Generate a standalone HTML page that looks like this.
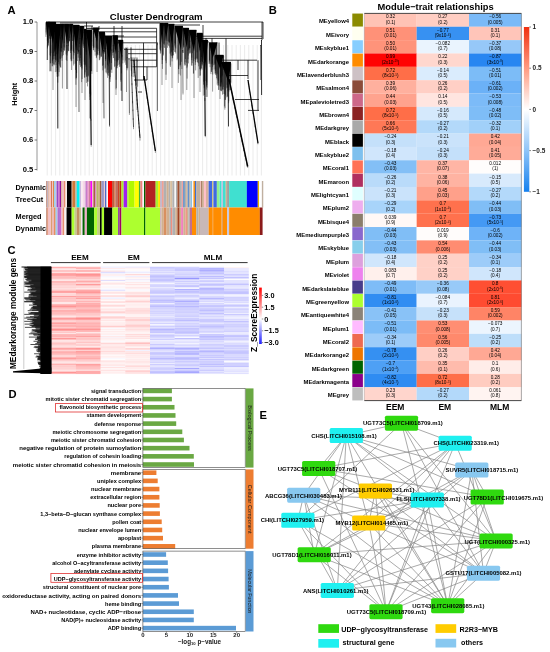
<!DOCTYPE html>
<html><head><meta charset="utf-8"><style>
html,body{margin:0;padding:0;background:#fff;width:550px;height:652px;overflow:hidden}
svg{display:block}
text{font-family:"Liberation Sans",Arial,sans-serif}
</style></head><body>
<svg width="550" height="652" viewBox="0 0 550 652">
<text x="7.60" y="14.20" font-size="11.2" font-weight="bold" text-anchor="start" fill="#000" >A</text>
<text x="268.80" y="13.60" font-size="11.2" font-weight="bold" text-anchor="start" fill="#000" >B</text>
<text x="7.60" y="254.40" font-size="11.2" font-weight="bold" text-anchor="start" fill="#000" >C</text>
<text x="8.60" y="397.60" font-size="11.2" font-weight="bold" text-anchor="start" fill="#000" >D</text>
<text x="259.50" y="418.60" font-size="11.2" font-weight="bold" text-anchor="start" fill="#000" >E</text>
<path d="M47.2 45V175.5M51.4 45V175.5M55.6 45V175.5M59.8 45V175.5M64.0 45V175.5M68.2 45V175.5M72.4 45V175.5M76.6 45V175.5M80.8 45V175.5M85.0 45V175.5M89.2 45V175.5M93.4 45V175.5M97.6 45V175.5M101.8 45V175.5M106.0 45V175.5M110.2 45V175.5M114.4 45V175.5M118.6 45V175.5M122.8 45V175.5M127.0 45V175.5M131.2 45V175.5M135.4 45V175.5M139.6 45V175.5M143.8 45V175.5M148.0 45V175.5M152.2 45V175.5M156.4 45V175.5M160.6 45V175.5M164.8 45V175.5M169.0 45V175.5M173.2 45V175.5M177.4 45V175.5M181.6 45V175.5M185.8 45V175.5M190.0 45V175.5M194.2 45V175.5M198.4 45V175.5M202.6 45V175.5M206.8 45V175.5M211.0 45V175.5M215.2 45V175.5M219.4 45V175.5M223.6 45V175.5M227.8 45V175.5M232.0 45V175.5M236.2 45V175.5M240.4 45V175.5M244.6 45V175.5M248.8 45V175.5M253.0 45V175.5M257.2 45V175.5M261.4 45V175.5" stroke="#e9e9e9" stroke-width="0.9" fill="none"/>
<path d="M45.8 22.0H50.0L48.6 28.1L47.3 34.2L46.5 28.1ZM48.0 22.0H56.0L54.5 32.9L53.0 43.8L50.5 32.9ZM54.0 24.0H61.0L59.4 40.8L57.8 57.6L55.9 40.8ZM61.0 24.0H64.0L63.2 34.3L62.4 44.6L61.7 34.3ZM64.0 24.0H69.0L68.0 34.4L67.0 44.8L65.5 34.4ZM69.0 24.0H73.0L72.3 31.4L71.6 38.7L70.3 31.4ZM73.0 25.0H79.5L77.8 38.1L76.0 51.2L74.5 38.1ZM79.5 26.0H84.0L83.0 36.7L82.0 47.4L80.8 36.7ZM84.0 29.0H86.5L85.8 40.4L85.0 51.7L84.5 40.4ZM86.0 30.0H92.0L91.5 48.4L91.0 66.8L88.5 48.4ZM93.0 27.8H99.0L98.0 34.9L97.0 41.9L95.0 34.9ZM99.0 32.0H105.0L104.0 43.4L103.0 54.7L101.0 43.4ZM105.0 36.0H112.0L110.8 50.2L109.5 64.5L107.2 50.2ZM112.7 35.5H118.0L117.0 45.0L116.0 54.5L114.3 45.0ZM118.0 40.0H123.0L122.5 49.8L122.0 59.5L120.0 49.8ZM159.8 23.0H164.0L163.0 32.9L162.0 42.8L160.9 32.9ZM164.0 23.0H168.4L167.2 32.1L166.0 41.2L165.0 32.1ZM168.4 24.0H174.5L173.2 34.2L172.0 44.5L170.2 34.2ZM174.5 26.0H183.0L182.0 37.8L181.0 49.7L177.8 37.8ZM183.0 28.0H189.0L187.9 37.9L186.8 47.8L184.9 37.9ZM189.0 30.0H196.6L195.3 40.9L194.0 51.8L191.5 40.9ZM196.6 33.0H202.8L201.4 42.4L200.0 51.9L198.3 42.4ZM202.0 40.0H208.0L206.5 55.3L205.0 70.7L203.5 55.3ZM209.0 42.5H217.5L215.1 50.4L212.6 58.2L210.8 50.4ZM215.0 55.0H223.6L221.8 62.0L220.0 69.1L217.5 62.0ZM221.0 62.0H231.0L229.8 72.2L228.5 82.5L224.8 72.2Z" fill="#000"/>
<path d="M45.91 22.9V36.9M46.13 22.1V32.5M46.35 23.3V34.6M45.80 28.9H46.46M47.32 23.0V40.7M47.50 23.0V48.5M47.69 22.8V47.1M47.87 23.0V39.8M48.05 23.1V45.5M47.23 23.7H48.15M49.29 23.3V37.8M49.48 23.4V35.7M49.67 23.2V36.0M49.87 23.4V38.9M49.19 23.7H50.54M47.30 22.0V60.0M46.00 22.0H49.80M48.11 22.9V42.4M48.32 22.8V43.3M48.53 22.5V45.5M49.89 23.3V71.4M50.07 23.0V55.3M50.24 23.3V70.9M50.42 23.4V63.3M50.59 23.1V56.3M50.76 23.2V63.3M50.94 22.4V53.2M51.11 23.3V71.4M49.81 38.4H51.20M52.18 23.2V66.2M52.35 22.1V61.3M52.52 22.1V63.2M52.69 22.5V66.3M52.86 23.5V59.6M53.44 22.0V56.2M53.62 22.6V64.6M53.81 22.2V53.1M53.99 23.3V58.9M54.49 22.8V51.8M54.67 22.9V50.7M54.84 22.9V55.9M55.01 22.8V48.9M55.19 23.1V46.4M55.36 22.5V56.4M55.53 22.8V50.5M55.71 22.0V48.6M53.00 22.0V90.0M48.20 22.0H55.80M54.11 24.1V64.2M54.32 24.7V65.3M54.00 38.1H54.42M55.34 25.0V72.1M55.52 24.4V62.3M55.69 24.9V59.8M55.86 24.5V59.6M56.04 24.6V65.0M56.21 24.5V60.8M56.38 25.2V54.3M56.83 25.2V71.7M57.00 24.3V76.7M57.17 25.0V68.0M57.34 24.5V74.0M57.52 25.3V77.0M57.69 25.3V69.8M57.86 24.5V82.6M58.58 24.8V62.1M58.76 25.2V76.4M58.94 24.3V63.9M59.12 25.2V72.1M59.30 25.2V65.6M58.49 32.5H59.39M59.94 24.6V58.7M60.13 24.6V67.5M60.31 24.2V51.2M60.49 25.4V66.9M60.67 25.5V59.1M60.85 25.4V67.7M59.85 38.0H61.13M57.80 24.0V129.0M54.20 24.0H60.80M61.09 24.4V52.3M61.28 24.3V48.2M61.47 24.9V51.6M61.66 25.2V48.2M61.85 25.4V57.8M62.04 25.4V60.8M62.23 25.3V56.1M61.00 35.9H62.32M63.30 24.8V52.3M63.49 25.4V55.2M63.69 24.5V49.9M62.40 24.0V88.5M61.20 24.0H63.80M64.09 24.3V46.7M64.28 25.2V43.0M64.46 25.2V51.0M64.65 25.2V49.9M64.83 24.0V47.7M66.03 24.8V54.5M66.26 24.7V60.0M65.92 26.7H66.37M66.97 25.5V61.0M67.15 24.1V55.5M67.33 24.5V52.6M66.88 34.8H67.42M67.88 24.5V43.4M68.05 24.8V50.3M68.22 24.6V42.9M68.40 24.3V46.2M68.57 24.9V51.1M68.75 24.6V51.2M67.00 24.0V89.0M64.20 24.0H68.80M69.09 25.1V40.7M69.26 25.0V41.1M69.44 24.4V41.5M69.61 25.0V37.9M69.79 24.6V40.7M70.57 25.2V53.0M70.75 24.7V50.7M70.93 25.2V59.3M71.10 25.3V61.4M71.28 25.0V60.4M71.46 24.8V50.4M71.64 24.9V48.8M71.82 24.2V61.0M70.48 27.3H71.91M72.64 24.0V40.9M72.90 24.2V40.9M71.60 24.0V70.0M69.20 24.0H72.80M73.09 26.2V51.0M73.28 26.2V58.7M73.47 26.1V52.1M73.66 26.1V65.5M73.85 25.1V55.4M74.04 25.8V63.8M74.23 25.4V53.1M73.00 36.0H74.32M75.56 25.6V69.9M75.74 25.6V63.5M75.91 25.8V84.8M76.09 25.6V79.4M76.26 25.2V78.0M76.44 26.1V77.7M76.62 25.8V73.1M77.41 26.1V61.0M77.59 25.8V54.1M77.76 26.1V50.5M77.93 25.4V50.4M78.11 25.9V52.3M78.28 25.3V57.7M78.45 26.4V52.1M78.63 26.1V53.7M79.19 25.0V47.3M79.37 25.6V44.0M79.11 29.6H80.15M76.00 25.0V107.0M73.20 25.0H79.30M79.59 26.7V61.2M79.77 26.7V65.0M79.95 27.2V60.6M80.13 26.7V63.2M80.30 27.3V58.0M80.48 27.1V67.1M80.66 26.7V55.1M79.50 38.6H80.75M81.23 26.4V66.3M81.42 26.4V66.2M81.61 27.1V82.1M81.80 27.3V68.1M82.00 27.3V69.5M82.19 26.6V79.0M81.14 30.9H82.28M83.54 26.9V47.8M83.72 26.0V44.3M83.91 26.7V45.9M83.44 32.3H84.76M82.00 26.0V93.0M79.70 26.0H83.80M84.09 29.2V64.6M84.27 30.0V61.7M84.45 30.3V77.3M84.63 29.1V77.9M84.82 29.6V74.6M85.00 30.1V65.3M85.18 30.0V72.3M85.36 30.2V64.7M86.16 29.2V52.1M86.35 29.5V54.7M85.00 29.0V100.0M84.20 29.0H86.30M86.09 30.9V66.8M86.26 31.3V77.1M86.43 30.2V82.9M86.60 30.2V69.9M86.77 31.1V75.8M86.94 30.8V76.8M86.00 38.7H87.02M87.54 31.1V86.4M87.74 31.1V81.4M87.94 30.4V81.9M88.47 31.2V75.5M88.69 30.5V76.5M89.62 30.2V100.0M89.80 30.1V93.8M89.98 31.2V118.2M90.16 30.3V96.9M90.33 30.6V118.8M90.51 31.2V119.0M90.69 30.9V95.4M89.53 41.6H90.78M91.46 30.4V70.9M91.66 30.0V71.3M91.86 31.3V73.9M91.37 40.9H92.35M91.00 30.0V145.0M86.20 30.0H91.80M93.09 28.8V45.9M93.26 29.1V47.7M93.43 28.7V49.9M93.61 27.8V50.3M93.78 28.8V47.7M93.95 28.6V47.4M93.00 33.6H94.04M95.00 28.5V51.9M95.22 29.2V55.6M94.89 37.3H95.33M96.15 28.2V47.7M96.33 28.6V58.2M96.51 28.3V57.5M96.69 28.8V48.6M96.87 29.1V54.3M97.05 29.2V55.7M97.54 29.1V54.5M97.73 28.9V55.1M97.93 28.0V48.9M98.12 27.9V51.0M97.44 35.4H98.22M97.00 27.8V72.0M93.20 27.8H98.80M99.10 33.0V54.9M99.29 32.7V60.3M99.49 32.6V53.2M99.68 33.3V59.9M99.88 32.6V55.6M100.07 32.8V58.4M99.00 33.6H100.17M101.03 32.7V56.9M101.24 32.3V56.5M101.45 32.6V56.5M100.93 35.2H101.56M102.65 32.0V65.9M102.85 32.6V70.4M103.04 32.1V65.1M102.55 34.6H103.14M103.95 32.7V50.4M104.13 32.9V52.4M104.31 32.2V49.0M104.49 33.1V51.7M104.68 33.2V53.7M104.86 33.4V52.1M103.85 35.9H105.32M103.00 32.0V103.0M99.20 32.0H104.80M105.09 36.1V68.8M105.28 37.5V67.7M105.46 36.0V59.0M105.65 36.1V61.1M105.83 36.1V59.4M106.02 37.0V72.1M106.20 36.3V73.2M105.00 48.4H106.30M107.23 36.5V73.7M107.41 37.4V64.8M107.58 36.4V77.9M107.76 36.2V69.8M107.94 36.5V75.0M108.11 37.4V66.3M108.29 37.1V76.0M108.46 37.3V72.9M109.80 37.2V79.2M110.00 36.4V72.4M110.20 37.1V81.9M110.40 37.1V77.2M109.70 41.6H110.50M111.24 37.1V69.9M111.43 36.1V63.0M111.63 37.3V69.4M111.83 37.3V72.9M111.14 50.1H112.32M109.50 36.0V125.0M105.20 36.0H111.80M112.79 35.6V55.5M112.96 36.9V52.9M113.13 36.4V52.8M113.30 35.6V58.1M113.48 35.9V51.9M113.65 35.7V58.1M113.82 36.4V51.8M112.70 45.7H113.91M114.58 36.7V67.1M114.79 36.7V66.1M115.01 35.8V60.6M114.47 48.2H115.12M115.99 35.8V89.4M116.16 35.6V79.8M116.34 35.8V88.0M116.79 36.0V68.2M116.97 36.2V60.8M117.16 36.8V68.2M117.34 36.7V62.4M117.53 36.3V66.2M117.71 36.6V60.4M116.70 44.0H117.80M116.00 35.5V95.0M112.90 35.5H117.80M118.12 40.6V64.9M118.36 40.9V60.1M118.00 51.5H118.48M119.35 40.3V58.3M119.54 41.4V64.4M119.73 41.3V67.1M119.93 40.9V66.5M120.77 41.4V81.7M120.94 41.2V80.0M121.11 41.5V90.5M121.28 40.4V90.8M121.46 40.3V73.4M122.78 40.1V63.4M122.96 40.4V60.3M122.69 48.1H123.42M122.00 40.0V101.0M118.20 40.0H122.80M124.90 48.4V62.6M125.31 48.1V60.5M125.72 49.1V64.8M126.63 48.2V67.9M127.00 48.7V70.3M127.37 48.8V68.5M127.74 49.3V67.9M126.44 57.8H127.92M126.50 48.0V92.0M124.90 48.0H128.30M131.32 59.2V70.6M131.97 58.2V74.3M133.11 59.2V77.1M134.02 58.3V73.1M134.65 58.6V76.4M133.70 64.0H134.96M136.40 59.2V84.8M136.14 60.3H136.65M137.63 59.4V86.7M137.19 61.0H138.07M137.00 58.0V110.0M131.20 58.0H137.80M159.89 24.2V49.4M160.06 23.4V44.4M160.24 23.0V50.3M160.42 24.3V53.7M160.59 23.7V50.7M160.77 24.4V52.6M160.95 23.9V47.6M162.13 24.5V64.0M162.33 23.6V60.0M162.52 23.7V68.9M162.03 42.2H162.62M163.14 23.6V54.5M163.33 24.2V55.6M163.52 23.9V43.8M162.00 23.0V85.0M160.00 23.0H163.80M164.10 24.1V47.5M164.30 23.2V45.0M164.50 23.6V43.6M164.70 24.3V48.0M164.90 24.0V40.5M165.82 23.5V60.6M166.02 24.4V74.7M166.22 23.5V63.2M165.72 28.1H166.32M167.04 23.3V41.1M167.27 23.1V44.5M167.49 24.1V47.8M166.00 23.0V80.0M164.20 23.0H168.20M168.49 25.4V41.4M168.68 24.4V45.4M168.86 24.4V46.1M169.05 24.1V42.7M169.24 25.4V42.2M169.42 25.4V42.5M169.61 25.5V47.6M170.05 24.3V53.6M170.23 25.2V65.5M170.42 24.1V67.0M170.92 25.5V55.2M171.12 24.2V52.5M171.33 24.2V56.0M171.53 25.4V51.7M170.81 40.3H171.63M172.08 24.5V61.4M172.27 24.7V57.7M172.45 24.5V47.4M172.64 24.5V58.3M172.83 25.2V55.8M173.01 24.7V55.2M173.20 24.7V55.2M173.39 25.2V50.3M172.00 24.0V88.0M168.60 24.0H174.30M174.59 27.4V51.9M174.77 26.3V45.6M174.95 26.3V43.2M175.12 27.5V47.4M175.30 27.3V44.3M175.48 26.0V52.1M175.66 27.2V53.5M175.84 27.0V48.5M177.11 26.2V60.3M177.36 26.5V58.8M176.98 32.6H177.48M178.35 27.4V82.9M178.54 27.3V69.3M178.74 27.5V69.0M178.94 26.2V74.2M179.96 27.5V65.2M180.15 26.7V66.5M180.35 27.3V75.5M180.54 26.8V64.8M181.62 27.2V61.8M181.86 27.3V69.0M182.73 27.3V49.7M182.93 27.3V53.0M182.63 30.7H183.43M181.00 26.0V100.0M174.70 26.0H182.80M183.10 29.0V52.9M183.29 28.9V45.5M183.48 28.3V47.6M183.67 28.9V45.5M183.86 28.1V47.1M183.00 29.6H183.96M184.68 29.1V64.4M184.88 29.3V65.7M185.08 28.7V62.2M185.28 28.2V65.2M185.48 28.6V59.0M186.79 28.9V62.7M186.97 28.0V68.2M187.15 28.0V78.6M187.33 28.3V66.6M186.70 40.4H187.42M187.94 28.7V50.9M188.11 29.5V59.3M188.29 28.1V55.6M188.46 29.1V63.4M188.64 28.1V49.5M187.85 35.0H188.72M186.80 28.0V90.0M183.20 28.0H188.80M189.09 30.6V53.7M189.26 31.3V49.7M189.43 30.6V48.2M189.61 31.0V47.7M189.78 31.4V53.2M189.95 30.9V48.3M190.12 30.3V52.4M190.30 31.3V53.4M189.00 41.2H190.38M191.51 30.4V65.5M191.70 30.2V60.1M191.89 30.9V57.7M192.08 31.2V65.7M192.26 31.3V63.2M192.45 30.3V53.2M191.42 35.9H192.55M193.40 31.2V73.7M193.61 30.2V73.3M193.81 30.6V60.9M193.30 32.8H193.91M195.08 31.2V59.1M195.27 30.6V64.9M195.46 30.3V62.3M195.65 30.4V70.4M195.84 30.5V59.8M194.99 39.4H195.94M196.55 38.5H197.57M194.00 30.0V98.0M189.20 30.0H196.40M196.69 33.6V58.2M196.87 33.9V59.3M197.05 33.7V52.4M197.22 34.2V62.1M197.40 33.7V58.7M197.58 33.4V62.5M198.19 33.5V77.9M198.41 33.7V63.4M198.62 34.1V66.3M199.84 34.3V69.2M200.02 33.8V76.0M200.19 33.7V69.4M200.37 33.9V75.3M200.54 33.3V62.1M200.71 34.1V70.5M199.76 49.5H200.80M201.24 34.3V68.6M201.41 33.4V57.0M201.58 34.0V68.4M201.75 33.5V64.3M201.92 33.9V60.9M202.10 34.0V65.7M202.27 33.6V58.6M202.44 33.8V61.9M200.00 33.0V92.0M196.80 33.0H202.60M202.10 40.6V69.7M202.29 40.2V62.3M202.49 40.7V64.5M203.31 41.4V95.6M203.51 40.8V84.7M203.70 40.1V81.7M203.21 62.3H203.80M204.23 40.7V88.3M204.41 41.4V86.5M204.58 40.9V95.1M204.14 48.7H204.67M205.92 41.4V80.9M206.10 41.1V97.0M206.29 40.3V89.6M206.47 41.5V86.6M206.66 41.1V82.5M206.84 41.0V85.1M207.03 40.8V87.6M207.21 41.3V96.9M205.00 40.0V135.8M202.20 40.0H207.80M209.10 42.9V64.0M209.29 43.4V62.5M209.48 42.6V60.1M209.67 43.5V60.8M209.87 43.6V63.8M210.06 43.9V67.2M210.91 43.6V74.1M211.12 42.8V64.3M211.32 44.0V71.9M211.52 43.2V71.8M210.81 50.3H211.62M212.01 42.7V69.8M212.20 43.8V64.0M212.39 42.5V62.8M212.58 43.7V67.1M212.76 43.2V74.5M212.95 43.4V65.4M213.97 42.8V65.1M214.17 43.3V69.5M214.88 43.7V64.4M215.05 43.5V63.1M215.22 42.8V64.3M216.41 42.6V58.4M216.61 43.4V60.5M216.80 43.4V58.4M217.00 42.5V55.9M216.32 45.1H217.10M212.60 42.5V91.6M209.20 42.5H217.30M215.09 55.9V74.1M215.26 56.1V73.0M215.43 55.6V71.1M215.60 55.1V75.1M215.77 55.8V69.3M215.94 56.4V73.5M216.62 55.3V78.0M216.79 56.5V75.4M216.97 55.7V79.4M217.15 55.4V84.7M217.32 55.6V73.8M216.53 56.6H217.41M217.88 55.1V85.8M218.08 55.5V83.1M218.27 55.5V80.7M218.47 55.2V85.2M218.66 55.1V89.9M218.86 55.1V89.9M217.78 57.8H218.96M220.12 55.8V86.1M220.30 55.1V86.6M220.47 55.8V90.8M220.64 55.0V77.8M220.82 56.0V90.3M220.99 55.6V87.2M221.17 55.8V82.7M220.04 64.5H221.25M222.12 55.4V76.6M222.33 55.4V75.3M223.07 55.3V67.9M223.24 55.1V67.2M223.42 55.9V69.9M223.59 55.4V66.9M222.98 57.0H224.20M220.00 55.0V99.0M215.20 55.0H223.40M221.10 62.8V86.1M221.29 62.6V82.2M221.48 63.1V91.3M221.67 62.5V90.9M221.86 62.4V84.4M221.00 65.9H221.95M222.53 62.2V94.7M222.71 62.7V89.3M222.89 62.8V90.0M223.07 62.3V89.4M223.24 63.0V94.0M223.42 63.4V86.9M224.46 62.2V106.4M224.64 63.3V94.1M224.83 62.9V109.7M225.01 62.4V107.9M225.19 63.4V100.0M225.38 62.2V95.5M225.56 63.2V99.7M224.37 72.0H225.65M226.67 63.4V88.4M226.84 62.6V97.4M227.02 62.4V84.8M227.20 63.3V87.3M227.38 62.3V96.8M227.56 62.3V96.3M227.73 62.5V87.9M227.91 62.3V91.2M228.60 63.3V103.2M228.80 63.1V101.3M229.01 62.1V91.6M229.22 62.3V90.1M230.15 62.2V84.3M230.32 62.1V89.8M230.50 62.4V82.8M230.67 63.4V82.1M230.85 63.4V83.3M228.50 62.0V126.0M221.20 62.0H230.80M144.00 76.0V77.1M144.30 78.0V80.8M144.60 79.9V81.7M144.90 81.9V83.5M145.20 83.9V86.2M145.50 85.9V88.0M145.80 87.8V89.3M146.10 89.8V91.0M146.40 91.8V93.9M146.70 93.8V94.7M147.00 95.7V98.5M147.30 97.7V99.3M147.60 99.7V100.9M147.90 101.7V103.2M148.20 103.6V104.8M148.50 105.6V107.2M148.80 107.6V109.6M149.10 109.6V111.3M149.40 111.5V113.1M149.70 113.5V115.0M150.00 115.5V117.4M150.30 117.4V120.0M150.60 119.4V121.2M150.90 121.4V123.9M151.20 123.4V125.3M151.50 125.3V126.5M151.80 127.3V128.6M152.10 129.3V132.0M152.40 131.3V133.2M152.70 133.2V134.9M153.00 135.2V137.2M153.30 137.2V139.9M153.60 139.2V140.8M153.90 141.1V142.8M154.20 143.1V144.8M154.50 145.1V146.0M154.80 147.1V149.1M155.10 149.0V150.9M155.40 151.0V152.9M229.00 79.0V80.8M229.30 80.4V82.3M229.60 81.8V84.2M229.90 83.2V84.5M230.21 84.6V87.6M230.51 86.1V87.2M230.81 87.5V90.2M231.11 88.9V90.1M231.41 90.3V92.9M231.71 91.7V93.1M232.02 93.1V94.2M232.32 94.5V96.6M232.62 95.9V98.6M232.92 97.3V100.0M233.22 98.8V101.5M233.52 100.2V103.1M233.83 101.6V102.6M234.13 103.0V104.7M234.43 104.4V105.5M234.73 105.8V108.3M235.03 107.2V109.1M235.33 108.6V111.1M235.64 110.0V112.6M235.94 111.5V114.5M236.24 112.9V115.2M236.54 114.3V117.0M236.84 115.7V117.7M237.14 117.1V118.2M237.45 118.5V121.3M237.75 119.9V121.0M238.05 121.3V122.4M238.35 122.8V125.4M238.65 124.2V125.7M238.95 125.6V127.9M239.25 127.0V127.9M239.56 128.4V129.7M239.86 129.8V132.2M240.16 131.2V132.2M240.46 132.6V134.6M240.76 134.0V136.9M241.06 135.5V136.8M241.37 136.9V139.2M241.67 138.3V140.7M241.97 139.7V141.9M242.27 141.1V143.6M242.57 142.5V144.9M242.87 143.9V144.8M243.18 145.3V146.6M243.48 146.7V148.8M243.78 148.2V151.1M244.08 149.6V150.9M244.38 151.0V153.1M244.68 152.4V153.6M244.99 153.8V156.5M245.29 155.2V157.0M245.59 156.6V158.6M245.89 158.0V160.3M246.19 159.4V160.6M246.49 160.9V163.3M246.80 162.3V164.8M247.10 163.7V166.4M247.40 165.1V166.6M247.70 166.5V167.9M248.00 80.0V81.2M248.30 81.9V84.7M248.61 83.8V85.6M248.91 85.7V87.4M249.21 87.6V89.6M249.52 89.5V91.9M249.82 91.5V93.0M250.12 93.4V95.0M250.42 95.3V97.8M250.73 97.2V99.7M251.03 99.1V100.6M251.33 101.0V102.1M251.64 102.9V105.8M251.94 104.8V107.3M252.24 106.7V108.9M252.55 108.6V110.4M252.85 110.5V113.5M253.15 112.5V114.3M253.45 114.4V115.7M253.76 116.3V117.4M254.06 118.2V119.8M254.36 120.1V122.3M254.67 122.0V123.7M254.97 123.9V126.8M255.27 125.8V128.1M255.58 127.7V129.6M255.88 129.6V131.9M256.18 131.5V133.7M256.48 133.5V135.7M256.79 135.4V137.3M257.09 137.3V139.3M257.39 139.2V141.1M257.70 141.1V143.7M258.00 143.0V144.3M134.00 60.0V62.5M134.30 63.9V65.4M134.60 67.8V70.5M134.90 71.7V72.8M135.20 75.6V77.5M135.50 79.5V81.3M135.80 83.4V85.8M136.10 87.3V88.6M136.40 91.2V92.7M136.70 95.1V96.3M137.00 99.0V101.1M137.30 102.9V105.0M137.60 106.8V107.7M137.90 110.7V112.0M138.20 114.6V115.9M138.50 118.5V121.4M138.80 122.4V124.3M139.10 126.3V128.4M139.40 130.2V131.7M139.70 134.1V136.4M140.00 138.0V140.6M131.00 57.0V59.3M131.31 65.8V66.7M131.62 74.5V76.3M131.94 83.2V85.2M132.25 92.0V93.0M132.56 100.8V103.3M132.88 109.5V111.1M133.19 118.2V119.8M133.50 127.0V129.2M129.00 58.0V60.1M129.40 113.0V114.9M157.40 42.5V45.2M90.00 40.0V42.0M90.30 66.2V67.9M90.60 92.5V93.5M90.90 118.8V120.8M91.20 145.0V146.7M57.50 50.0V51.4M103.50 50.0V51.1M104.00 118.0V118.6M109.00 50.0V50.7M109.50 126.0V126.8M78.80 50.0V50.7M121.80 55.0V56.8M228.00 75.0V76.4M228.50 126.0V126.9M182.70 50.0V51.6M183.00 93.0V94.5M66.80 45.0V45.7M47.50 30.0V31.7M204.50 60.0V61.4M204.90 98.0V101.0M205.30 136.0V137.2M261.50 40.0V41.0M260.50 45.0V45.9" stroke="#000" stroke-width="0.4" fill="none"/><line x1="144" y1="76" x2="155.4" y2="151" stroke="#000" stroke-width="1.3"/><line x1="229" y1="79" x2="247.7" y2="166.5" stroke="#000" stroke-width="1.4"/><line x1="248" y1="80" x2="258" y2="143" stroke="#000" stroke-width="1.2"/><line x1="134" y1="60" x2="140" y2="138" stroke="#000" stroke-width="0.9"/><line x1="131" y1="57" x2="133.5" y2="127" stroke="#000" stroke-width="0.7"/><line x1="129" y1="58" x2="129.4" y2="113" stroke="#000" stroke-width="0.6"/><line x1="157.4" y1="42.5" x2="157.4" y2="111" stroke="#000" stroke-width="0.6"/><line x1="90" y1="40" x2="91.2" y2="145" stroke="#000" stroke-width="0.9"/><line x1="57.5" y1="50" x2="57.8" y2="128" stroke="#000" stroke-width="0.6"/><line x1="103.5" y1="50" x2="104" y2="118" stroke="#000" stroke-width="0.6"/><line x1="109" y1="50" x2="109.5" y2="126" stroke="#000" stroke-width="0.6"/><line x1="78.8" y1="50" x2="79" y2="112" stroke="#000" stroke-width="0.6"/><line x1="121.8" y1="55" x2="122" y2="101" stroke="#000" stroke-width="0.5"/><line x1="228" y1="75" x2="228.5" y2="126" stroke="#000" stroke-width="0.6"/><line x1="182.7" y1="50" x2="183" y2="93" stroke="#000" stroke-width="0.5"/><line x1="66.8" y1="45" x2="67" y2="89" stroke="#000" stroke-width="0.5"/><line x1="47.5" y1="30" x2="47.3" y2="60" stroke="#000" stroke-width="0.5"/><line x1="204.5" y1="60" x2="205.3" y2="136" stroke="#000" stroke-width="0.9"/><line x1="261.5" y1="40" x2="261.6" y2="95" stroke="#000" stroke-width="0.8"/><line x1="260.5" y1="45" x2="260.7" y2="80" stroke="#000" stroke-width="0.5"/><line x1="46" y1="22" x2="263" y2="22" stroke="#000" stroke-width="0.75"/><line x1="263" y1="22" x2="263" y2="39" stroke="#000" stroke-width="0.75"/><line x1="196" y1="36.2" x2="262" y2="36.2" stroke="#000" stroke-width="0.75"/><line x1="198" y1="38.4" x2="262" y2="38.4" stroke="#000" stroke-width="0.75"/><line x1="84" y1="26" x2="93" y2="26" stroke="#000" stroke-width="0.75"/><line x1="100" y1="36" x2="124" y2="36" stroke="#000" stroke-width="0.75"/><line x1="86.8" y1="28.3" x2="156.6" y2="28.3" stroke="#000" stroke-width="0.75"/><line x1="93.3" y1="31.8" x2="156.6" y2="31.8" stroke="#000" stroke-width="0.75"/><line x1="115" y1="37" x2="156.6" y2="37" stroke="#000" stroke-width="0.75"/><line x1="117" y1="42.8" x2="156.6" y2="42.8" stroke="#000" stroke-width="0.75"/><line x1="124" y1="49.3" x2="156.6" y2="49.3" stroke="#000" stroke-width="0.75"/><line x1="128" y1="53.7" x2="156.6" y2="53.7" stroke="#000" stroke-width="0.75"/><line x1="130.5" y1="60.2" x2="156.6" y2="60.2" stroke="#000" stroke-width="0.75"/><line x1="132.6" y1="66.8" x2="156.6" y2="66.8" stroke="#000" stroke-width="0.75"/><line x1="134" y1="80" x2="147" y2="80" stroke="#000" stroke-width="0.75"/><line x1="138" y1="92" x2="142" y2="92" stroke="#000" stroke-width="0.75"/><line x1="222" y1="60.2" x2="257" y2="60.2" stroke="#000" stroke-width="0.75"/><line x1="229" y1="75.5" x2="248" y2="75.5" stroke="#000" stroke-width="0.75"/><line x1="235" y1="99.5" x2="259" y2="99.5" stroke="#000" stroke-width="0.75"/><line x1="248" y1="110.4" x2="259" y2="110.4" stroke="#000" stroke-width="0.75"/><line x1="200" y1="41" x2="204" y2="41" stroke="#000" stroke-width="0.75"/><line x1="204" y1="42" x2="209" y2="42" stroke="#000" stroke-width="0.75"/><line x1="60" y1="23" x2="160" y2="23" stroke="#000" stroke-width="0.75"/><line x1="160" y1="25" x2="200" y2="25" stroke="#000" stroke-width="0.75"/><line x1="86" y1="29" x2="100" y2="29" stroke="#000" stroke-width="0.75"/><line x1="92" y1="26" x2="92" y2="30" stroke="#000" stroke-width="0.75"/><line x1="108.5" y1="36" x2="108.5" y2="40" stroke="#000" stroke-width="0.75"/><line x1="156.6" y1="28.3" x2="156.6" y2="66.8" stroke="#000" stroke-width="0.75"/><line x1="143.5" y1="42.8" x2="143.5" y2="80" stroke="#000" stroke-width="0.75"/><line x1="131" y1="47.4" x2="131" y2="57" stroke="#000" stroke-width="0.75"/><line x1="203" y1="25" x2="203" y2="40" stroke="#000" stroke-width="0.75"/><line x1="206" y1="38" x2="206" y2="42" stroke="#000" stroke-width="0.75"/><line x1="262" y1="22" x2="262" y2="40" stroke="#000" stroke-width="0.75"/><line x1="258" y1="60.2" x2="258" y2="110.4" stroke="#000" stroke-width="0.75"/><line x1="248" y1="60.2" x2="248" y2="79" stroke="#000" stroke-width="0.75"/><line x1="238" y1="60.2" x2="238" y2="70" stroke="#000" stroke-width="0.75"/><line x1="147" y1="66.8" x2="147" y2="80" stroke="#000" stroke-width="0.75"/><line x1="114" y1="26" x2="114" y2="36" stroke="#000" stroke-width="0.75"/><line x1="122" y1="26" x2="122" y2="40" stroke="#000" stroke-width="0.75"/><line x1="86.5" y1="22" x2="86.5" y2="29" stroke="#000" stroke-width="0.75"/><line x1="226" y1="38.4" x2="226" y2="62" stroke="#000" stroke-width="0.75"/><line x1="212" y1="38.4" x2="212" y2="42.5" stroke="#000" stroke-width="0.75"/><line x1="219" y1="42.5" x2="219" y2="55" stroke="#000" stroke-width="0.75"/><line x1="99" y1="26" x2="99" y2="28" stroke="#000" stroke-width="0.75"/>
<text x="156.20" y="19.90" font-size="9.6" font-weight="bold" text-anchor="middle" fill="#000" >Cluster Dendrogram</text>
<line x1="37" y1="22" x2="37" y2="170.5" stroke="#8a8a8a" stroke-width="0.9"/>
<line x1="34.6" y1="22.0" x2="37" y2="22.0" stroke="#555" stroke-width="0.8"/>
<text x="33.30" y="24.30" font-size="7.6" font-weight="bold" text-anchor="end" fill="#000" >1.0</text>
<line x1="34.6" y1="51.5" x2="37" y2="51.5" stroke="#555" stroke-width="0.8"/>
<text x="33.30" y="53.80" font-size="7.6" font-weight="bold" text-anchor="end" fill="#000" >0.9</text>
<line x1="34.6" y1="81.0" x2="37" y2="81.0" stroke="#555" stroke-width="0.8"/>
<text x="33.30" y="83.30" font-size="7.6" font-weight="bold" text-anchor="end" fill="#000" >0.8</text>
<line x1="34.6" y1="110.5" x2="37" y2="110.5" stroke="#555" stroke-width="0.8"/>
<text x="33.30" y="112.80" font-size="7.6" font-weight="bold" text-anchor="end" fill="#000" >0.7</text>
<line x1="34.6" y1="140.0" x2="37" y2="140.0" stroke="#555" stroke-width="0.8"/>
<text x="33.30" y="142.30" font-size="7.6" font-weight="bold" text-anchor="end" fill="#000" >0.6</text>
<line x1="34.6" y1="169.5" x2="37" y2="169.5" stroke="#555" stroke-width="0.8"/>
<text x="33.30" y="171.80" font-size="7.6" font-weight="bold" text-anchor="end" fill="#000" >0.5</text>
<text x="0.00" y="0.00" font-size="7.4" font-weight="bold" text-anchor="middle" fill="#000" transform="translate(17.4,94.3) rotate(-90)">Height</text>
<text x="15.60" y="190.20" font-size="7.3" font-weight="bold" text-anchor="start" fill="#000" >Dynamic</text>
<text x="15.60" y="202.00" font-size="7.45" font-weight="bold" text-anchor="start" fill="#000" >TreeCut</text>
<text x="15.60" y="219.20" font-size="7.3" font-weight="bold" text-anchor="start" fill="#000" >Merged</text>
<text x="15.60" y="231.00" font-size="7.3" font-weight="bold" text-anchor="start" fill="#000" >Dynamic</text>
<rect x="46.18" y="181" width="1.07" height="26.5" fill="#c08878"/>
<rect x="47.20" y="181" width="1.21" height="26.5" fill="#b8a8b8"/>
<rect x="48.36" y="181" width="1.21" height="26.5" fill="#e0a888"/>
<rect x="49.53" y="181" width="1.50" height="26.5" fill="#f4c4c4"/>
<rect x="50.98" y="181" width="1.07" height="26.5" fill="#d87858"/>
<rect x="52.00" y="181" width="1.07" height="26.5" fill="#f4c4c4"/>
<rect x="53.02" y="181" width="1.21" height="26.5" fill="#e08848"/>
<rect x="54.18" y="181" width="1.50" height="26.5" fill="#88d0f0"/>
<rect x="55.64" y="181" width="1.21" height="26.5" fill="#c8a8d8"/>
<rect x="56.80" y="181" width="1.50" height="26.5" fill="#9848c8"/>
<rect x="58.25" y="181" width="1.80" height="26.5" fill="#c868c8"/>
<rect x="60.00" y="181" width="1.21" height="26.5" fill="#9010a0"/>
<rect x="61.16" y="181" width="1.50" height="26.5" fill="#d8b098"/>
<rect x="62.62" y="181" width="1.50" height="26.5" fill="#f0b8c0"/>
<rect x="64.07" y="181" width="1.50" height="26.5" fill="#e88868"/>
<rect x="65.53" y="181" width="1.50" height="26.5" fill="#f8f0f0"/>
<rect x="66.98" y="181" width="4.70" height="26.5" fill="#000000"/>
<rect x="71.64" y="181" width="0.78" height="26.5" fill="#c8a078"/>
<rect x="72.36" y="181" width="2.96" height="26.5" fill="#d07838"/>
<rect x="75.27" y="181" width="1.50" height="26.5" fill="#b8b098"/>
<rect x="76.73" y="181" width="2.96" height="26.5" fill="#00f0f0"/>
<rect x="79.64" y="181" width="1.50" height="26.5" fill="#c8b8e0"/>
<rect x="81.09" y="181" width="1.94" height="26.5" fill="#f8e8f0"/>
<rect x="82.98" y="181" width="1.80" height="26.5" fill="#f8d8e8"/>
<rect x="84.73" y="181" width="1.50" height="26.5" fill="#d8b0d8"/>
<rect x="86.18" y="181" width="1.50" height="26.5" fill="#c060c0"/>
<rect x="87.64" y="181" width="1.80" height="26.5" fill="#f0a0c8"/>
<rect x="89.38" y="181" width="1.21" height="26.5" fill="#b05070"/>
<rect x="90.55" y="181" width="1.50" height="26.5" fill="#ff00ff"/>
<rect x="92.00" y="181" width="1.50" height="26.5" fill="#f0c0d0"/>
<rect x="93.45" y="181" width="1.50" height="26.5" fill="#a05030"/>
<rect x="94.91" y="181" width="1.50" height="26.5" fill="#d890c8"/>
<rect x="96.36" y="181" width="1.80" height="26.5" fill="#b8b868"/>
<rect x="98.11" y="181" width="1.94" height="26.5" fill="#c8b080"/>
<rect x="100.00" y="181" width="1.50" height="26.5" fill="#a06040"/>
<rect x="101.45" y="181" width="2.52" height="26.5" fill="#9898c8"/>
<rect x="103.93" y="181" width="1.21" height="26.5" fill="#f0c8d0"/>
<rect x="105.09" y="181" width="1.50" height="26.5" fill="#4060c0"/>
<rect x="106.55" y="181" width="1.50" height="26.5" fill="#f8f8f8"/>
<rect x="108.00" y="181" width="4.41" height="26.5" fill="#ff0000"/>
<rect x="112.36" y="181" width="1.50" height="26.5" fill="#a04020"/>
<rect x="113.82" y="181" width="1.50" height="26.5" fill="#e08860"/>
<rect x="115.27" y="181" width="2.96" height="26.5" fill="#c07060"/>
<rect x="118.18" y="181" width="1.50" height="26.5" fill="#c02000"/>
<rect x="119.64" y="181" width="0.41" height="26.5" fill="#a0a040"/>
<rect x="120.00" y="181" width="1.50" height="26.5" fill="#c03000"/>
<rect x="121.45" y="181" width="2.23" height="26.5" fill="#a8f030"/>
<rect x="123.64" y="181" width="3.69" height="26.5" fill="#a020f0"/>
<rect x="127.27" y="181" width="1.50" height="26.5" fill="#a8f030"/>
<rect x="128.73" y="181" width="5.87" height="26.5" fill="#b0f800"/>
<rect x="134.55" y="181" width="4.41" height="26.5" fill="#ffff00"/>
<rect x="138.91" y="181" width="1.50" height="26.5" fill="#40b040"/>
<rect x="140.36" y="181" width="2.23" height="26.5" fill="#f08080"/>
<rect x="142.55" y="181" width="1.50" height="26.5" fill="#f8f8f8"/>
<rect x="144.00" y="181" width="1.50" height="26.5" fill="#006400"/>
<rect x="145.45" y="181" width="10.23" height="26.5" fill="#b22222"/>
<rect x="155.64" y="181" width="2.52" height="26.5" fill="#a8f030"/>
<rect x="158.11" y="181" width="1.94" height="26.5" fill="#ffe000"/>
<rect x="160.00" y="181" width="2.23" height="26.5" fill="#c8b8c8"/>
<rect x="162.18" y="181" width="1.50" height="26.5" fill="#f09080"/>
<rect x="163.64" y="181" width="2.96" height="26.5" fill="#b0b0b0"/>
<rect x="166.55" y="181" width="2.23" height="26.5" fill="#d0b090"/>
<rect x="168.73" y="181" width="1.50" height="26.5" fill="#b0b0b0"/>
<rect x="170.18" y="181" width="2.23" height="26.5" fill="#d8c0a0"/>
<rect x="172.36" y="181" width="2.23" height="26.5" fill="#b0b0b0"/>
<rect x="174.55" y="181" width="1.50" height="26.5" fill="#f8f8f8"/>
<rect x="176.00" y="181" width="1.50" height="26.5" fill="#b0b0b0"/>
<rect x="177.45" y="181" width="2.23" height="26.5" fill="#a05030"/>
<rect x="179.64" y="181" width="2.23" height="26.5" fill="#b0b0b0"/>
<rect x="181.82" y="181" width="1.50" height="26.5" fill="#f0a0a0"/>
<rect x="183.27" y="181" width="1.50" height="26.5" fill="#4080c0"/>
<rect x="184.73" y="181" width="1.50" height="26.5" fill="#b0b0b0"/>
<rect x="186.18" y="181" width="1.50" height="26.5" fill="#d0b090"/>
<rect x="187.64" y="181" width="1.50" height="26.5" fill="#6090d0"/>
<rect x="189.09" y="181" width="1.50" height="26.5" fill="#b0b0b0"/>
<rect x="190.55" y="181" width="1.50" height="26.5" fill="#90c0e0"/>
<rect x="192.00" y="181" width="1.50" height="26.5" fill="#f8f8f8"/>
<rect x="193.45" y="181" width="1.50" height="26.5" fill="#ff9000"/>
<rect x="194.91" y="181" width="1.50" height="26.5" fill="#4070d0"/>
<rect x="196.36" y="181" width="3.69" height="26.5" fill="#c0b0a0"/>
<rect x="199.99" y="181" width="1.20" height="26.5" fill="#f0c0c0"/>
<rect x="201.14" y="181" width="1.41" height="26.5" fill="#a07050"/>
<rect x="202.50" y="181" width="1.41" height="26.5" fill="#d0b090"/>
<rect x="203.87" y="181" width="2.10" height="26.5" fill="#ffc0cb"/>
<rect x="205.91" y="181" width="2.78" height="26.5" fill="#d8b0a0"/>
<rect x="208.64" y="181" width="3.46" height="26.5" fill="#4169e1"/>
<rect x="212.05" y="181" width="1.41" height="26.5" fill="#d0c080"/>
<rect x="213.42" y="181" width="3.46" height="26.5" fill="#4169e1"/>
<rect x="216.83" y="181" width="2.78" height="26.5" fill="#90ee90"/>
<rect x="219.56" y="181" width="2.10" height="26.5" fill="#40e0d0"/>
<rect x="221.60" y="181" width="1.41" height="26.5" fill="#c8c0e0"/>
<rect x="222.97" y="181" width="2.78" height="26.5" fill="#40e0d0"/>
<rect x="225.70" y="181" width="1.41" height="26.5" fill="#d0b090"/>
<rect x="227.06" y="181" width="2.10" height="26.5" fill="#a0a0a0"/>
<rect x="229.11" y="181" width="17.79" height="26.5" fill="#40e0d0"/>
<rect x="246.84" y="181" width="10.96" height="26.5" fill="#0000ff"/>
<rect x="257.76" y="181" width="1.41" height="26.5" fill="#e0b000"/>
<rect x="259.12" y="181" width="2.78" height="26.5" fill="#ffffff"/>
<rect x="261.85" y="181" width="1.41" height="26.5" fill="#c0b0a0"/>
<rect x="46.18" y="207.5" width="1.07" height="27.5" fill="#c08878"/>
<rect x="47.20" y="207.5" width="1.21" height="27.5" fill="#e09070"/>
<rect x="48.36" y="207.5" width="1.50" height="27.5" fill="#f0b8c0"/>
<rect x="49.82" y="207.5" width="1.50" height="27.5" fill="#f4c4c4"/>
<rect x="51.27" y="207.5" width="1.21" height="27.5" fill="#d08048"/>
<rect x="52.44" y="207.5" width="1.50" height="27.5" fill="#f0b8c0"/>
<rect x="53.89" y="207.5" width="1.80" height="27.5" fill="#e89060"/>
<rect x="55.64" y="207.5" width="1.21" height="27.5" fill="#88d0f0"/>
<rect x="56.80" y="207.5" width="1.50" height="27.5" fill="#c8a8d8"/>
<rect x="58.25" y="207.5" width="1.50" height="27.5" fill="#9848c8"/>
<rect x="59.71" y="207.5" width="1.80" height="27.5" fill="#c868c8"/>
<rect x="61.45" y="207.5" width="1.21" height="27.5" fill="#f0b8c0"/>
<rect x="62.62" y="207.5" width="1.80" height="27.5" fill="#e89070"/>
<rect x="64.36" y="207.5" width="2.23" height="27.5" fill="#f8f0f0"/>
<rect x="66.55" y="207.5" width="5.14" height="27.5" fill="#000000"/>
<rect x="71.64" y="207.5" width="2.96" height="27.5" fill="#adff2f"/>
<rect x="74.55" y="207.5" width="2.23" height="27.5" fill="#c8c890"/>
<rect x="76.73" y="207.5" width="2.96" height="27.5" fill="#c09060"/>
<rect x="79.64" y="207.5" width="1.50" height="27.5" fill="#c8c890"/>
<rect x="81.09" y="207.5" width="1.50" height="27.5" fill="#f8e0f0"/>
<rect x="82.55" y="207.5" width="2.23" height="27.5" fill="#006400"/>
<rect x="84.73" y="207.5" width="2.23" height="27.5" fill="#f0b0c8"/>
<rect x="86.91" y="207.5" width="7.32" height="27.5" fill="#006400"/>
<rect x="94.18" y="207.5" width="2.96" height="27.5" fill="#adff2f"/>
<rect x="97.09" y="207.5" width="2.96" height="27.5" fill="#c0d080"/>
<rect x="100.00" y="207.5" width="1.80" height="27.5" fill="#000000"/>
<rect x="101.75" y="207.5" width="2.38" height="27.5" fill="#adff2f"/>
<rect x="104.07" y="207.5" width="8.34" height="27.5" fill="#000000"/>
<rect x="112.36" y="207.5" width="5.87" height="27.5" fill="#adff2f"/>
<rect x="118.18" y="207.5" width="1.50" height="27.5" fill="#8020a0"/>
<rect x="119.64" y="207.5" width="0.41" height="27.5" fill="#a05030"/>
<rect x="120.00" y="207.5" width="1.50" height="27.5" fill="#a00060"/>
<rect x="121.45" y="207.5" width="22.60" height="27.5" fill="#adff2f"/>
<rect x="144.00" y="207.5" width="1.50" height="27.5" fill="#006400"/>
<rect x="145.45" y="207.5" width="14.60" height="27.5" fill="#adff2f"/>
<rect x="160.00" y="207.5" width="1.50" height="27.5" fill="#d0b8c0"/>
<rect x="161.45" y="207.5" width="2.23" height="27.5" fill="#d0b090"/>
<rect x="163.64" y="207.5" width="2.96" height="27.5" fill="#d89060"/>
<rect x="166.55" y="207.5" width="2.96" height="27.5" fill="#d0b090"/>
<rect x="169.45" y="207.5" width="1.50" height="27.5" fill="#b0b0b0"/>
<rect x="170.91" y="207.5" width="1.50" height="27.5" fill="#f09080"/>
<rect x="172.36" y="207.5" width="2.96" height="27.5" fill="#b0b0b0"/>
<rect x="175.27" y="207.5" width="2.23" height="27.5" fill="#d0b090"/>
<rect x="177.45" y="207.5" width="2.23" height="27.5" fill="#a04020"/>
<rect x="179.64" y="207.5" width="1.50" height="27.5" fill="#d0b090"/>
<rect x="181.09" y="207.5" width="2.23" height="27.5" fill="#f080c0"/>
<rect x="183.27" y="207.5" width="2.23" height="27.5" fill="#d0b090"/>
<rect x="185.45" y="207.5" width="1.50" height="27.5" fill="#f09080"/>
<rect x="186.91" y="207.5" width="1.50" height="27.5" fill="#d0b090"/>
<rect x="188.36" y="207.5" width="1.50" height="27.5" fill="#b0b0b0"/>
<rect x="189.82" y="207.5" width="2.23" height="27.5" fill="#c07090"/>
<rect x="192.00" y="207.5" width="4.41" height="27.5" fill="#ff8c00"/>
<rect x="196.36" y="207.5" width="2.23" height="27.5" fill="#b0b0b0"/>
<rect x="198.55" y="207.5" width="1.50" height="27.5" fill="#d0b090"/>
<rect x="199.99" y="207.5" width="8.70" height="27.5" fill="#c8b8b8"/>
<rect x="208.64" y="207.5" width="4.14" height="27.5" fill="#ff8c00"/>
<rect x="212.74" y="207.5" width="0.46" height="27.5" fill="#e0a060"/>
<rect x="213.14" y="207.5" width="8.51" height="27.5" fill="#ff8c00"/>
<rect x="221.60" y="207.5" width="1.41" height="27.5" fill="#e0a060"/>
<rect x="222.97" y="207.5" width="4.14" height="27.5" fill="#ff8c00"/>
<rect x="227.06" y="207.5" width="2.10" height="27.5" fill="#c8c8e0"/>
<rect x="229.11" y="207.5" width="30.75" height="27.5" fill="#ff8c00"/>
<rect x="259.80" y="207.5" width="2.78" height="27.5" fill="#8b1a1a"/>
<text x="435.60" y="10.30" font-size="9.3" font-weight="bold" text-anchor="middle" fill="#000" >Module−trait relationships</text>
<text x="349.00" y="23.48" font-size="5.9" font-weight="bold" text-anchor="end" fill="#000" >MEyellow4</text>
<rect x="352.3" y="13.55" width="10.6" height="13.05" fill="#8B8B00"/>
<rect x="364.30" y="13.40" width="52.42" height="13.40" fill="#ffc3b5"/>
<text x="390.48" y="18.30" font-size="4.7" font-weight="normal" text-anchor="middle" fill="#000" >0.32</text>
<text x="390.48" y="23.60" font-size="4.7" font-weight="normal" text-anchor="middle" fill="#000" >(0.1)</text>
<rect x="416.67" y="13.40" width="52.42" height="13.40" fill="#ffcec3"/>
<text x="442.85" y="18.30" font-size="4.7" font-weight="normal" text-anchor="middle" fill="#000" >0.27</text>
<text x="442.85" y="23.60" font-size="4.7" font-weight="normal" text-anchor="middle" fill="#000" >(0.2)</text>
<rect x="469.03" y="13.40" width="52.42" height="13.40" fill="#7abaf8"/>
<text x="495.22" y="18.30" font-size="4.7" font-weight="normal" text-anchor="middle" fill="#000" >−0.56</text>
<text x="495.22" y="23.60" font-size="4.7" font-weight="normal" text-anchor="middle" fill="#000" >(0.005)</text>
<text x="349.00" y="36.83" font-size="5.9" font-weight="bold" text-anchor="end" fill="#000" >MEivory</text>
<rect x="352.3" y="26.90" width="10.6" height="13.05" fill="#FFFFF0"/>
<rect x="364.30" y="26.75" width="52.42" height="13.40" fill="#ff9178"/>
<text x="390.48" y="31.65" font-size="4.7" font-weight="normal" text-anchor="middle" fill="#000" >0.51</text>
<text x="390.48" y="36.95" font-size="4.7" font-weight="normal" text-anchor="middle" fill="#000" >(0.01)</text>
<rect x="416.67" y="26.75" width="52.42" height="13.40" fill="#3791f2"/>
<text x="442.85" y="31.65" font-size="4.7" font-weight="normal" text-anchor="middle" fill="#000" >−0.77</text>
<text x="442.85" y="36.95" font-size="4.7" font-weight="normal" text-anchor="middle" fill="#000" >(9x10<tspan dy="-1.3" font-size="2.6">−6</tspan><tspan dy="1.3">)</tspan></text>
<rect x="469.03" y="26.75" width="52.42" height="13.40" fill="#ffc5b9"/>
<text x="495.22" y="31.65" font-size="4.7" font-weight="normal" text-anchor="middle" fill="#000" >0.31</text>
<text x="495.22" y="36.95" font-size="4.7" font-weight="normal" text-anchor="middle" fill="#000" >(0.1)</text>
<text x="349.00" y="50.18" font-size="5.9" font-weight="bold" text-anchor="end" fill="#000" >MEskyblue1</text>
<rect x="352.3" y="40.25" width="10.6" height="13.05" fill="#87CEFF"/>
<rect x="364.30" y="40.10" width="52.42" height="13.40" fill="#ff937a"/>
<text x="390.48" y="45.00" font-size="4.7" font-weight="normal" text-anchor="middle" fill="#000" >0.50</text>
<text x="390.48" y="50.30" font-size="4.7" font-weight="normal" text-anchor="middle" fill="#000" >(0.01)</text>
<rect x="416.67" y="40.10" width="52.42" height="13.40" fill="#eaf4fe"/>
<text x="442.85" y="45.00" font-size="4.7" font-weight="normal" text-anchor="middle" fill="#000" >−0.082</text>
<text x="442.85" y="50.30" font-size="4.7" font-weight="normal" text-anchor="middle" fill="#000" >(0.7)</text>
<rect x="469.03" y="40.10" width="52.42" height="13.40" fill="#96c8f8"/>
<text x="495.22" y="45.00" font-size="4.7" font-weight="normal" text-anchor="middle" fill="#000" >−0.37</text>
<text x="495.22" y="50.30" font-size="4.7" font-weight="normal" text-anchor="middle" fill="#000" >(0.08)</text>
<text x="349.00" y="63.53" font-size="5.9" font-weight="bold" text-anchor="end" fill="#000" >MEdarkorange</text>
<rect x="352.3" y="53.61" width="10.6" height="13.05" fill="#FF8C00"/>
<rect x="364.30" y="53.46" width="52.42" height="13.40" fill="#ff0403"/>
<text x="390.48" y="58.36" font-size="4.7" font-weight="normal" text-anchor="middle" fill="#000" >0.99</text>
<text x="390.48" y="63.66" font-size="4.7" font-weight="normal" text-anchor="middle" fill="#000" >(2x10<tspan dy="-1.3" font-size="2.6">−19</tspan><tspan dy="1.3">)</tspan></text>
<rect x="416.67" y="53.46" width="52.42" height="13.40" fill="#ffd7ce"/>
<text x="442.85" y="58.36" font-size="4.7" font-weight="normal" text-anchor="middle" fill="#000" >0.22</text>
<text x="442.85" y="63.66" font-size="4.7" font-weight="normal" text-anchor="middle" fill="#000" >(0.3)</text>
<rect x="469.03" y="53.46" width="52.42" height="13.40" fill="#2886f1"/>
<text x="495.22" y="58.36" font-size="4.7" font-weight="normal" text-anchor="middle" fill="#000" >−0.87</text>
<text x="495.22" y="63.66" font-size="4.7" font-weight="normal" text-anchor="middle" fill="#000" >(3x10<tspan dy="-1.3" font-size="2.6">−8</tspan><tspan dy="1.3">)</tspan></text>
<text x="349.00" y="76.88" font-size="5.9" font-weight="bold" text-anchor="end" fill="#000" >MElavenderblush3</text>
<rect x="352.3" y="66.96" width="10.6" height="13.05" fill="#CDC1C5"/>
<rect x="364.30" y="66.81" width="52.42" height="13.40" fill="#ff6e48"/>
<text x="390.48" y="71.71" font-size="4.7" font-weight="normal" text-anchor="middle" fill="#000" >0.72</text>
<text x="390.48" y="77.01" font-size="4.7" font-weight="normal" text-anchor="middle" fill="#000" >(8x10<tspan dy="-1.3" font-size="2.6">−5</tspan><tspan dy="1.3">)</tspan></text>
<rect x="416.67" y="66.81" width="52.42" height="13.40" fill="#daecfd"/>
<text x="442.85" y="71.71" font-size="4.7" font-weight="normal" text-anchor="middle" fill="#000" >−0.14</text>
<text x="442.85" y="77.01" font-size="4.7" font-weight="normal" text-anchor="middle" fill="#000" >(0.5)</text>
<rect x="469.03" y="66.81" width="52.42" height="13.40" fill="#7cbcf7"/>
<text x="495.22" y="71.71" font-size="4.7" font-weight="normal" text-anchor="middle" fill="#000" >−0.51</text>
<text x="495.22" y="77.01" font-size="4.7" font-weight="normal" text-anchor="middle" fill="#000" >(0.01)</text>
<text x="349.00" y="90.23" font-size="5.9" font-weight="bold" text-anchor="end" fill="#000" >MEsalmon4</text>
<rect x="352.3" y="80.31" width="10.6" height="13.05" fill="#8B4C39"/>
<rect x="364.30" y="80.16" width="52.42" height="13.40" fill="#ffb09e"/>
<text x="390.48" y="85.06" font-size="4.7" font-weight="normal" text-anchor="middle" fill="#000" >0.39</text>
<text x="390.48" y="90.36" font-size="4.7" font-weight="normal" text-anchor="middle" fill="#000" >(0.06)</text>
<rect x="416.67" y="80.16" width="52.42" height="13.40" fill="#ffcfc5"/>
<text x="442.85" y="85.06" font-size="4.7" font-weight="normal" text-anchor="middle" fill="#000" >0.26</text>
<text x="442.85" y="90.36" font-size="4.7" font-weight="normal" text-anchor="middle" fill="#000" >(0.2)</text>
<rect x="469.03" y="80.16" width="52.42" height="13.40" fill="#6bb1f7"/>
<text x="495.22" y="85.06" font-size="4.7" font-weight="normal" text-anchor="middle" fill="#000" >−0.61</text>
<text x="495.22" y="90.36" font-size="4.7" font-weight="normal" text-anchor="middle" fill="#000" >(0.002)</text>
<text x="349.00" y="103.59" font-size="5.9" font-weight="bold" text-anchor="end" fill="#000" >MEpalevioletred3</text>
<rect x="352.3" y="93.66" width="10.6" height="13.05" fill="#CD6889"/>
<rect x="364.30" y="93.51" width="52.42" height="13.40" fill="#ffa38e"/>
<text x="390.48" y="98.41" font-size="4.7" font-weight="normal" text-anchor="middle" fill="#000" >0.44</text>
<text x="390.48" y="103.71" font-size="4.7" font-weight="normal" text-anchor="middle" fill="#000" >(0.03)</text>
<rect x="416.67" y="93.51" width="52.42" height="13.40" fill="#ffe5e0"/>
<text x="442.85" y="98.41" font-size="4.7" font-weight="normal" text-anchor="middle" fill="#000" >0.14</text>
<text x="442.85" y="103.71" font-size="4.7" font-weight="normal" text-anchor="middle" fill="#000" >(0.5)</text>
<rect x="469.03" y="93.51" width="52.42" height="13.40" fill="#7cbbf8"/>
<text x="495.22" y="98.41" font-size="4.7" font-weight="normal" text-anchor="middle" fill="#000" >−0.53</text>
<text x="495.22" y="103.71" font-size="4.7" font-weight="normal" text-anchor="middle" fill="#000" >(0.008)</text>
<text x="349.00" y="116.94" font-size="5.9" font-weight="bold" text-anchor="end" fill="#000" >MEbrown4</text>
<rect x="352.3" y="107.01" width="10.6" height="13.05" fill="#8B2323"/>
<rect x="364.30" y="106.86" width="52.42" height="13.40" fill="#ff6e48"/>
<text x="390.48" y="111.76" font-size="4.7" font-weight="normal" text-anchor="middle" fill="#000" >0.72</text>
<text x="390.48" y="117.06" font-size="4.7" font-weight="normal" text-anchor="middle" fill="#000" >(8x10<tspan dy="-1.3" font-size="2.6">−5</tspan><tspan dy="1.3">)</tspan></text>
<rect x="416.67" y="106.86" width="52.42" height="13.40" fill="#d5e9fc"/>
<text x="442.85" y="111.76" font-size="4.7" font-weight="normal" text-anchor="middle" fill="#000" >−0.16</text>
<text x="442.85" y="117.06" font-size="4.7" font-weight="normal" text-anchor="middle" fill="#000" >(0.5)</text>
<rect x="469.03" y="106.86" width="52.42" height="13.40" fill="#7ebdf7"/>
<text x="495.22" y="111.76" font-size="4.7" font-weight="normal" text-anchor="middle" fill="#000" >−0.48</text>
<text x="495.22" y="117.06" font-size="4.7" font-weight="normal" text-anchor="middle" fill="#000" >(0.02)</text>
<text x="349.00" y="130.29" font-size="5.9" font-weight="bold" text-anchor="end" fill="#000" >MEdarkgrey</text>
<rect x="352.3" y="120.36" width="10.6" height="13.05" fill="#A9A9A9"/>
<rect x="364.30" y="120.21" width="52.42" height="13.40" fill="#ff7856"/>
<text x="390.48" y="125.11" font-size="4.7" font-weight="normal" text-anchor="middle" fill="#000" >0.66</text>
<text x="390.48" y="130.41" font-size="4.7" font-weight="normal" text-anchor="middle" fill="#000" >(5x10<tspan dy="-1.3" font-size="2.6">−4</tspan><tspan dy="1.3">)</tspan></text>
<rect x="416.67" y="120.21" width="52.42" height="13.40" fill="#b3d9fa"/>
<text x="442.85" y="125.11" font-size="4.7" font-weight="normal" text-anchor="middle" fill="#000" >−0.27</text>
<text x="442.85" y="130.41" font-size="4.7" font-weight="normal" text-anchor="middle" fill="#000" >(0.2)</text>
<rect x="469.03" y="120.21" width="52.42" height="13.40" fill="#a1d0f9"/>
<text x="495.22" y="125.11" font-size="4.7" font-weight="normal" text-anchor="middle" fill="#000" >−0.32</text>
<text x="495.22" y="130.41" font-size="4.7" font-weight="normal" text-anchor="middle" fill="#000" >(0.1)</text>
<text x="349.00" y="143.64" font-size="5.9" font-weight="bold" text-anchor="end" fill="#000" >MEblack</text>
<rect x="352.3" y="133.72" width="10.6" height="13.05" fill="#000000"/>
<rect x="364.30" y="133.57" width="52.42" height="13.40" fill="#c4e0fa"/>
<text x="390.48" y="138.47" font-size="4.7" font-weight="normal" text-anchor="middle" fill="#000" >−0.24</text>
<text x="390.48" y="143.77" font-size="4.7" font-weight="normal" text-anchor="middle" fill="#000" >(0.3)</text>
<rect x="416.67" y="133.57" width="52.42" height="13.40" fill="#cae3fb"/>
<text x="442.85" y="138.47" font-size="4.7" font-weight="normal" text-anchor="middle" fill="#000" >−0.21</text>
<text x="442.85" y="143.77" font-size="4.7" font-weight="normal" text-anchor="middle" fill="#000" >(0.3)</text>
<rect x="469.03" y="133.57" width="52.42" height="13.40" fill="#ffa894"/>
<text x="495.22" y="138.47" font-size="4.7" font-weight="normal" text-anchor="middle" fill="#000" >0.42</text>
<text x="495.22" y="143.77" font-size="4.7" font-weight="normal" text-anchor="middle" fill="#000" >(0.04)</text>
<text x="349.00" y="156.99" font-size="5.9" font-weight="bold" text-anchor="end" fill="#000" >MEskyblue2</text>
<rect x="352.3" y="147.07" width="10.6" height="13.05" fill="#7EC0EE"/>
<rect x="364.30" y="146.92" width="52.42" height="13.40" fill="#d0e6fc"/>
<text x="390.48" y="151.82" font-size="4.7" font-weight="normal" text-anchor="middle" fill="#000" >−0.18</text>
<text x="390.48" y="157.12" font-size="4.7" font-weight="normal" text-anchor="middle" fill="#000" >(0.4)</text>
<rect x="416.67" y="146.92" width="52.42" height="13.40" fill="#c4e0fa"/>
<text x="442.85" y="151.82" font-size="4.7" font-weight="normal" text-anchor="middle" fill="#000" >−0.24</text>
<text x="442.85" y="157.12" font-size="4.7" font-weight="normal" text-anchor="middle" fill="#000" >(0.3)</text>
<rect x="469.03" y="146.92" width="52.42" height="13.40" fill="#ffab98"/>
<text x="495.22" y="151.82" font-size="4.7" font-weight="normal" text-anchor="middle" fill="#000" >0.41</text>
<text x="495.22" y="157.12" font-size="4.7" font-weight="normal" text-anchor="middle" fill="#000" >(0.05)</text>
<text x="349.00" y="170.34" font-size="5.9" font-weight="bold" text-anchor="end" fill="#000" >MEcoral1</text>
<rect x="352.3" y="160.42" width="10.6" height="13.05" fill="#FF7256"/>
<rect x="364.30" y="160.27" width="52.42" height="13.40" fill="#83bff6"/>
<text x="390.48" y="165.17" font-size="4.7" font-weight="normal" text-anchor="middle" fill="#000" >−0.43</text>
<text x="390.48" y="170.47" font-size="4.7" font-weight="normal" text-anchor="middle" fill="#000" >(0.03)</text>
<rect x="416.67" y="160.27" width="52.42" height="13.40" fill="#ffb5a5"/>
<text x="442.85" y="165.17" font-size="4.7" font-weight="normal" text-anchor="middle" fill="#000" >0.37</text>
<text x="442.85" y="170.47" font-size="4.7" font-weight="normal" text-anchor="middle" fill="#000" >(0.07)</text>
<rect x="469.03" y="160.27" width="52.42" height="13.40" fill="#fffdfc"/>
<text x="495.22" y="165.17" font-size="4.7" font-weight="normal" text-anchor="middle" fill="#000" >0.012</text>
<text x="495.22" y="170.47" font-size="4.7" font-weight="normal" text-anchor="middle" fill="#000" >(1)</text>
<text x="349.00" y="183.70" font-size="5.9" font-weight="bold" text-anchor="end" fill="#000" >MEmaroon</text>
<rect x="352.3" y="173.77" width="10.6" height="13.05" fill="#B03060"/>
<rect x="364.30" y="173.62" width="52.42" height="13.40" fill="#b9dbfa"/>
<text x="390.48" y="178.52" font-size="4.7" font-weight="normal" text-anchor="middle" fill="#000" >−0.26</text>
<text x="390.48" y="183.82" font-size="4.7" font-weight="normal" text-anchor="middle" fill="#000" >(0.2)</text>
<rect x="416.67" y="173.62" width="52.42" height="13.40" fill="#ffb3a2"/>
<text x="442.85" y="178.52" font-size="4.7" font-weight="normal" text-anchor="middle" fill="#000" >0.38</text>
<text x="442.85" y="183.82" font-size="4.7" font-weight="normal" text-anchor="middle" fill="#000" >(0.06)</text>
<rect x="469.03" y="173.62" width="52.42" height="13.40" fill="#d8eafc"/>
<text x="495.22" y="178.52" font-size="4.7" font-weight="normal" text-anchor="middle" fill="#000" >−0.15</text>
<text x="495.22" y="183.82" font-size="4.7" font-weight="normal" text-anchor="middle" fill="#000" >(0.5)</text>
<text x="349.00" y="197.05" font-size="5.9" font-weight="bold" text-anchor="end" fill="#000" >MElightcyan1</text>
<rect x="352.3" y="187.12" width="10.6" height="13.05" fill="#E0FFFF"/>
<rect x="364.30" y="186.97" width="52.42" height="13.40" fill="#cae3fb"/>
<text x="390.48" y="191.87" font-size="4.7" font-weight="normal" text-anchor="middle" fill="#000" >−0.21</text>
<text x="390.48" y="197.17" font-size="4.7" font-weight="normal" text-anchor="middle" fill="#000" >(0.3)</text>
<rect x="416.67" y="186.97" width="52.42" height="13.40" fill="#ffa08a"/>
<text x="442.85" y="191.87" font-size="4.7" font-weight="normal" text-anchor="middle" fill="#000" >0.45</text>
<text x="442.85" y="197.17" font-size="4.7" font-weight="normal" text-anchor="middle" fill="#000" >(0.03)</text>
<rect x="469.03" y="186.97" width="52.42" height="13.40" fill="#b3d9fa"/>
<text x="495.22" y="191.87" font-size="4.7" font-weight="normal" text-anchor="middle" fill="#000" >−0.27</text>
<text x="495.22" y="197.17" font-size="4.7" font-weight="normal" text-anchor="middle" fill="#000" >(0.2)</text>
<text x="349.00" y="210.40" font-size="5.9" font-weight="bold" text-anchor="end" fill="#000" >MEplum2</text>
<rect x="352.3" y="200.47" width="10.6" height="13.05" fill="#EEAEEE"/>
<rect x="364.30" y="200.32" width="52.42" height="13.40" fill="#a8d4fa"/>
<text x="390.48" y="205.22" font-size="4.7" font-weight="normal" text-anchor="middle" fill="#000" >−0.29</text>
<text x="390.48" y="210.52" font-size="4.7" font-weight="normal" text-anchor="middle" fill="#000" >(0.2)</text>
<rect x="416.67" y="200.32" width="52.42" height="13.40" fill="#ff714d"/>
<text x="442.85" y="205.22" font-size="4.7" font-weight="normal" text-anchor="middle" fill="#000" >0.7</text>
<text x="442.85" y="210.52" font-size="4.7" font-weight="normal" text-anchor="middle" fill="#000" >(1x10<tspan dy="-1.3" font-size="2.6">−4</tspan><tspan dy="1.3">)</tspan></text>
<rect x="469.03" y="200.32" width="52.42" height="13.40" fill="#80bef6"/>
<text x="495.22" y="205.22" font-size="4.7" font-weight="normal" text-anchor="middle" fill="#000" >−0.44</text>
<text x="495.22" y="210.52" font-size="4.7" font-weight="normal" text-anchor="middle" fill="#000" >(0.03)</text>
<text x="349.00" y="223.75" font-size="5.9" font-weight="bold" text-anchor="end" fill="#000" >MEbisque4</text>
<rect x="352.3" y="213.83" width="10.6" height="13.05" fill="#8B7D6B"/>
<rect x="364.30" y="213.68" width="52.42" height="13.40" fill="#fff8f6"/>
<text x="390.48" y="218.58" font-size="4.7" font-weight="normal" text-anchor="middle" fill="#000" >0.039</text>
<text x="390.48" y="223.88" font-size="4.7" font-weight="normal" text-anchor="middle" fill="#000" >(0.9)</text>
<rect x="416.67" y="213.68" width="52.42" height="13.40" fill="#ff714d"/>
<text x="442.85" y="218.58" font-size="4.7" font-weight="normal" text-anchor="middle" fill="#000" >0.7</text>
<text x="442.85" y="223.88" font-size="4.7" font-weight="normal" text-anchor="middle" fill="#000" >(2x10<tspan dy="-1.3" font-size="2.6">−4</tspan><tspan dy="1.3">)</tspan></text>
<rect x="469.03" y="213.68" width="52.42" height="13.40" fill="#4499f4"/>
<text x="495.22" y="218.58" font-size="4.7" font-weight="normal" text-anchor="middle" fill="#000" >−0.73</text>
<text x="495.22" y="223.88" font-size="4.7" font-weight="normal" text-anchor="middle" fill="#000" >(5x10<tspan dy="-1.3" font-size="2.6">−5</tspan><tspan dy="1.3">)</tspan></text>
<text x="349.00" y="237.10" font-size="5.9" font-weight="bold" text-anchor="end" fill="#000" >MEmediumpurple3</text>
<rect x="352.3" y="227.18" width="10.6" height="13.05" fill="#8968CD"/>
<rect x="364.30" y="227.03" width="52.42" height="13.40" fill="#80bef6"/>
<text x="390.48" y="231.93" font-size="4.7" font-weight="normal" text-anchor="middle" fill="#000" >−0.44</text>
<text x="390.48" y="237.23" font-size="4.7" font-weight="normal" text-anchor="middle" fill="#000" >(0.03)</text>
<rect x="416.67" y="227.03" width="52.42" height="13.40" fill="#fffcfb"/>
<text x="442.85" y="231.93" font-size="4.7" font-weight="normal" text-anchor="middle" fill="#000" >0.019</text>
<text x="442.85" y="237.23" font-size="4.7" font-weight="normal" text-anchor="middle" fill="#000" >(0.9)</text>
<rect x="469.03" y="227.03" width="52.42" height="13.40" fill="#6eb3f8"/>
<text x="495.22" y="231.93" font-size="4.7" font-weight="normal" text-anchor="middle" fill="#000" >−0.6</text>
<text x="495.22" y="237.23" font-size="4.7" font-weight="normal" text-anchor="middle" fill="#000" >(0.002)</text>
<text x="349.00" y="250.46" font-size="5.9" font-weight="bold" text-anchor="end" fill="#000" >MEskyblue</text>
<rect x="352.3" y="240.53" width="10.6" height="13.05" fill="#87CEEB"/>
<rect x="364.30" y="240.38" width="52.42" height="13.40" fill="#83bff6"/>
<text x="390.48" y="245.28" font-size="4.7" font-weight="normal" text-anchor="middle" fill="#000" >−0.43</text>
<text x="390.48" y="250.58" font-size="4.7" font-weight="normal" text-anchor="middle" fill="#000" >(0.03)</text>
<rect x="416.67" y="240.38" width="52.42" height="13.40" fill="#ff8c71"/>
<text x="442.85" y="245.28" font-size="4.7" font-weight="normal" text-anchor="middle" fill="#000" >0.54</text>
<text x="442.85" y="250.58" font-size="4.7" font-weight="normal" text-anchor="middle" fill="#000" >(0.006)</text>
<rect x="469.03" y="240.38" width="52.42" height="13.40" fill="#80bef6"/>
<text x="495.22" y="245.28" font-size="4.7" font-weight="normal" text-anchor="middle" fill="#000" >−0.44</text>
<text x="495.22" y="250.58" font-size="4.7" font-weight="normal" text-anchor="middle" fill="#000" >(0.03)</text>
<text x="349.00" y="263.81" font-size="5.9" font-weight="bold" text-anchor="end" fill="#000" >MEplum</text>
<rect x="352.3" y="253.88" width="10.6" height="13.05" fill="#DDA0DD"/>
<rect x="364.30" y="253.73" width="52.42" height="13.40" fill="#d0e6fc"/>
<text x="390.48" y="258.63" font-size="4.7" font-weight="normal" text-anchor="middle" fill="#000" >−0.18</text>
<text x="390.48" y="263.93" font-size="4.7" font-weight="normal" text-anchor="middle" fill="#000" >(0.4)</text>
<rect x="416.67" y="253.73" width="52.42" height="13.40" fill="#ffd1c7"/>
<text x="442.85" y="258.63" font-size="4.7" font-weight="normal" text-anchor="middle" fill="#000" >0.25</text>
<text x="442.85" y="263.93" font-size="4.7" font-weight="normal" text-anchor="middle" fill="#000" >(0.2)</text>
<rect x="469.03" y="253.73" width="52.42" height="13.40" fill="#9dccf9"/>
<text x="495.22" y="258.63" font-size="4.7" font-weight="normal" text-anchor="middle" fill="#000" >−0.34</text>
<text x="495.22" y="263.93" font-size="4.7" font-weight="normal" text-anchor="middle" fill="#000" >(0.1)</text>
<text x="349.00" y="277.16" font-size="5.9" font-weight="bold" text-anchor="end" fill="#000" >MEviolet</text>
<rect x="352.3" y="267.23" width="10.6" height="13.05" fill="#EE82EE"/>
<rect x="364.30" y="267.08" width="52.42" height="13.40" fill="#fff0ec"/>
<text x="390.48" y="271.98" font-size="4.7" font-weight="normal" text-anchor="middle" fill="#000" >0.083</text>
<text x="390.48" y="277.28" font-size="4.7" font-weight="normal" text-anchor="middle" fill="#000" >(0.7)</text>
<rect x="416.67" y="267.08" width="52.42" height="13.40" fill="#ffd1c7"/>
<text x="442.85" y="271.98" font-size="4.7" font-weight="normal" text-anchor="middle" fill="#000" >0.25</text>
<text x="442.85" y="277.28" font-size="4.7" font-weight="normal" text-anchor="middle" fill="#000" >(0.2)</text>
<rect x="469.03" y="267.08" width="52.42" height="13.40" fill="#d0e6fc"/>
<text x="495.22" y="271.98" font-size="4.7" font-weight="normal" text-anchor="middle" fill="#000" >−0.18</text>
<text x="495.22" y="277.28" font-size="4.7" font-weight="normal" text-anchor="middle" fill="#000" >(0.4)</text>
<text x="349.00" y="290.51" font-size="5.9" font-weight="bold" text-anchor="end" fill="#000" >MEdarkslateblue</text>
<rect x="352.3" y="280.58" width="10.6" height="13.05" fill="#483D8B"/>
<rect x="364.30" y="280.43" width="52.42" height="13.40" fill="#7ebcf7"/>
<text x="390.48" y="285.33" font-size="4.7" font-weight="normal" text-anchor="middle" fill="#000" >−0.49</text>
<text x="390.48" y="290.63" font-size="4.7" font-weight="normal" text-anchor="middle" fill="#000" >(0.01)</text>
<rect x="416.67" y="280.43" width="52.42" height="13.40" fill="#98caf8"/>
<text x="442.85" y="285.33" font-size="4.7" font-weight="normal" text-anchor="middle" fill="#000" >−0.36</text>
<text x="442.85" y="290.63" font-size="4.7" font-weight="normal" text-anchor="middle" fill="#000" >(0.08)</text>
<rect x="469.03" y="280.43" width="52.42" height="13.40" fill="#ff4f33"/>
<text x="495.22" y="285.33" font-size="4.7" font-weight="normal" text-anchor="middle" fill="#000" >0.8</text>
<text x="495.22" y="290.63" font-size="4.7" font-weight="normal" text-anchor="middle" fill="#000" >(2x10<tspan dy="-1.3" font-size="2.6">−6</tspan><tspan dy="1.3">)</tspan></text>
<text x="349.00" y="303.86" font-size="5.9" font-weight="bold" text-anchor="end" fill="#000" >MEgreenyellow</text>
<rect x="352.3" y="293.94" width="10.6" height="13.05" fill="#ADFF2F"/>
<rect x="364.30" y="293.79" width="52.42" height="13.40" fill="#318df2"/>
<text x="390.48" y="298.69" font-size="4.7" font-weight="normal" text-anchor="middle" fill="#000" >−0.81</text>
<text x="390.48" y="303.99" font-size="4.7" font-weight="normal" text-anchor="middle" fill="#000" >(1x10<tspan dy="-1.3" font-size="2.6">−6</tspan><tspan dy="1.3">)</tspan></text>
<rect x="416.67" y="293.79" width="52.42" height="13.40" fill="#e9f3fe"/>
<text x="442.85" y="298.69" font-size="4.7" font-weight="normal" text-anchor="middle" fill="#000" >−0.084</text>
<text x="442.85" y="303.99" font-size="4.7" font-weight="normal" text-anchor="middle" fill="#000" >(0.7)</text>
<rect x="469.03" y="293.79" width="52.42" height="13.40" fill="#ff4b31"/>
<text x="495.22" y="298.69" font-size="4.7" font-weight="normal" text-anchor="middle" fill="#000" >0.81</text>
<text x="495.22" y="303.99" font-size="4.7" font-weight="normal" text-anchor="middle" fill="#000" >(2x10<tspan dy="-1.3" font-size="2.6">−6</tspan><tspan dy="1.3">)</tspan></text>
<text x="349.00" y="317.21" font-size="5.9" font-weight="bold" text-anchor="end" fill="#000" >MEantiquewhite4</text>
<rect x="352.3" y="307.29" width="10.6" height="13.05" fill="#8B8378"/>
<rect x="364.30" y="307.14" width="52.42" height="13.40" fill="#89c2f7"/>
<text x="390.48" y="312.04" font-size="4.7" font-weight="normal" text-anchor="middle" fill="#000" >−0.41</text>
<text x="390.48" y="317.34" font-size="4.7" font-weight="normal" text-anchor="middle" fill="#000" >(0.05)</text>
<rect x="416.67" y="307.14" width="52.42" height="13.40" fill="#c6e1fa"/>
<text x="442.85" y="312.04" font-size="4.7" font-weight="normal" text-anchor="middle" fill="#000" >−0.23</text>
<text x="442.85" y="317.34" font-size="4.7" font-weight="normal" text-anchor="middle" fill="#000" >(0.3)</text>
<rect x="469.03" y="307.14" width="52.42" height="13.40" fill="#ff8466"/>
<text x="495.22" y="312.04" font-size="4.7" font-weight="normal" text-anchor="middle" fill="#000" >0.59</text>
<text x="495.22" y="317.34" font-size="4.7" font-weight="normal" text-anchor="middle" fill="#000" >(0.002)</text>
<text x="349.00" y="330.57" font-size="5.9" font-weight="bold" text-anchor="end" fill="#000" >MEplum1</text>
<rect x="352.3" y="320.64" width="10.6" height="13.05" fill="#FFBBFF"/>
<rect x="364.30" y="320.49" width="52.42" height="13.40" fill="#7cbcf7"/>
<text x="390.48" y="325.39" font-size="4.7" font-weight="normal" text-anchor="middle" fill="#000" >−0.51</text>
<text x="390.48" y="330.69" font-size="4.7" font-weight="normal" text-anchor="middle" fill="#000" >(0.01)</text>
<rect x="416.67" y="320.49" width="52.42" height="13.40" fill="#ff8e73"/>
<text x="442.85" y="325.39" font-size="4.7" font-weight="normal" text-anchor="middle" fill="#000" >0.53</text>
<text x="442.85" y="330.69" font-size="4.7" font-weight="normal" text-anchor="middle" fill="#000" >(0.008)</text>
<rect x="469.03" y="320.49" width="52.42" height="13.40" fill="#ecf5fe"/>
<text x="495.22" y="325.39" font-size="4.7" font-weight="normal" text-anchor="middle" fill="#000" >−0.073</text>
<text x="495.22" y="330.69" font-size="4.7" font-weight="normal" text-anchor="middle" fill="#000" >(0.7)</text>
<text x="349.00" y="343.92" font-size="5.9" font-weight="bold" text-anchor="end" fill="#000" >MEcoral2</text>
<rect x="352.3" y="333.99" width="10.6" height="13.05" fill="#EE6A50"/>
<rect x="364.30" y="333.84" width="52.42" height="13.40" fill="#9dccf9"/>
<text x="390.48" y="338.74" font-size="4.7" font-weight="normal" text-anchor="middle" fill="#000" >−0.34</text>
<text x="390.48" y="344.04" font-size="4.7" font-weight="normal" text-anchor="middle" fill="#000" >(0.1)</text>
<rect x="416.67" y="333.84" width="52.42" height="13.40" fill="#ff896c"/>
<text x="442.85" y="338.74" font-size="4.7" font-weight="normal" text-anchor="middle" fill="#000" >0.56</text>
<text x="442.85" y="344.04" font-size="4.7" font-weight="normal" text-anchor="middle" fill="#000" >(0.005)</text>
<rect x="469.03" y="333.84" width="52.42" height="13.40" fill="#bedefa"/>
<text x="495.22" y="338.74" font-size="4.7" font-weight="normal" text-anchor="middle" fill="#000" >−0.25</text>
<text x="495.22" y="344.04" font-size="4.7" font-weight="normal" text-anchor="middle" fill="#000" >(0.2)</text>
<text x="349.00" y="357.27" font-size="5.9" font-weight="bold" text-anchor="end" fill="#000" >MEdarkorange2</text>
<rect x="352.3" y="347.34" width="10.6" height="13.05" fill="#EE7600"/>
<rect x="364.30" y="347.19" width="52.42" height="13.40" fill="#3590f2"/>
<text x="390.48" y="352.09" font-size="4.7" font-weight="normal" text-anchor="middle" fill="#000" >−0.78</text>
<text x="390.48" y="357.39" font-size="4.7" font-weight="normal" text-anchor="middle" fill="#000" >(2x10<tspan dy="-1.3" font-size="2.6">−6</tspan><tspan dy="1.3">)</tspan></text>
<rect x="416.67" y="347.19" width="52.42" height="13.40" fill="#ffcfc5"/>
<text x="442.85" y="352.09" font-size="4.7" font-weight="normal" text-anchor="middle" fill="#000" >0.26</text>
<text x="442.85" y="357.39" font-size="4.7" font-weight="normal" text-anchor="middle" fill="#000" >(0.2)</text>
<rect x="469.03" y="347.19" width="52.42" height="13.40" fill="#ffa894"/>
<text x="495.22" y="352.09" font-size="4.7" font-weight="normal" text-anchor="middle" fill="#000" >0.42</text>
<text x="495.22" y="357.39" font-size="4.7" font-weight="normal" text-anchor="middle" fill="#000" >(0.04)</text>
<text x="349.00" y="370.62" font-size="5.9" font-weight="bold" text-anchor="end" fill="#000" >MEdarkgreen</text>
<rect x="352.3" y="360.69" width="10.6" height="13.05" fill="#006400"/>
<rect x="364.30" y="360.54" width="52.42" height="13.40" fill="#4ea0f5"/>
<text x="390.48" y="365.44" font-size="4.7" font-weight="normal" text-anchor="middle" fill="#000" >−0.7</text>
<text x="390.48" y="370.74" font-size="4.7" font-weight="normal" text-anchor="middle" fill="#000" >(1x10<tspan dy="-1.3" font-size="2.6">−4</tspan><tspan dy="1.3">)</tspan></text>
<rect x="416.67" y="360.54" width="52.42" height="13.40" fill="#ffbbac"/>
<text x="442.85" y="365.44" font-size="4.7" font-weight="normal" text-anchor="middle" fill="#000" >0.35</text>
<text x="442.85" y="370.74" font-size="4.7" font-weight="normal" text-anchor="middle" fill="#000" >(0.1)</text>
<rect x="469.03" y="360.54" width="52.42" height="13.40" fill="#ffede9"/>
<text x="495.22" y="365.44" font-size="4.7" font-weight="normal" text-anchor="middle" fill="#000" >0.1</text>
<text x="495.22" y="370.74" font-size="4.7" font-weight="normal" text-anchor="middle" fill="#000" >(0.6)</text>
<text x="349.00" y="383.97" font-size="5.9" font-weight="bold" text-anchor="end" fill="#000" >MEdarkmagenta</text>
<rect x="352.3" y="374.05" width="10.6" height="13.05" fill="#8B008B"/>
<rect x="364.30" y="373.90" width="52.42" height="13.40" fill="#2f8cf2"/>
<text x="390.48" y="378.80" font-size="4.7" font-weight="normal" text-anchor="middle" fill="#000" >−0.82</text>
<text x="390.48" y="384.10" font-size="4.7" font-weight="normal" text-anchor="middle" fill="#000" >(4x10<tspan dy="-1.3" font-size="2.6">−7</tspan><tspan dy="1.3">)</tspan></text>
<rect x="416.67" y="373.90" width="52.42" height="13.40" fill="#ff6e48"/>
<text x="442.85" y="378.80" font-size="4.7" font-weight="normal" text-anchor="middle" fill="#000" >0.72</text>
<text x="442.85" y="384.10" font-size="4.7" font-weight="normal" text-anchor="middle" fill="#000" >(8x10<tspan dy="-1.3" font-size="2.6">−5</tspan><tspan dy="1.3">)</tspan></text>
<rect x="469.03" y="373.90" width="52.42" height="13.40" fill="#ffccc0"/>
<text x="495.22" y="378.80" font-size="4.7" font-weight="normal" text-anchor="middle" fill="#000" >0.28</text>
<text x="495.22" y="384.10" font-size="4.7" font-weight="normal" text-anchor="middle" fill="#000" >(0.2)</text>
<text x="349.00" y="397.32" font-size="5.9" font-weight="bold" text-anchor="end" fill="#000" >MEgrey</text>
<rect x="352.3" y="387.40" width="10.6" height="13.05" fill="#BEBEBE"/>
<rect x="364.30" y="387.25" width="52.42" height="13.40" fill="#ffd5cc"/>
<text x="390.48" y="392.15" font-size="4.7" font-weight="normal" text-anchor="middle" fill="#000" >0.23</text>
<text x="390.48" y="397.45" font-size="4.7" font-weight="normal" text-anchor="middle" fill="#000" >(0.3)</text>
<rect x="416.67" y="387.25" width="52.42" height="13.40" fill="#b3d9fa"/>
<text x="442.85" y="392.15" font-size="4.7" font-weight="normal" text-anchor="middle" fill="#000" >−0.27</text>
<text x="442.85" y="397.45" font-size="4.7" font-weight="normal" text-anchor="middle" fill="#000" >(0.2)</text>
<rect x="469.03" y="387.25" width="52.42" height="13.40" fill="#fff4f1"/>
<text x="495.22" y="392.15" font-size="4.7" font-weight="normal" text-anchor="middle" fill="#000" >0.061</text>
<text x="495.22" y="397.45" font-size="4.7" font-weight="normal" text-anchor="middle" fill="#000" >(0.8)</text>
<line x1="364.3" y1="13.4" x2="521.4" y2="13.4" stroke="#333" stroke-width="0.9"/>
<line x1="364.3" y1="400.6" x2="521.4" y2="400.6" stroke="#333" stroke-width="0.9"/>
<line x1="364.3" y1="13.4" x2="364.3" y2="400.6" stroke="#888" stroke-width="0.4"/>
<line x1="521.4" y1="13.4" x2="521.4" y2="400.6" stroke="#555" stroke-width="0.5"/>
<text x="395.20" y="409.60" font-size="8.5" font-weight="bold" text-anchor="middle" fill="#000" >EEM</text>
<text x="444.80" y="409.60" font-size="8.5" font-weight="bold" text-anchor="middle" fill="#000" >EM</text>
<text x="499.60" y="409.60" font-size="8.5" font-weight="bold" text-anchor="middle" fill="#000" >MLM</text>
<defs><linearGradient id="cb" x1="0" y1="0" x2="0" y2="1"><stop offset="0" stop-color="#f03010"/><stop offset="0.25" stop-color="#ff9a80"/><stop offset="0.5" stop-color="#ffffff"/><stop offset="0.75" stop-color="#8ec4f8"/><stop offset="1" stop-color="#1580ee"/></linearGradient><linearGradient id="zc" x1="0" y1="0" x2="0" y2="1"><stop offset="0" stop-color="#ff0000"/><stop offset="0.557" stop-color="#ffffff"/><stop offset="1" stop-color="#2020ff"/></linearGradient></defs>
<rect x="523.9" y="27" width="5.4" height="164.8" fill="url(#cb)"/>
<line x1="529.3" y1="27.0" x2="531" y2="27.0" stroke="#333" stroke-width="0.6"/>
<text x="532.60" y="29.20" font-size="6.4" font-weight="bold" text-anchor="start" fill="#222" >1</text>
<line x1="529.3" y1="68.2" x2="531" y2="68.2" stroke="#333" stroke-width="0.6"/>
<text x="532.60" y="70.40" font-size="6.4" font-weight="bold" text-anchor="start" fill="#222" >0.5</text>
<line x1="529.3" y1="109.4" x2="531" y2="109.4" stroke="#333" stroke-width="0.6"/>
<text x="532.60" y="111.60" font-size="6.4" font-weight="bold" text-anchor="start" fill="#222" >0</text>
<line x1="529.3" y1="150.6" x2="531" y2="150.6" stroke="#333" stroke-width="0.6"/>
<text x="532.60" y="152.80" font-size="6.4" font-weight="bold" text-anchor="start" fill="#222" >−0.5</text>
<line x1="529.3" y1="191.8" x2="531" y2="191.8" stroke="#333" stroke-width="0.6"/>
<text x="532.60" y="194.00" font-size="6.4" font-weight="bold" text-anchor="start" fill="#222" >−1</text>
<text x="0.00" y="0.00" font-size="8.3" font-weight="bold" text-anchor="middle" fill="#000" transform="translate(15.6,313.5) rotate(-90)">MEdarkorange module gens</text>
<line x1="50.9" y1="262.6" x2="100.7" y2="262.6" stroke="#333" stroke-width="1.0"/>
<text x="80.00" y="260.40" font-size="8.1" font-weight="bold" text-anchor="middle" fill="#000" >EEM</text>
<line x1="103.1" y1="262.6" x2="149.4" y2="262.6" stroke="#333" stroke-width="1.0"/>
<text x="133.80" y="260.40" font-size="8.1" font-weight="bold" text-anchor="middle" fill="#000" >EM</text>
<line x1="152" y1="262.6" x2="247.6" y2="262.6" stroke="#333" stroke-width="1.0"/>
<text x="213.00" y="260.40" font-size="8.1" font-weight="bold" text-anchor="middle" fill="#000" >MLM</text>
<g><rect x="51.30" y="266.80" width="24.72" height="0.76" fill="#ff9797"/><rect x="75.97" y="266.80" width="24.72" height="0.76" fill="#ffa9a9"/><rect x="100.65" y="266.80" width="24.72" height="0.76" fill="#d8d8ff"/><rect x="125.32" y="266.80" width="24.72" height="0.76" fill="#cdcdff"/><rect x="150.00" y="266.80" width="24.72" height="0.76" fill="#b7b7ff"/><rect x="174.67" y="266.80" width="24.72" height="0.76" fill="#c1c1ff"/><rect x="199.35" y="266.80" width="24.72" height="0.76" fill="#e3e3ff"/><rect x="224.02" y="266.80" width="24.72" height="0.76" fill="#ffffff"/><rect x="51.30" y="267.51" width="24.72" height="0.76" fill="#ff9898"/><rect x="75.97" y="267.51" width="24.72" height="0.76" fill="#ffa8a8"/><rect x="100.65" y="267.51" width="24.72" height="0.76" fill="#f9f9ff"/><rect x="125.32" y="267.51" width="24.72" height="0.76" fill="#fff3f3"/><rect x="150.00" y="267.51" width="24.72" height="0.76" fill="#c1c1ff"/><rect x="174.67" y="267.51" width="24.72" height="0.76" fill="#c9c9ff"/><rect x="199.35" y="267.51" width="24.72" height="0.76" fill="#d9d9ff"/><rect x="224.02" y="267.51" width="24.72" height="0.76" fill="#ffe6e6"/><rect x="51.30" y="268.23" width="24.72" height="0.76" fill="#ffd5d5"/><rect x="75.97" y="268.23" width="24.72" height="0.76" fill="#ffa2a2"/><rect x="100.65" y="268.23" width="24.72" height="0.76" fill="#ffe2e2"/><rect x="125.32" y="268.23" width="24.72" height="0.76" fill="#ffefef"/><rect x="150.00" y="268.23" width="24.72" height="0.76" fill="#c9c9ff"/><rect x="174.67" y="268.23" width="24.72" height="0.76" fill="#c2c2ff"/><rect x="199.35" y="268.23" width="24.72" height="0.76" fill="#a2a2ff"/><rect x="224.02" y="268.23" width="24.72" height="0.76" fill="#e4e4ff"/><rect x="51.30" y="268.94" width="24.72" height="0.76" fill="#fff6f6"/><rect x="75.97" y="268.94" width="24.72" height="0.76" fill="#ffdbdb"/><rect x="100.65" y="268.94" width="24.72" height="0.76" fill="#fffefe"/><rect x="125.32" y="268.94" width="24.72" height="0.76" fill="#fff9f9"/><rect x="150.00" y="268.94" width="24.72" height="0.76" fill="#d0d0ff"/><rect x="174.67" y="268.94" width="24.72" height="0.76" fill="#bebeff"/><rect x="199.35" y="268.94" width="24.72" height="0.76" fill="#a6a6ff"/><rect x="224.02" y="268.94" width="24.72" height="0.76" fill="#e6e6ff"/><rect x="51.30" y="269.66" width="24.72" height="0.76" fill="#ffcbcb"/><rect x="75.97" y="269.66" width="24.72" height="0.76" fill="#ffd6d6"/><rect x="100.65" y="269.66" width="24.72" height="0.76" fill="#f0f0ff"/><rect x="125.32" y="269.66" width="24.72" height="0.76" fill="#fff8f8"/><rect x="150.00" y="269.66" width="24.72" height="0.76" fill="#d4d4ff"/><rect x="174.67" y="269.66" width="24.72" height="0.76" fill="#b9b9ff"/><rect x="199.35" y="269.66" width="24.72" height="0.76" fill="#b4b4ff"/><rect x="224.02" y="269.66" width="24.72" height="0.76" fill="#e4e4ff"/><rect x="51.30" y="270.37" width="24.72" height="0.76" fill="#ffafaf"/><rect x="75.97" y="270.37" width="24.72" height="0.76" fill="#ff9696"/><rect x="100.65" y="270.37" width="24.72" height="0.76" fill="#ffecec"/><rect x="125.32" y="270.37" width="24.72" height="0.76" fill="#fff9f9"/><rect x="150.00" y="270.37" width="24.72" height="0.76" fill="#c9c9ff"/><rect x="174.67" y="270.37" width="24.72" height="0.76" fill="#babaff"/><rect x="199.35" y="270.37" width="24.72" height="0.76" fill="#9090ff"/><rect x="224.02" y="270.37" width="24.72" height="0.76" fill="#e1e1ff"/><rect x="51.30" y="271.09" width="24.72" height="0.76" fill="#ffb3b3"/><rect x="75.97" y="271.09" width="24.72" height="0.76" fill="#ffa3a3"/><rect x="100.65" y="271.09" width="24.72" height="0.76" fill="#ffe1e1"/><rect x="125.32" y="271.09" width="24.72" height="0.76" fill="#f5f5ff"/><rect x="150.00" y="271.09" width="24.72" height="0.76" fill="#e8e8ff"/><rect x="174.67" y="271.09" width="24.72" height="0.76" fill="#d7d7ff"/><rect x="199.35" y="271.09" width="24.72" height="0.76" fill="#bfbfff"/><rect x="224.02" y="271.09" width="24.72" height="0.76" fill="#d7d7ff"/><rect x="51.30" y="271.80" width="24.72" height="0.76" fill="#ffcaca"/><rect x="75.97" y="271.80" width="24.72" height="0.76" fill="#ffc2c2"/><rect x="100.65" y="271.80" width="24.72" height="0.76" fill="#d4d4ff"/><rect x="125.32" y="271.80" width="24.72" height="0.76" fill="#f5f5ff"/><rect x="150.00" y="271.80" width="24.72" height="0.76" fill="#c9c9ff"/><rect x="174.67" y="271.80" width="24.72" height="0.76" fill="#e3e3ff"/><rect x="199.35" y="271.80" width="24.72" height="0.76" fill="#9f9fff"/><rect x="224.02" y="271.80" width="24.72" height="0.76" fill="#d7d7ff"/><rect x="51.30" y="272.52" width="24.72" height="0.76" fill="#ffe3e3"/><rect x="75.97" y="272.52" width="24.72" height="0.76" fill="#fff7f7"/><rect x="100.65" y="272.52" width="24.72" height="0.76" fill="#d4d4ff"/><rect x="125.32" y="272.52" width="24.72" height="0.76" fill="#e1e1ff"/><rect x="150.00" y="272.52" width="24.72" height="0.76" fill="#d0d0ff"/><rect x="174.67" y="272.52" width="24.72" height="0.76" fill="#c5c5ff"/><rect x="199.35" y="272.52" width="24.72" height="0.76" fill="#d2d2ff"/><rect x="224.02" y="272.52" width="24.72" height="0.76" fill="#e0e0ff"/><rect x="51.30" y="273.23" width="24.72" height="0.76" fill="#ff9595"/><rect x="75.97" y="273.23" width="24.72" height="0.76" fill="#ffa6a6"/><rect x="100.65" y="273.23" width="24.72" height="0.76" fill="#f4f4ff"/><rect x="125.32" y="273.23" width="24.72" height="0.76" fill="#fdfdff"/><rect x="150.00" y="273.23" width="24.72" height="0.76" fill="#e6e6ff"/><rect x="174.67" y="273.23" width="24.72" height="0.76" fill="#d4d4ff"/><rect x="199.35" y="273.23" width="24.72" height="0.76" fill="#b5b5ff"/><rect x="224.02" y="273.23" width="24.72" height="0.76" fill="#e2e2ff"/><rect x="51.30" y="273.95" width="24.72" height="0.76" fill="#ff9191"/><rect x="75.97" y="273.95" width="24.72" height="0.76" fill="#ff7676"/><rect x="100.65" y="273.95" width="24.72" height="0.76" fill="#fafaff"/><rect x="125.32" y="273.95" width="24.72" height="0.76" fill="#ffc0c0"/><rect x="150.00" y="273.95" width="24.72" height="0.76" fill="#d0d0ff"/><rect x="174.67" y="273.95" width="24.72" height="0.76" fill="#cacaff"/><rect x="199.35" y="273.95" width="24.72" height="0.76" fill="#ccccff"/><rect x="224.02" y="273.95" width="24.72" height="0.76" fill="#bdbdff"/><rect x="51.30" y="274.66" width="24.72" height="0.76" fill="#ff7b7b"/><rect x="75.97" y="274.66" width="24.72" height="0.76" fill="#ff7f7f"/><rect x="100.65" y="274.66" width="24.72" height="0.76" fill="#ffd8d8"/><rect x="125.32" y="274.66" width="24.72" height="0.76" fill="#ffe6e6"/><rect x="150.00" y="274.66" width="24.72" height="0.76" fill="#d6d6ff"/><rect x="174.67" y="274.66" width="24.72" height="0.76" fill="#c4c4ff"/><rect x="199.35" y="274.66" width="24.72" height="0.76" fill="#cdcdff"/><rect x="224.02" y="274.66" width="24.72" height="0.76" fill="#c4c4ff"/><rect x="51.30" y="275.38" width="24.72" height="0.76" fill="#ff9191"/><rect x="75.97" y="275.38" width="24.72" height="0.76" fill="#ff7f7f"/><rect x="100.65" y="275.38" width="24.72" height="0.76" fill="#fff2f2"/><rect x="125.32" y="275.38" width="24.72" height="0.76" fill="#ffefef"/><rect x="150.00" y="275.38" width="24.72" height="0.76" fill="#b2b2ff"/><rect x="174.67" y="275.38" width="24.72" height="0.76" fill="#d5d5ff"/><rect x="199.35" y="275.38" width="24.72" height="0.76" fill="#d7d7ff"/><rect x="224.02" y="275.38" width="24.72" height="0.76" fill="#cfcfff"/><rect x="51.30" y="276.09" width="24.72" height="0.76" fill="#ffb6b6"/><rect x="75.97" y="276.09" width="24.72" height="0.76" fill="#ffa3a3"/><rect x="100.65" y="276.09" width="24.72" height="0.76" fill="#f2f2ff"/><rect x="125.32" y="276.09" width="24.72" height="0.76" fill="#e8e8ff"/><rect x="150.00" y="276.09" width="24.72" height="0.76" fill="#b6b6ff"/><rect x="174.67" y="276.09" width="24.72" height="0.76" fill="#c3c3ff"/><rect x="199.35" y="276.09" width="24.72" height="0.76" fill="#b0b0ff"/><rect x="224.02" y="276.09" width="24.72" height="0.76" fill="#e6e6ff"/><rect x="51.30" y="276.81" width="24.72" height="0.76" fill="#ffa9a9"/><rect x="75.97" y="276.81" width="24.72" height="0.76" fill="#ff9d9d"/><rect x="100.65" y="276.81" width="24.72" height="0.76" fill="#fffbfb"/><rect x="125.32" y="276.81" width="24.72" height="0.76" fill="#fff9f9"/><rect x="150.00" y="276.81" width="24.72" height="0.76" fill="#b8b8ff"/><rect x="174.67" y="276.81" width="24.72" height="0.76" fill="#c9c9ff"/><rect x="199.35" y="276.81" width="24.72" height="0.76" fill="#afafff"/><rect x="224.02" y="276.81" width="24.72" height="0.76" fill="#b5b5ff"/><rect x="51.30" y="277.52" width="24.72" height="0.76" fill="#ffabab"/><rect x="75.97" y="277.52" width="24.72" height="0.76" fill="#ffc4c4"/><rect x="100.65" y="277.52" width="24.72" height="0.76" fill="#f9f9ff"/><rect x="125.32" y="277.52" width="24.72" height="0.76" fill="#ffe5e5"/><rect x="150.00" y="277.52" width="24.72" height="0.76" fill="#bcbcff"/><rect x="174.67" y="277.52" width="24.72" height="0.76" fill="#aeaeff"/><rect x="199.35" y="277.52" width="24.72" height="0.76" fill="#dcdcff"/><rect x="224.02" y="277.52" width="24.72" height="0.76" fill="#aeaeff"/><rect x="51.30" y="278.23" width="24.72" height="0.76" fill="#ffbaba"/><rect x="75.97" y="278.23" width="24.72" height="0.76" fill="#ffb5b5"/><rect x="100.65" y="278.23" width="24.72" height="0.76" fill="#fffdfd"/><rect x="125.32" y="278.23" width="24.72" height="0.76" fill="#fff6f6"/><rect x="150.00" y="278.23" width="24.72" height="0.76" fill="#cbcbff"/><rect x="174.67" y="278.23" width="24.72" height="0.76" fill="#7a7aff"/><rect x="199.35" y="278.23" width="24.72" height="0.76" fill="#b5b5ff"/><rect x="224.02" y="278.23" width="24.72" height="0.76" fill="#dcdcff"/><rect x="51.30" y="278.95" width="24.72" height="0.76" fill="#ffd8d8"/><rect x="75.97" y="278.95" width="24.72" height="0.76" fill="#ffd3d3"/><rect x="100.65" y="278.95" width="24.72" height="0.76" fill="#fff8f8"/><rect x="125.32" y="278.95" width="24.72" height="0.76" fill="#fff4f4"/><rect x="150.00" y="278.95" width="24.72" height="0.76" fill="#b8b8ff"/><rect x="174.67" y="278.95" width="24.72" height="0.76" fill="#c2c2ff"/><rect x="199.35" y="278.95" width="24.72" height="0.76" fill="#e9e9ff"/><rect x="224.02" y="278.95" width="24.72" height="0.76" fill="#f8f8ff"/><rect x="51.30" y="279.66" width="24.72" height="0.76" fill="#ffdada"/><rect x="75.97" y="279.66" width="24.72" height="0.76" fill="#ffc9c9"/><rect x="100.65" y="279.66" width="24.72" height="0.76" fill="#ffe9e9"/><rect x="125.32" y="279.66" width="24.72" height="0.76" fill="#d6d6ff"/><rect x="150.00" y="279.66" width="24.72" height="0.76" fill="#b8b8ff"/><rect x="174.67" y="279.66" width="24.72" height="0.76" fill="#cbcbff"/><rect x="199.35" y="279.66" width="24.72" height="0.76" fill="#e2e2ff"/><rect x="224.02" y="279.66" width="24.72" height="0.76" fill="#fffcfc"/><rect x="51.30" y="280.38" width="24.72" height="0.76" fill="#ffe2e2"/><rect x="75.97" y="280.38" width="24.72" height="0.76" fill="#ffb7b7"/><rect x="100.65" y="280.38" width="24.72" height="0.76" fill="#ceceff"/><rect x="125.32" y="280.38" width="24.72" height="0.76" fill="#fffcfc"/><rect x="150.00" y="280.38" width="24.72" height="0.76" fill="#b3b3ff"/><rect x="174.67" y="280.38" width="24.72" height="0.76" fill="#dcdcff"/><rect x="199.35" y="280.38" width="24.72" height="0.76" fill="#c0c0ff"/><rect x="224.02" y="280.38" width="24.72" height="0.76" fill="#d3d3ff"/><rect x="51.30" y="281.09" width="24.72" height="0.76" fill="#ffb0b0"/><rect x="75.97" y="281.09" width="24.72" height="0.76" fill="#ff9393"/><rect x="100.65" y="281.09" width="24.72" height="0.76" fill="#fefeff"/><rect x="125.32" y="281.09" width="24.72" height="0.76" fill="#f7f7ff"/><rect x="150.00" y="281.09" width="24.72" height="0.76" fill="#c4c4ff"/><rect x="174.67" y="281.09" width="24.72" height="0.76" fill="#bebeff"/><rect x="199.35" y="281.09" width="24.72" height="0.76" fill="#bdbdff"/><rect x="224.02" y="281.09" width="24.72" height="0.76" fill="#e8e8ff"/><rect x="51.30" y="281.81" width="24.72" height="0.76" fill="#ff9292"/><rect x="75.97" y="281.81" width="24.72" height="0.76" fill="#ffaaaa"/><rect x="100.65" y="281.81" width="24.72" height="0.76" fill="#ffefef"/><rect x="125.32" y="281.81" width="24.72" height="0.76" fill="#fff1f1"/><rect x="150.00" y="281.81" width="24.72" height="0.76" fill="#e0e0ff"/><rect x="174.67" y="281.81" width="24.72" height="0.76" fill="#d5d5ff"/><rect x="199.35" y="281.81" width="24.72" height="0.76" fill="#dadaff"/><rect x="224.02" y="281.81" width="24.72" height="0.76" fill="#c1c1ff"/><rect x="51.30" y="282.52" width="24.72" height="0.76" fill="#ffb8b8"/><rect x="75.97" y="282.52" width="24.72" height="0.76" fill="#ffc2c2"/><rect x="100.65" y="282.52" width="24.72" height="0.76" fill="#ffeeee"/><rect x="125.32" y="282.52" width="24.72" height="0.76" fill="#ffdcdc"/><rect x="150.00" y="282.52" width="24.72" height="0.76" fill="#d7d7ff"/><rect x="174.67" y="282.52" width="24.72" height="0.76" fill="#ddddff"/><rect x="199.35" y="282.52" width="24.72" height="0.76" fill="#e7e7ff"/><rect x="224.02" y="282.52" width="24.72" height="0.76" fill="#ececff"/><rect x="51.30" y="283.24" width="24.72" height="0.76" fill="#ffc6c6"/><rect x="75.97" y="283.24" width="24.72" height="0.76" fill="#ffd3d3"/><rect x="100.65" y="283.24" width="24.72" height="0.76" fill="#ffe0e0"/><rect x="125.32" y="283.24" width="24.72" height="0.76" fill="#fff7f7"/><rect x="150.00" y="283.24" width="24.72" height="0.76" fill="#f7f7ff"/><rect x="174.67" y="283.24" width="24.72" height="0.76" fill="#c8c8ff"/><rect x="199.35" y="283.24" width="24.72" height="0.76" fill="#cdcdff"/><rect x="224.02" y="283.24" width="24.72" height="0.76" fill="#cfcfff"/><rect x="51.30" y="283.95" width="24.72" height="0.76" fill="#ffc8c8"/><rect x="75.97" y="283.95" width="24.72" height="0.76" fill="#ff8f8f"/><rect x="100.65" y="283.95" width="24.72" height="0.76" fill="#ffe4e4"/><rect x="125.32" y="283.95" width="24.72" height="0.76" fill="#ffd4d4"/><rect x="150.00" y="283.95" width="24.72" height="0.76" fill="#e1e1ff"/><rect x="174.67" y="283.95" width="24.72" height="0.76" fill="#e4e4ff"/><rect x="199.35" y="283.95" width="24.72" height="0.76" fill="#c2c2ff"/><rect x="224.02" y="283.95" width="24.72" height="0.76" fill="#b4b4ff"/><rect x="51.30" y="284.67" width="24.72" height="0.76" fill="#ffabab"/><rect x="75.97" y="284.67" width="24.72" height="0.76" fill="#ff7575"/><rect x="100.65" y="284.67" width="24.72" height="0.76" fill="#fff2f2"/><rect x="125.32" y="284.67" width="24.72" height="0.76" fill="#ffe8e8"/><rect x="150.00" y="284.67" width="24.72" height="0.76" fill="#c0c0ff"/><rect x="174.67" y="284.67" width="24.72" height="0.76" fill="#cdcdff"/><rect x="199.35" y="284.67" width="24.72" height="0.76" fill="#a4a4ff"/><rect x="224.02" y="284.67" width="24.72" height="0.76" fill="#babaff"/><rect x="51.30" y="285.38" width="24.72" height="0.76" fill="#ffd1d1"/><rect x="75.97" y="285.38" width="24.72" height="0.76" fill="#ffc5c5"/><rect x="100.65" y="285.38" width="24.72" height="0.76" fill="#fffcfc"/><rect x="125.32" y="285.38" width="24.72" height="0.76" fill="#fff4f4"/><rect x="150.00" y="285.38" width="24.72" height="0.76" fill="#ccccff"/><rect x="174.67" y="285.38" width="24.72" height="0.76" fill="#b8b8ff"/><rect x="199.35" y="285.38" width="24.72" height="0.76" fill="#c6c6ff"/><rect x="224.02" y="285.38" width="24.72" height="0.76" fill="#e2e2ff"/><rect x="51.30" y="286.10" width="24.72" height="0.76" fill="#ffd5d5"/><rect x="75.97" y="286.10" width="24.72" height="0.76" fill="#ffd5d5"/><rect x="100.65" y="286.10" width="24.72" height="0.76" fill="#fcfcff"/><rect x="125.32" y="286.10" width="24.72" height="0.76" fill="#fff0f0"/><rect x="150.00" y="286.10" width="24.72" height="0.76" fill="#c1c1ff"/><rect x="174.67" y="286.10" width="24.72" height="0.76" fill="#adadff"/><rect x="199.35" y="286.10" width="24.72" height="0.76" fill="#e4e4ff"/><rect x="224.02" y="286.10" width="24.72" height="0.76" fill="#e2e2ff"/><rect x="51.30" y="286.81" width="24.72" height="0.76" fill="#ffc6c6"/><rect x="75.97" y="286.81" width="24.72" height="0.76" fill="#ffd7d7"/><rect x="100.65" y="286.81" width="24.72" height="0.76" fill="#ffe4e4"/><rect x="125.32" y="286.81" width="24.72" height="0.76" fill="#fcfcff"/><rect x="150.00" y="286.81" width="24.72" height="0.76" fill="#efefff"/><rect x="174.67" y="286.81" width="24.72" height="0.76" fill="#d9d9ff"/><rect x="199.35" y="286.81" width="24.72" height="0.76" fill="#e7e7ff"/><rect x="224.02" y="286.81" width="24.72" height="0.76" fill="#dadaff"/><rect x="51.30" y="287.53" width="24.72" height="0.76" fill="#ffcccc"/><rect x="75.97" y="287.53" width="24.72" height="0.76" fill="#ffc9c9"/><rect x="100.65" y="287.53" width="24.72" height="0.76" fill="#fffefe"/><rect x="125.32" y="287.53" width="24.72" height="0.76" fill="#ffcfcf"/><rect x="150.00" y="287.53" width="24.72" height="0.76" fill="#dedeff"/><rect x="174.67" y="287.53" width="24.72" height="0.76" fill="#efefff"/><rect x="199.35" y="287.53" width="24.72" height="0.76" fill="#babaff"/><rect x="224.02" y="287.53" width="24.72" height="0.76" fill="#e8e8ff"/><rect x="51.30" y="288.24" width="24.72" height="0.76" fill="#ffdcdc"/><rect x="75.97" y="288.24" width="24.72" height="0.76" fill="#ffeded"/><rect x="100.65" y="288.24" width="24.72" height="0.76" fill="#f9f9ff"/><rect x="125.32" y="288.24" width="24.72" height="0.76" fill="#ffeded"/><rect x="150.00" y="288.24" width="24.72" height="0.76" fill="#d7d7ff"/><rect x="174.67" y="288.24" width="24.72" height="0.76" fill="#f8f8ff"/><rect x="199.35" y="288.24" width="24.72" height="0.76" fill="#a9a9ff"/><rect x="224.02" y="288.24" width="24.72" height="0.76" fill="#dfdfff"/><rect x="51.30" y="288.95" width="24.72" height="0.76" fill="#ffd2d2"/><rect x="75.97" y="288.95" width="24.72" height="0.76" fill="#ffc6c6"/><rect x="100.65" y="288.95" width="24.72" height="0.76" fill="#f6f6ff"/><rect x="125.32" y="288.95" width="24.72" height="0.76" fill="#f7f7ff"/><rect x="150.00" y="288.95" width="24.72" height="0.76" fill="#ccccff"/><rect x="174.67" y="288.95" width="24.72" height="0.76" fill="#9595ff"/><rect x="199.35" y="288.95" width="24.72" height="0.76" fill="#a4a4ff"/><rect x="224.02" y="288.95" width="24.72" height="0.76" fill="#c4c4ff"/><rect x="51.30" y="289.67" width="24.72" height="0.76" fill="#ffc8c8"/><rect x="75.97" y="289.67" width="24.72" height="0.76" fill="#ffbebe"/><rect x="100.65" y="289.67" width="24.72" height="0.76" fill="#eaeaff"/><rect x="125.32" y="289.67" width="24.72" height="0.76" fill="#fff3f3"/><rect x="150.00" y="289.67" width="24.72" height="0.76" fill="#d3d3ff"/><rect x="174.67" y="289.67" width="24.72" height="0.76" fill="#ababff"/><rect x="199.35" y="289.67" width="24.72" height="0.76" fill="#b5b5ff"/><rect x="224.02" y="289.67" width="24.72" height="0.76" fill="#c0c0ff"/><rect x="51.30" y="290.38" width="24.72" height="0.76" fill="#ffb1b1"/><rect x="75.97" y="290.38" width="24.72" height="0.76" fill="#ff8686"/><rect x="100.65" y="290.38" width="24.72" height="0.76" fill="#dadaff"/><rect x="125.32" y="290.38" width="24.72" height="0.76" fill="#f9f9ff"/><rect x="150.00" y="290.38" width="24.72" height="0.76" fill="#bfbfff"/><rect x="174.67" y="290.38" width="24.72" height="0.76" fill="#c6c6ff"/><rect x="199.35" y="290.38" width="24.72" height="0.76" fill="#b8b8ff"/><rect x="224.02" y="290.38" width="24.72" height="0.76" fill="#ceceff"/><rect x="51.30" y="291.10" width="24.72" height="0.76" fill="#ff9797"/><rect x="75.97" y="291.10" width="24.72" height="0.76" fill="#ff9292"/><rect x="100.65" y="291.10" width="24.72" height="0.76" fill="#fff5f5"/><rect x="125.32" y="291.10" width="24.72" height="0.76" fill="#fffefe"/><rect x="150.00" y="291.10" width="24.72" height="0.76" fill="#c1c1ff"/><rect x="174.67" y="291.10" width="24.72" height="0.76" fill="#b7b7ff"/><rect x="199.35" y="291.10" width="24.72" height="0.76" fill="#bfbfff"/><rect x="224.02" y="291.10" width="24.72" height="0.76" fill="#c0c0ff"/><rect x="51.30" y="291.81" width="24.72" height="0.76" fill="#ff7070"/><rect x="75.97" y="291.81" width="24.72" height="0.76" fill="#ff8989"/><rect x="100.65" y="291.81" width="24.72" height="0.76" fill="#ffe8e8"/><rect x="125.32" y="291.81" width="24.72" height="0.76" fill="#ffcfcf"/><rect x="150.00" y="291.81" width="24.72" height="0.76" fill="#c1c1ff"/><rect x="174.67" y="291.81" width="24.72" height="0.76" fill="#a9a9ff"/><rect x="199.35" y="291.81" width="24.72" height="0.76" fill="#babaff"/><rect x="224.02" y="291.81" width="24.72" height="0.76" fill="#bcbcff"/><rect x="51.30" y="292.53" width="24.72" height="0.76" fill="#ff9e9e"/><rect x="75.97" y="292.53" width="24.72" height="0.76" fill="#ff7272"/><rect x="100.65" y="292.53" width="24.72" height="0.76" fill="#ffd4d4"/><rect x="125.32" y="292.53" width="24.72" height="0.76" fill="#ffe1e1"/><rect x="150.00" y="292.53" width="24.72" height="0.76" fill="#b2b2ff"/><rect x="174.67" y="292.53" width="24.72" height="0.76" fill="#bcbcff"/><rect x="199.35" y="292.53" width="24.72" height="0.76" fill="#b1b1ff"/><rect x="224.02" y="292.53" width="24.72" height="0.76" fill="#adadff"/><rect x="51.30" y="293.24" width="24.72" height="0.76" fill="#ffdcdc"/><rect x="75.97" y="293.24" width="24.72" height="0.76" fill="#ffadad"/><rect x="100.65" y="293.24" width="24.72" height="0.76" fill="#ffe7e7"/><rect x="125.32" y="293.24" width="24.72" height="0.76" fill="#ffd9d9"/><rect x="150.00" y="293.24" width="24.72" height="0.76" fill="#c8c8ff"/><rect x="174.67" y="293.24" width="24.72" height="0.76" fill="#d0d0ff"/><rect x="199.35" y="293.24" width="24.72" height="0.76" fill="#bebeff"/><rect x="224.02" y="293.24" width="24.72" height="0.76" fill="#b8b8ff"/><rect x="51.30" y="293.96" width="24.72" height="0.76" fill="#ffcaca"/><rect x="75.97" y="293.96" width="24.72" height="0.76" fill="#ffbdbd"/><rect x="100.65" y="293.96" width="24.72" height="0.76" fill="#fffafa"/><rect x="125.32" y="293.96" width="24.72" height="0.76" fill="#ffebeb"/><rect x="150.00" y="293.96" width="24.72" height="0.76" fill="#f0f0ff"/><rect x="174.67" y="293.96" width="24.72" height="0.76" fill="#ddddff"/><rect x="199.35" y="293.96" width="24.72" height="0.76" fill="#ececff"/><rect x="224.02" y="293.96" width="24.72" height="0.76" fill="#ddddff"/><rect x="51.30" y="294.67" width="24.72" height="0.76" fill="#ffd6d6"/><rect x="75.97" y="294.67" width="24.72" height="0.76" fill="#ffb5b5"/><rect x="100.65" y="294.67" width="24.72" height="0.76" fill="#fffcfc"/><rect x="125.32" y="294.67" width="24.72" height="0.76" fill="#ffdcdc"/><rect x="150.00" y="294.67" width="24.72" height="0.76" fill="#e3e3ff"/><rect x="174.67" y="294.67" width="24.72" height="0.76" fill="#e2e2ff"/><rect x="199.35" y="294.67" width="24.72" height="0.76" fill="#d2d2ff"/><rect x="224.02" y="294.67" width="24.72" height="0.76" fill="#f3f3ff"/><rect x="51.30" y="295.39" width="24.72" height="0.76" fill="#ffc8c8"/><rect x="75.97" y="295.39" width="24.72" height="0.76" fill="#ffc0c0"/><rect x="100.65" y="295.39" width="24.72" height="0.76" fill="#ffd2d2"/><rect x="125.32" y="295.39" width="24.72" height="0.76" fill="#ffc6c6"/><rect x="150.00" y="295.39" width="24.72" height="0.76" fill="#c7c7ff"/><rect x="174.67" y="295.39" width="24.72" height="0.76" fill="#bbbbff"/><rect x="199.35" y="295.39" width="24.72" height="0.76" fill="#eaeaff"/><rect x="224.02" y="295.39" width="24.72" height="0.76" fill="#eeeeff"/><rect x="51.30" y="296.10" width="24.72" height="0.76" fill="#ff8787"/><rect x="75.97" y="296.10" width="24.72" height="0.76" fill="#ff9898"/><rect x="100.65" y="296.10" width="24.72" height="0.76" fill="#ffcece"/><rect x="125.32" y="296.10" width="24.72" height="0.76" fill="#ffbebe"/><rect x="150.00" y="296.10" width="24.72" height="0.76" fill="#c5c5ff"/><rect x="174.67" y="296.10" width="24.72" height="0.76" fill="#ceceff"/><rect x="199.35" y="296.10" width="24.72" height="0.76" fill="#dbdbff"/><rect x="224.02" y="296.10" width="24.72" height="0.76" fill="#eeeeff"/><rect x="51.30" y="296.82" width="24.72" height="0.76" fill="#ffa1a1"/><rect x="75.97" y="296.82" width="24.72" height="0.76" fill="#ff9f9f"/><rect x="100.65" y="296.82" width="24.72" height="0.76" fill="#fffafa"/><rect x="125.32" y="296.82" width="24.72" height="0.76" fill="#ffdfdf"/><rect x="150.00" y="296.82" width="24.72" height="0.76" fill="#acacff"/><rect x="174.67" y="296.82" width="24.72" height="0.76" fill="#b7b7ff"/><rect x="199.35" y="296.82" width="24.72" height="0.76" fill="#b0b0ff"/><rect x="224.02" y="296.82" width="24.72" height="0.76" fill="#bfbfff"/><rect x="51.30" y="297.53" width="24.72" height="0.76" fill="#ffc3c3"/><rect x="75.97" y="297.53" width="24.72" height="0.76" fill="#ffabab"/><rect x="100.65" y="297.53" width="24.72" height="0.76" fill="#ececff"/><rect x="125.32" y="297.53" width="24.72" height="0.76" fill="#ffe9e9"/><rect x="150.00" y="297.53" width="24.72" height="0.76" fill="#dfdfff"/><rect x="174.67" y="297.53" width="24.72" height="0.76" fill="#ebebff"/><rect x="199.35" y="297.53" width="24.72" height="0.76" fill="#d8d8ff"/><rect x="224.02" y="297.53" width="24.72" height="0.76" fill="#c7c7ff"/><rect x="51.30" y="298.25" width="24.72" height="0.76" fill="#ffb3b3"/><rect x="75.97" y="298.25" width="24.72" height="0.76" fill="#ff8888"/><rect x="100.65" y="298.25" width="24.72" height="0.76" fill="#eeeeff"/><rect x="125.32" y="298.25" width="24.72" height="0.76" fill="#fff4f4"/><rect x="150.00" y="298.25" width="24.72" height="0.76" fill="#cdcdff"/><rect x="174.67" y="298.25" width="24.72" height="0.76" fill="#e8e8ff"/><rect x="199.35" y="298.25" width="24.72" height="0.76" fill="#a7a7ff"/><rect x="224.02" y="298.25" width="24.72" height="0.76" fill="#cdcdff"/><rect x="51.30" y="298.96" width="24.72" height="0.76" fill="#ffc4c4"/><rect x="75.97" y="298.96" width="24.72" height="0.76" fill="#ffdddd"/><rect x="100.65" y="298.96" width="24.72" height="0.76" fill="#fff1f1"/><rect x="125.32" y="298.96" width="24.72" height="0.76" fill="#ffe8e8"/><rect x="150.00" y="298.96" width="24.72" height="0.76" fill="#d8d8ff"/><rect x="174.67" y="298.96" width="24.72" height="0.76" fill="#dbdbff"/><rect x="199.35" y="298.96" width="24.72" height="0.76" fill="#b0b0ff"/><rect x="224.02" y="298.96" width="24.72" height="0.76" fill="#c9c9ff"/><rect x="51.30" y="299.67" width="24.72" height="0.76" fill="#ffb6b6"/><rect x="75.97" y="299.67" width="24.72" height="0.76" fill="#ffa0a0"/><rect x="100.65" y="299.67" width="24.72" height="0.76" fill="#ffe4e4"/><rect x="125.32" y="299.67" width="24.72" height="0.76" fill="#fff0f0"/><rect x="150.00" y="299.67" width="24.72" height="0.76" fill="#a0a0ff"/><rect x="174.67" y="299.67" width="24.72" height="0.76" fill="#b9b9ff"/><rect x="199.35" y="299.67" width="24.72" height="0.76" fill="#e6e6ff"/><rect x="224.02" y="299.67" width="24.72" height="0.76" fill="#cbcbff"/><rect x="51.30" y="300.39" width="24.72" height="0.76" fill="#ffb5b5"/><rect x="75.97" y="300.39" width="24.72" height="0.76" fill="#ffcaca"/><rect x="100.65" y="300.39" width="24.72" height="0.76" fill="#fffefe"/><rect x="125.32" y="300.39" width="24.72" height="0.76" fill="#ffd8d8"/><rect x="150.00" y="300.39" width="24.72" height="0.76" fill="#b0b0ff"/><rect x="174.67" y="300.39" width="24.72" height="0.76" fill="#b6b6ff"/><rect x="199.35" y="300.39" width="24.72" height="0.76" fill="#d5d5ff"/><rect x="224.02" y="300.39" width="24.72" height="0.76" fill="#c3c3ff"/><rect x="51.30" y="301.10" width="24.72" height="0.76" fill="#ffb0b0"/><rect x="75.97" y="301.10" width="24.72" height="0.76" fill="#ff9f9f"/><rect x="100.65" y="301.10" width="24.72" height="0.76" fill="#ffdddd"/><rect x="125.32" y="301.10" width="24.72" height="0.76" fill="#ffbfbf"/><rect x="150.00" y="301.10" width="24.72" height="0.76" fill="#c1c1ff"/><rect x="174.67" y="301.10" width="24.72" height="0.76" fill="#9393ff"/><rect x="199.35" y="301.10" width="24.72" height="0.76" fill="#c9c9ff"/><rect x="224.02" y="301.10" width="24.72" height="0.76" fill="#dedeff"/><rect x="51.30" y="301.82" width="24.72" height="0.76" fill="#ffe6e6"/><rect x="75.97" y="301.82" width="24.72" height="0.76" fill="#ffbcbc"/><rect x="100.65" y="301.82" width="24.72" height="0.76" fill="#ffdada"/><rect x="125.32" y="301.82" width="24.72" height="0.76" fill="#ffe0e0"/><rect x="150.00" y="301.82" width="24.72" height="0.76" fill="#bcbcff"/><rect x="174.67" y="301.82" width="24.72" height="0.76" fill="#b6b6ff"/><rect x="199.35" y="301.82" width="24.72" height="0.76" fill="#eaeaff"/><rect x="224.02" y="301.82" width="24.72" height="0.76" fill="#dadaff"/><rect x="51.30" y="302.53" width="24.72" height="0.76" fill="#ffe0e0"/><rect x="75.97" y="302.53" width="24.72" height="0.76" fill="#ffc0c0"/><rect x="100.65" y="302.53" width="24.72" height="0.76" fill="#ffd6d6"/><rect x="125.32" y="302.53" width="24.72" height="0.76" fill="#ffdbdb"/><rect x="150.00" y="302.53" width="24.72" height="0.76" fill="#b9b9ff"/><rect x="174.67" y="302.53" width="24.72" height="0.76" fill="#cdcdff"/><rect x="199.35" y="302.53" width="24.72" height="0.76" fill="#e9e9ff"/><rect x="224.02" y="302.53" width="24.72" height="0.76" fill="#ceceff"/><rect x="51.30" y="303.25" width="24.72" height="0.76" fill="#ffe6e6"/><rect x="75.97" y="303.25" width="24.72" height="0.76" fill="#ff9999"/><rect x="100.65" y="303.25" width="24.72" height="0.76" fill="#fffbfb"/><rect x="125.32" y="303.25" width="24.72" height="0.76" fill="#fff1f1"/><rect x="150.00" y="303.25" width="24.72" height="0.76" fill="#f2f2ff"/><rect x="174.67" y="303.25" width="24.72" height="0.76" fill="#bbbbff"/><rect x="199.35" y="303.25" width="24.72" height="0.76" fill="#ccccff"/><rect x="224.02" y="303.25" width="24.72" height="0.76" fill="#f2f2ff"/><rect x="51.30" y="303.96" width="24.72" height="0.76" fill="#ffb1b1"/><rect x="75.97" y="303.96" width="24.72" height="0.76" fill="#ffa5a5"/><rect x="100.65" y="303.96" width="24.72" height="0.76" fill="#fff7f7"/><rect x="125.32" y="303.96" width="24.72" height="0.76" fill="#ffefef"/><rect x="150.00" y="303.96" width="24.72" height="0.76" fill="#c8c8ff"/><rect x="174.67" y="303.96" width="24.72" height="0.76" fill="#b7b7ff"/><rect x="199.35" y="303.96" width="24.72" height="0.76" fill="#d4d4ff"/><rect x="224.02" y="303.96" width="24.72" height="0.76" fill="#efefff"/><rect x="51.30" y="304.68" width="24.72" height="0.76" fill="#ff9d9d"/><rect x="75.97" y="304.68" width="24.72" height="0.76" fill="#ff9393"/><rect x="100.65" y="304.68" width="24.72" height="0.76" fill="#ffdbdb"/><rect x="125.32" y="304.68" width="24.72" height="0.76" fill="#ffe4e4"/><rect x="150.00" y="304.68" width="24.72" height="0.76" fill="#d6d6ff"/><rect x="174.67" y="304.68" width="24.72" height="0.76" fill="#cbcbff"/><rect x="199.35" y="304.68" width="24.72" height="0.76" fill="#d6d6ff"/><rect x="224.02" y="304.68" width="24.72" height="0.76" fill="#acacff"/><rect x="51.30" y="305.39" width="24.72" height="0.76" fill="#ff8c8c"/><rect x="75.97" y="305.39" width="24.72" height="0.76" fill="#ff8e8e"/><rect x="100.65" y="305.39" width="24.72" height="0.76" fill="#ffcccc"/><rect x="125.32" y="305.39" width="24.72" height="0.76" fill="#ffeeee"/><rect x="150.00" y="305.39" width="24.72" height="0.76" fill="#b1b1ff"/><rect x="174.67" y="305.39" width="24.72" height="0.76" fill="#c1c1ff"/><rect x="199.35" y="305.39" width="24.72" height="0.76" fill="#b3b3ff"/><rect x="224.02" y="305.39" width="24.72" height="0.76" fill="#bcbcff"/><rect x="51.30" y="306.11" width="24.72" height="0.76" fill="#ff8383"/><rect x="75.97" y="306.11" width="24.72" height="0.76" fill="#ff9898"/><rect x="100.65" y="306.11" width="24.72" height="0.76" fill="#ffd6d6"/><rect x="125.32" y="306.11" width="24.72" height="0.76" fill="#fff2f2"/><rect x="150.00" y="306.11" width="24.72" height="0.76" fill="#a8a8ff"/><rect x="174.67" y="306.11" width="24.72" height="0.76" fill="#a3a3ff"/><rect x="199.35" y="306.11" width="24.72" height="0.76" fill="#bdbdff"/><rect x="224.02" y="306.11" width="24.72" height="0.76" fill="#c6c6ff"/><rect x="51.30" y="306.82" width="24.72" height="0.76" fill="#ff7a7a"/><rect x="75.97" y="306.82" width="24.72" height="0.76" fill="#ff9494"/><rect x="100.65" y="306.82" width="24.72" height="0.76" fill="#fcfcff"/><rect x="125.32" y="306.82" width="24.72" height="0.76" fill="#ffe8e8"/><rect x="150.00" y="306.82" width="24.72" height="0.76" fill="#dcdcff"/><rect x="174.67" y="306.82" width="24.72" height="0.76" fill="#c3c3ff"/><rect x="199.35" y="306.82" width="24.72" height="0.76" fill="#b8b8ff"/><rect x="224.02" y="306.82" width="24.72" height="0.76" fill="#d8d8ff"/><rect x="51.30" y="307.54" width="24.72" height="0.76" fill="#ffb4b4"/><rect x="75.97" y="307.54" width="24.72" height="0.76" fill="#ffadad"/><rect x="100.65" y="307.54" width="24.72" height="0.76" fill="#fff3f3"/><rect x="125.32" y="307.54" width="24.72" height="0.76" fill="#ffeeee"/><rect x="150.00" y="307.54" width="24.72" height="0.76" fill="#b9b9ff"/><rect x="174.67" y="307.54" width="24.72" height="0.76" fill="#babaff"/><rect x="199.35" y="307.54" width="24.72" height="0.76" fill="#ddddff"/><rect x="224.02" y="307.54" width="24.72" height="0.76" fill="#f2f2ff"/><rect x="51.30" y="308.25" width="24.72" height="0.76" fill="#ffb5b5"/><rect x="75.97" y="308.25" width="24.72" height="0.76" fill="#ffb3b3"/><rect x="100.65" y="308.25" width="24.72" height="0.76" fill="#ffebeb"/><rect x="125.32" y="308.25" width="24.72" height="0.76" fill="#ffd9d9"/><rect x="150.00" y="308.25" width="24.72" height="0.76" fill="#cacaff"/><rect x="174.67" y="308.25" width="24.72" height="0.76" fill="#c9c9ff"/><rect x="199.35" y="308.25" width="24.72" height="0.76" fill="#c2c2ff"/><rect x="224.02" y="308.25" width="24.72" height="0.76" fill="#d1d1ff"/><rect x="51.30" y="308.97" width="24.72" height="0.76" fill="#ffdcdc"/><rect x="75.97" y="308.97" width="24.72" height="0.76" fill="#ffbbbb"/><rect x="100.65" y="308.97" width="24.72" height="0.76" fill="#ffe3e3"/><rect x="125.32" y="308.97" width="24.72" height="0.76" fill="#ffcfcf"/><rect x="150.00" y="308.97" width="24.72" height="0.76" fill="#dfdfff"/><rect x="174.67" y="308.97" width="24.72" height="0.76" fill="#c4c4ff"/><rect x="199.35" y="308.97" width="24.72" height="0.76" fill="#cbcbff"/><rect x="224.02" y="308.97" width="24.72" height="0.76" fill="#c4c4ff"/><rect x="51.30" y="309.68" width="24.72" height="0.76" fill="#ff9f9f"/><rect x="75.97" y="309.68" width="24.72" height="0.76" fill="#ff7d7d"/><rect x="100.65" y="309.68" width="24.72" height="0.76" fill="#ffe1e1"/><rect x="125.32" y="309.68" width="24.72" height="0.76" fill="#ffeaea"/><rect x="150.00" y="309.68" width="24.72" height="0.76" fill="#bcbcff"/><rect x="174.67" y="309.68" width="24.72" height="0.76" fill="#c8c8ff"/><rect x="199.35" y="309.68" width="24.72" height="0.76" fill="#ababff"/><rect x="224.02" y="309.68" width="24.72" height="0.76" fill="#d0d0ff"/><rect x="51.30" y="310.39" width="24.72" height="0.76" fill="#ff9898"/><rect x="75.97" y="310.39" width="24.72" height="0.76" fill="#ff9999"/><rect x="100.65" y="310.39" width="24.72" height="0.76" fill="#ffebeb"/><rect x="125.32" y="310.39" width="24.72" height="0.76" fill="#ffc6c6"/><rect x="150.00" y="310.39" width="24.72" height="0.76" fill="#d8d8ff"/><rect x="174.67" y="310.39" width="24.72" height="0.76" fill="#c7c7ff"/><rect x="199.35" y="310.39" width="24.72" height="0.76" fill="#adadff"/><rect x="224.02" y="310.39" width="24.72" height="0.76" fill="#d4d4ff"/><rect x="51.30" y="311.11" width="24.72" height="0.76" fill="#ffa2a2"/><rect x="75.97" y="311.11" width="24.72" height="0.76" fill="#ff9f9f"/><rect x="100.65" y="311.11" width="24.72" height="0.76" fill="#ffdada"/><rect x="125.32" y="311.11" width="24.72" height="0.76" fill="#ffd4d4"/><rect x="150.00" y="311.11" width="24.72" height="0.76" fill="#c4c4ff"/><rect x="174.67" y="311.11" width="24.72" height="0.76" fill="#cbcbff"/><rect x="199.35" y="311.11" width="24.72" height="0.76" fill="#cbcbff"/><rect x="224.02" y="311.11" width="24.72" height="0.76" fill="#d7d7ff"/><rect x="51.30" y="311.82" width="24.72" height="0.76" fill="#ffa7a7"/><rect x="75.97" y="311.82" width="24.72" height="0.76" fill="#ffa3a3"/><rect x="100.65" y="311.82" width="24.72" height="0.76" fill="#ffbcbc"/><rect x="125.32" y="311.82" width="24.72" height="0.76" fill="#ffdbdb"/><rect x="150.00" y="311.82" width="24.72" height="0.76" fill="#d8d8ff"/><rect x="174.67" y="311.82" width="24.72" height="0.76" fill="#c9c9ff"/><rect x="199.35" y="311.82" width="24.72" height="0.76" fill="#ceceff"/><rect x="224.02" y="311.82" width="24.72" height="0.76" fill="#d0d0ff"/><rect x="51.30" y="312.54" width="24.72" height="0.76" fill="#ffaeae"/><rect x="75.97" y="312.54" width="24.72" height="0.76" fill="#ffa0a0"/><rect x="100.65" y="312.54" width="24.72" height="0.76" fill="#ffcccc"/><rect x="125.32" y="312.54" width="24.72" height="0.76" fill="#ffd4d4"/><rect x="150.00" y="312.54" width="24.72" height="0.76" fill="#cacaff"/><rect x="174.67" y="312.54" width="24.72" height="0.76" fill="#bcbcff"/><rect x="199.35" y="312.54" width="24.72" height="0.76" fill="#ceceff"/><rect x="224.02" y="312.54" width="24.72" height="0.76" fill="#d0d0ff"/><rect x="51.30" y="313.25" width="24.72" height="0.76" fill="#ffb0b0"/><rect x="75.97" y="313.25" width="24.72" height="0.76" fill="#ffc0c0"/><rect x="100.65" y="313.25" width="24.72" height="0.76" fill="#ffe6e6"/><rect x="125.32" y="313.25" width="24.72" height="0.76" fill="#ffdddd"/><rect x="150.00" y="313.25" width="24.72" height="0.76" fill="#cbcbff"/><rect x="174.67" y="313.25" width="24.72" height="0.76" fill="#d5d5ff"/><rect x="199.35" y="313.25" width="24.72" height="0.76" fill="#b2b2ff"/><rect x="224.02" y="313.25" width="24.72" height="0.76" fill="#f0f0ff"/><rect x="51.30" y="313.97" width="24.72" height="0.76" fill="#ffa5a5"/><rect x="75.97" y="313.97" width="24.72" height="0.76" fill="#ffbfbf"/><rect x="100.65" y="313.97" width="24.72" height="0.76" fill="#fff9f9"/><rect x="125.32" y="313.97" width="24.72" height="0.76" fill="#ffe4e4"/><rect x="150.00" y="313.97" width="24.72" height="0.76" fill="#d6d6ff"/><rect x="174.67" y="313.97" width="24.72" height="0.76" fill="#c5c5ff"/><rect x="199.35" y="313.97" width="24.72" height="0.76" fill="#d3d3ff"/><rect x="224.02" y="313.97" width="24.72" height="0.76" fill="#c4c4ff"/><rect x="51.30" y="314.68" width="24.72" height="0.76" fill="#ffd2d2"/><rect x="75.97" y="314.68" width="24.72" height="0.76" fill="#ffb6b6"/><rect x="100.65" y="314.68" width="24.72" height="0.76" fill="#f0f0ff"/><rect x="125.32" y="314.68" width="24.72" height="0.76" fill="#fefeff"/><rect x="150.00" y="314.68" width="24.72" height="0.76" fill="#e2e2ff"/><rect x="174.67" y="314.68" width="24.72" height="0.76" fill="#dbdbff"/><rect x="199.35" y="314.68" width="24.72" height="0.76" fill="#cacaff"/><rect x="224.02" y="314.68" width="24.72" height="0.76" fill="#b6b6ff"/><rect x="51.30" y="315.40" width="24.72" height="0.76" fill="#ffc8c8"/><rect x="75.97" y="315.40" width="24.72" height="0.76" fill="#ffc6c6"/><rect x="100.65" y="315.40" width="24.72" height="0.76" fill="#fff9f9"/><rect x="125.32" y="315.40" width="24.72" height="0.76" fill="#ffebeb"/><rect x="150.00" y="315.40" width="24.72" height="0.76" fill="#d0d0ff"/><rect x="174.67" y="315.40" width="24.72" height="0.76" fill="#c1c1ff"/><rect x="199.35" y="315.40" width="24.72" height="0.76" fill="#dfdfff"/><rect x="224.02" y="315.40" width="24.72" height="0.76" fill="#e3e3ff"/><rect x="51.30" y="316.11" width="24.72" height="0.76" fill="#ffe9e9"/><rect x="75.97" y="316.11" width="24.72" height="0.76" fill="#ffd9d9"/><rect x="100.65" y="316.11" width="24.72" height="0.76" fill="#ffd6d6"/><rect x="125.32" y="316.11" width="24.72" height="0.76" fill="#fff8f8"/><rect x="150.00" y="316.11" width="24.72" height="0.76" fill="#e6e6ff"/><rect x="174.67" y="316.11" width="24.72" height="0.76" fill="#c2c2ff"/><rect x="199.35" y="316.11" width="24.72" height="0.76" fill="#cbcbff"/><rect x="224.02" y="316.11" width="24.72" height="0.76" fill="#dfdfff"/><rect x="51.30" y="316.83" width="24.72" height="0.76" fill="#ffc3c3"/><rect x="75.97" y="316.83" width="24.72" height="0.76" fill="#ffb9b9"/><rect x="100.65" y="316.83" width="24.72" height="0.76" fill="#ffd4d4"/><rect x="125.32" y="316.83" width="24.72" height="0.76" fill="#ffd6d6"/><rect x="150.00" y="316.83" width="24.72" height="0.76" fill="#dedeff"/><rect x="174.67" y="316.83" width="24.72" height="0.76" fill="#d3d3ff"/><rect x="199.35" y="316.83" width="24.72" height="0.76" fill="#dbdbff"/><rect x="224.02" y="316.83" width="24.72" height="0.76" fill="#f5f5ff"/><rect x="51.30" y="317.54" width="24.72" height="0.76" fill="#ffafaf"/><rect x="75.97" y="317.54" width="24.72" height="0.76" fill="#ff8787"/><rect x="100.65" y="317.54" width="24.72" height="0.76" fill="#ffbdbd"/><rect x="125.32" y="317.54" width="24.72" height="0.76" fill="#ffd5d5"/><rect x="150.00" y="317.54" width="24.72" height="0.76" fill="#d0d0ff"/><rect x="174.67" y="317.54" width="24.72" height="0.76" fill="#ddddff"/><rect x="199.35" y="317.54" width="24.72" height="0.76" fill="#dbdbff"/><rect x="224.02" y="317.54" width="24.72" height="0.76" fill="#e2e2ff"/><rect x="51.30" y="318.26" width="24.72" height="0.76" fill="#ff8080"/><rect x="75.97" y="318.26" width="24.72" height="0.76" fill="#ff7474"/><rect x="100.65" y="318.26" width="24.72" height="0.76" fill="#ffdbdb"/><rect x="125.32" y="318.26" width="24.72" height="0.76" fill="#ffdddd"/><rect x="150.00" y="318.26" width="24.72" height="0.76" fill="#d4d4ff"/><rect x="174.67" y="318.26" width="24.72" height="0.76" fill="#c2c2ff"/><rect x="199.35" y="318.26" width="24.72" height="0.76" fill="#dedeff"/><rect x="224.02" y="318.26" width="24.72" height="0.76" fill="#eaeaff"/><rect x="51.30" y="318.97" width="24.72" height="0.76" fill="#ff9696"/><rect x="75.97" y="318.97" width="24.72" height="0.76" fill="#ff7f7f"/><rect x="100.65" y="318.97" width="24.72" height="0.76" fill="#ffe2e2"/><rect x="125.32" y="318.97" width="24.72" height="0.76" fill="#ffcccc"/><rect x="150.00" y="318.97" width="24.72" height="0.76" fill="#c1c1ff"/><rect x="174.67" y="318.97" width="24.72" height="0.76" fill="#c5c5ff"/><rect x="199.35" y="318.97" width="24.72" height="0.76" fill="#bdbdff"/><rect x="224.02" y="318.97" width="24.72" height="0.76" fill="#dcdcff"/><rect x="51.30" y="319.69" width="24.72" height="0.76" fill="#ffa1a1"/><rect x="75.97" y="319.69" width="24.72" height="0.76" fill="#ffa6a6"/><rect x="100.65" y="319.69" width="24.72" height="0.76" fill="#fffafa"/><rect x="125.32" y="319.69" width="24.72" height="0.76" fill="#ffbdbd"/><rect x="150.00" y="319.69" width="24.72" height="0.76" fill="#cbcbff"/><rect x="174.67" y="319.69" width="24.72" height="0.76" fill="#bfbfff"/><rect x="199.35" y="319.69" width="24.72" height="0.76" fill="#c1c1ff"/><rect x="224.02" y="319.69" width="24.72" height="0.76" fill="#c2c2ff"/><rect x="51.30" y="320.40" width="24.72" height="0.76" fill="#ffcbcb"/><rect x="75.97" y="320.40" width="24.72" height="0.76" fill="#ffbdbd"/><rect x="100.65" y="320.40" width="24.72" height="0.76" fill="#ffd8d8"/><rect x="125.32" y="320.40" width="24.72" height="0.76" fill="#ffc6c6"/><rect x="150.00" y="320.40" width="24.72" height="0.76" fill="#c0c0ff"/><rect x="174.67" y="320.40" width="24.72" height="0.76" fill="#a5a5ff"/><rect x="199.35" y="320.40" width="24.72" height="0.76" fill="#babaff"/><rect x="224.02" y="320.40" width="24.72" height="0.76" fill="#e1e1ff"/><rect x="51.30" y="321.11" width="24.72" height="0.76" fill="#ffd2d2"/><rect x="75.97" y="321.11" width="24.72" height="0.76" fill="#ffc3c3"/><rect x="100.65" y="321.11" width="24.72" height="0.76" fill="#fffdfd"/><rect x="125.32" y="321.11" width="24.72" height="0.76" fill="#ffe6e6"/><rect x="150.00" y="321.11" width="24.72" height="0.76" fill="#d5d5ff"/><rect x="174.67" y="321.11" width="24.72" height="0.76" fill="#cfcfff"/><rect x="199.35" y="321.11" width="24.72" height="0.76" fill="#babaff"/><rect x="224.02" y="321.11" width="24.72" height="0.76" fill="#b6b6ff"/><rect x="51.30" y="321.83" width="24.72" height="0.76" fill="#ffbcbc"/><rect x="75.97" y="321.83" width="24.72" height="0.76" fill="#ffb0b0"/><rect x="100.65" y="321.83" width="24.72" height="0.76" fill="#ffd3d3"/><rect x="125.32" y="321.83" width="24.72" height="0.76" fill="#ffcbcb"/><rect x="150.00" y="321.83" width="24.72" height="0.76" fill="#e2e2ff"/><rect x="174.67" y="321.83" width="24.72" height="0.76" fill="#dadaff"/><rect x="199.35" y="321.83" width="24.72" height="0.76" fill="#d7d7ff"/><rect x="224.02" y="321.83" width="24.72" height="0.76" fill="#b7b7ff"/><rect x="51.30" y="322.54" width="24.72" height="0.76" fill="#ff9090"/><rect x="75.97" y="322.54" width="24.72" height="0.76" fill="#ffa4a4"/><rect x="100.65" y="322.54" width="24.72" height="0.76" fill="#fffbfb"/><rect x="125.32" y="322.54" width="24.72" height="0.76" fill="#ffeeee"/><rect x="150.00" y="322.54" width="24.72" height="0.76" fill="#e0e0ff"/><rect x="174.67" y="322.54" width="24.72" height="0.76" fill="#d9d9ff"/><rect x="199.35" y="322.54" width="24.72" height="0.76" fill="#cfcfff"/><rect x="224.02" y="322.54" width="24.72" height="0.76" fill="#ddddff"/><rect x="51.30" y="323.26" width="24.72" height="0.76" fill="#ff8a8a"/><rect x="75.97" y="323.26" width="24.72" height="0.76" fill="#ffa0a0"/><rect x="100.65" y="323.26" width="24.72" height="0.76" fill="#ffe9e9"/><rect x="125.32" y="323.26" width="24.72" height="0.76" fill="#ffe1e1"/><rect x="150.00" y="323.26" width="24.72" height="0.76" fill="#c6c6ff"/><rect x="174.67" y="323.26" width="24.72" height="0.76" fill="#c8c8ff"/><rect x="199.35" y="323.26" width="24.72" height="0.76" fill="#e4e4ff"/><rect x="224.02" y="323.26" width="24.72" height="0.76" fill="#d5d5ff"/><rect x="51.30" y="323.97" width="24.72" height="0.76" fill="#ffbaba"/><rect x="75.97" y="323.97" width="24.72" height="0.76" fill="#ffafaf"/><rect x="100.65" y="323.97" width="24.72" height="0.76" fill="#fff4f4"/><rect x="125.32" y="323.97" width="24.72" height="0.76" fill="#ffe0e0"/><rect x="150.00" y="323.97" width="24.72" height="0.76" fill="#ededff"/><rect x="174.67" y="323.97" width="24.72" height="0.76" fill="#d8d8ff"/><rect x="199.35" y="323.97" width="24.72" height="0.76" fill="#bebeff"/><rect x="224.02" y="323.97" width="24.72" height="0.76" fill="#bfbfff"/><rect x="51.30" y="324.69" width="24.72" height="0.76" fill="#ff9a9a"/><rect x="75.97" y="324.69" width="24.72" height="0.76" fill="#ffa1a1"/><rect x="100.65" y="324.69" width="24.72" height="0.76" fill="#ffd9d9"/><rect x="125.32" y="324.69" width="24.72" height="0.76" fill="#ffc2c2"/><rect x="150.00" y="324.69" width="24.72" height="0.76" fill="#f9f9ff"/><rect x="174.67" y="324.69" width="24.72" height="0.76" fill="#c7c7ff"/><rect x="199.35" y="324.69" width="24.72" height="0.76" fill="#d8d8ff"/><rect x="224.02" y="324.69" width="24.72" height="0.76" fill="#d3d3ff"/><rect x="51.30" y="325.40" width="24.72" height="0.76" fill="#ff9c9c"/><rect x="75.97" y="325.40" width="24.72" height="0.76" fill="#ffa3a3"/><rect x="100.65" y="325.40" width="24.72" height="0.76" fill="#ffdfdf"/><rect x="125.32" y="325.40" width="24.72" height="0.76" fill="#ffbfbf"/><rect x="150.00" y="325.40" width="24.72" height="0.76" fill="#d7d7ff"/><rect x="174.67" y="325.40" width="24.72" height="0.76" fill="#cbcbff"/><rect x="199.35" y="325.40" width="24.72" height="0.76" fill="#b6b6ff"/><rect x="224.02" y="325.40" width="24.72" height="0.76" fill="#c3c3ff"/><rect x="51.30" y="326.12" width="24.72" height="0.76" fill="#ff9797"/><rect x="75.97" y="326.12" width="24.72" height="0.76" fill="#ff9c9c"/><rect x="100.65" y="326.12" width="24.72" height="0.76" fill="#ffbbbb"/><rect x="125.32" y="326.12" width="24.72" height="0.76" fill="#ffc2c2"/><rect x="150.00" y="326.12" width="24.72" height="0.76" fill="#c3c3ff"/><rect x="174.67" y="326.12" width="24.72" height="0.76" fill="#babaff"/><rect x="199.35" y="326.12" width="24.72" height="0.76" fill="#bbbbff"/><rect x="224.02" y="326.12" width="24.72" height="0.76" fill="#c3c3ff"/><rect x="51.30" y="326.83" width="24.72" height="0.76" fill="#ffcece"/><rect x="75.97" y="326.83" width="24.72" height="0.76" fill="#ff9a9a"/><rect x="100.65" y="326.83" width="24.72" height="0.76" fill="#ffd5d5"/><rect x="125.32" y="326.83" width="24.72" height="0.76" fill="#ffd3d3"/><rect x="150.00" y="326.83" width="24.72" height="0.76" fill="#cacaff"/><rect x="174.67" y="326.83" width="24.72" height="0.76" fill="#cdcdff"/><rect x="199.35" y="326.83" width="24.72" height="0.76" fill="#a1a1ff"/><rect x="224.02" y="326.83" width="24.72" height="0.76" fill="#cdcdff"/><rect x="51.30" y="327.55" width="24.72" height="0.76" fill="#ffadad"/><rect x="75.97" y="327.55" width="24.72" height="0.76" fill="#ffafaf"/><rect x="100.65" y="327.55" width="24.72" height="0.76" fill="#fff2f2"/><rect x="125.32" y="327.55" width="24.72" height="0.76" fill="#ffdada"/><rect x="150.00" y="327.55" width="24.72" height="0.76" fill="#e2e2ff"/><rect x="174.67" y="327.55" width="24.72" height="0.76" fill="#d1d1ff"/><rect x="199.35" y="327.55" width="24.72" height="0.76" fill="#d0d0ff"/><rect x="224.02" y="327.55" width="24.72" height="0.76" fill="#ceceff"/><rect x="51.30" y="328.26" width="24.72" height="0.76" fill="#ffa3a3"/><rect x="75.97" y="328.26" width="24.72" height="0.76" fill="#ff9b9b"/><rect x="100.65" y="328.26" width="24.72" height="0.76" fill="#f9f9ff"/><rect x="125.32" y="328.26" width="24.72" height="0.76" fill="#ffe5e5"/><rect x="150.00" y="328.26" width="24.72" height="0.76" fill="#c6c6ff"/><rect x="174.67" y="328.26" width="24.72" height="0.76" fill="#b4b4ff"/><rect x="199.35" y="328.26" width="24.72" height="0.76" fill="#cacaff"/><rect x="224.02" y="328.26" width="24.72" height="0.76" fill="#d5d5ff"/><rect x="51.30" y="328.98" width="24.72" height="0.76" fill="#ff7474"/><rect x="75.97" y="328.98" width="24.72" height="0.76" fill="#ff7a7a"/><rect x="100.65" y="328.98" width="24.72" height="0.76" fill="#ffe6e6"/><rect x="125.32" y="328.98" width="24.72" height="0.76" fill="#ffcece"/><rect x="150.00" y="328.98" width="24.72" height="0.76" fill="#a6a6ff"/><rect x="174.67" y="328.98" width="24.72" height="0.76" fill="#bebeff"/><rect x="199.35" y="328.98" width="24.72" height="0.76" fill="#dedeff"/><rect x="224.02" y="328.98" width="24.72" height="0.76" fill="#dfdfff"/><rect x="51.30" y="329.69" width="24.72" height="0.76" fill="#ff7777"/><rect x="75.97" y="329.69" width="24.72" height="0.76" fill="#ff8b8b"/><rect x="100.65" y="329.69" width="24.72" height="0.76" fill="#fff1f1"/><rect x="125.32" y="329.69" width="24.72" height="0.76" fill="#ffe9e9"/><rect x="150.00" y="329.69" width="24.72" height="0.76" fill="#ababff"/><rect x="174.67" y="329.69" width="24.72" height="0.76" fill="#bcbcff"/><rect x="199.35" y="329.69" width="24.72" height="0.76" fill="#c4c4ff"/><rect x="224.02" y="329.69" width="24.72" height="0.76" fill="#bcbcff"/><rect x="51.30" y="330.41" width="24.72" height="0.76" fill="#ff9393"/><rect x="75.97" y="330.41" width="24.72" height="0.76" fill="#ffa4a4"/><rect x="100.65" y="330.41" width="24.72" height="0.76" fill="#fff5f5"/><rect x="125.32" y="330.41" width="24.72" height="0.76" fill="#ffdede"/><rect x="150.00" y="330.41" width="24.72" height="0.76" fill="#b8b8ff"/><rect x="174.67" y="330.41" width="24.72" height="0.76" fill="#c0c0ff"/><rect x="199.35" y="330.41" width="24.72" height="0.76" fill="#dadaff"/><rect x="224.02" y="330.41" width="24.72" height="0.76" fill="#d1d1ff"/><rect x="51.30" y="331.12" width="24.72" height="0.76" fill="#ffd2d2"/><rect x="75.97" y="331.12" width="24.72" height="0.76" fill="#ffa2a2"/><rect x="100.65" y="331.12" width="24.72" height="0.76" fill="#ffe5e5"/><rect x="125.32" y="331.12" width="24.72" height="0.76" fill="#ffe8e8"/><rect x="150.00" y="331.12" width="24.72" height="0.76" fill="#c4c4ff"/><rect x="174.67" y="331.12" width="24.72" height="0.76" fill="#b8b8ff"/><rect x="199.35" y="331.12" width="24.72" height="0.76" fill="#c2c2ff"/><rect x="224.02" y="331.12" width="24.72" height="0.76" fill="#c2c2ff"/><rect x="51.30" y="331.83" width="24.72" height="0.76" fill="#ffb1b1"/><rect x="75.97" y="331.83" width="24.72" height="0.76" fill="#ffcbcb"/><rect x="100.65" y="331.83" width="24.72" height="0.76" fill="#fff1f1"/><rect x="125.32" y="331.83" width="24.72" height="0.76" fill="#fff1f1"/><rect x="150.00" y="331.83" width="24.72" height="0.76" fill="#babaff"/><rect x="174.67" y="331.83" width="24.72" height="0.76" fill="#cbcbff"/><rect x="199.35" y="331.83" width="24.72" height="0.76" fill="#e0e0ff"/><rect x="224.02" y="331.83" width="24.72" height="0.76" fill="#d1d1ff"/><rect x="51.30" y="332.55" width="24.72" height="0.76" fill="#ffbcbc"/><rect x="75.97" y="332.55" width="24.72" height="0.76" fill="#fff0f0"/><rect x="100.65" y="332.55" width="24.72" height="0.76" fill="#fff2f2"/><rect x="125.32" y="332.55" width="24.72" height="0.76" fill="#ffefef"/><rect x="150.00" y="332.55" width="24.72" height="0.76" fill="#b7b7ff"/><rect x="174.67" y="332.55" width="24.72" height="0.76" fill="#9b9bff"/><rect x="199.35" y="332.55" width="24.72" height="0.76" fill="#c8c8ff"/><rect x="224.02" y="332.55" width="24.72" height="0.76" fill="#f3f3ff"/><rect x="51.30" y="333.26" width="24.72" height="0.76" fill="#ffe3e3"/><rect x="75.97" y="333.26" width="24.72" height="0.76" fill="#ffc2c2"/><rect x="100.65" y="333.26" width="24.72" height="0.76" fill="#ffeeee"/><rect x="125.32" y="333.26" width="24.72" height="0.76" fill="#fff2f2"/><rect x="150.00" y="333.26" width="24.72" height="0.76" fill="#eaeaff"/><rect x="174.67" y="333.26" width="24.72" height="0.76" fill="#c7c7ff"/><rect x="199.35" y="333.26" width="24.72" height="0.76" fill="#f2f2ff"/><rect x="224.02" y="333.26" width="24.72" height="0.76" fill="#e6e6ff"/><rect x="51.30" y="333.98" width="24.72" height="0.76" fill="#ffaeae"/><rect x="75.97" y="333.98" width="24.72" height="0.76" fill="#ffa4a4"/><rect x="100.65" y="333.98" width="24.72" height="0.76" fill="#ffeaea"/><rect x="125.32" y="333.98" width="24.72" height="0.76" fill="#ffd2d2"/><rect x="150.00" y="333.98" width="24.72" height="0.76" fill="#e3e3ff"/><rect x="174.67" y="333.98" width="24.72" height="0.76" fill="#d8d8ff"/><rect x="199.35" y="333.98" width="24.72" height="0.76" fill="#c8c8ff"/><rect x="224.02" y="333.98" width="24.72" height="0.76" fill="#e9e9ff"/><rect x="51.30" y="334.69" width="24.72" height="0.76" fill="#ffa4a4"/><rect x="75.97" y="334.69" width="24.72" height="0.76" fill="#ffb6b6"/><rect x="100.65" y="334.69" width="24.72" height="0.76" fill="#ffeeee"/><rect x="125.32" y="334.69" width="24.72" height="0.76" fill="#ffd6d6"/><rect x="150.00" y="334.69" width="24.72" height="0.76" fill="#bbbbff"/><rect x="174.67" y="334.69" width="24.72" height="0.76" fill="#ededff"/><rect x="199.35" y="334.69" width="24.72" height="0.76" fill="#b0b0ff"/><rect x="224.02" y="334.69" width="24.72" height="0.76" fill="#ceceff"/><rect x="51.30" y="335.41" width="24.72" height="0.76" fill="#ff9e9e"/><rect x="75.97" y="335.41" width="24.72" height="0.76" fill="#ffa1a1"/><rect x="100.65" y="335.41" width="24.72" height="0.76" fill="#f9f9ff"/><rect x="125.32" y="335.41" width="24.72" height="0.76" fill="#ffe9e9"/><rect x="150.00" y="335.41" width="24.72" height="0.76" fill="#babaff"/><rect x="174.67" y="335.41" width="24.72" height="0.76" fill="#babaff"/><rect x="199.35" y="335.41" width="24.72" height="0.76" fill="#c4c4ff"/><rect x="224.02" y="335.41" width="24.72" height="0.76" fill="#b0b0ff"/><rect x="51.30" y="336.12" width="24.72" height="0.76" fill="#ff9e9e"/><rect x="75.97" y="336.12" width="24.72" height="0.76" fill="#ff8282"/><rect x="100.65" y="336.12" width="24.72" height="0.76" fill="#ffe4e4"/><rect x="125.32" y="336.12" width="24.72" height="0.76" fill="#ffcece"/><rect x="150.00" y="336.12" width="24.72" height="0.76" fill="#c4c4ff"/><rect x="174.67" y="336.12" width="24.72" height="0.76" fill="#ddddff"/><rect x="199.35" y="336.12" width="24.72" height="0.76" fill="#aaaaff"/><rect x="224.02" y="336.12" width="24.72" height="0.76" fill="#b4b4ff"/><rect x="51.30" y="336.84" width="24.72" height="0.76" fill="#ffc1c1"/><rect x="75.97" y="336.84" width="24.72" height="0.76" fill="#ffc7c7"/><rect x="100.65" y="336.84" width="24.72" height="0.76" fill="#ffe4e4"/><rect x="125.32" y="336.84" width="24.72" height="0.76" fill="#ffeeee"/><rect x="150.00" y="336.84" width="24.72" height="0.76" fill="#d1d1ff"/><rect x="174.67" y="336.84" width="24.72" height="0.76" fill="#f5f5ff"/><rect x="199.35" y="336.84" width="24.72" height="0.76" fill="#bbbbff"/><rect x="224.02" y="336.84" width="24.72" height="0.76" fill="#c5c5ff"/><rect x="51.30" y="337.55" width="24.72" height="0.76" fill="#ffb3b3"/><rect x="75.97" y="337.55" width="24.72" height="0.76" fill="#ffb2b2"/><rect x="100.65" y="337.55" width="24.72" height="0.76" fill="#f3f3ff"/><rect x="125.32" y="337.55" width="24.72" height="0.76" fill="#ffe0e0"/><rect x="150.00" y="337.55" width="24.72" height="0.76" fill="#c9c9ff"/><rect x="174.67" y="337.55" width="24.72" height="0.76" fill="#f6f6ff"/><rect x="199.35" y="337.55" width="24.72" height="0.76" fill="#b2b2ff"/><rect x="224.02" y="337.55" width="24.72" height="0.76" fill="#d6d6ff"/><rect x="51.30" y="338.27" width="24.72" height="0.76" fill="#ff7e7e"/><rect x="75.97" y="338.27" width="24.72" height="0.76" fill="#ffb7b7"/><rect x="100.65" y="338.27" width="24.72" height="0.76" fill="#ffe9e9"/><rect x="125.32" y="338.27" width="24.72" height="0.76" fill="#ffdbdb"/><rect x="150.00" y="338.27" width="24.72" height="0.76" fill="#dedeff"/><rect x="174.67" y="338.27" width="24.72" height="0.76" fill="#a9a9ff"/><rect x="199.35" y="338.27" width="24.72" height="0.76" fill="#c5c5ff"/><rect x="224.02" y="338.27" width="24.72" height="0.76" fill="#c9c9ff"/><rect x="51.30" y="338.98" width="24.72" height="0.76" fill="#ffa8a8"/><rect x="75.97" y="338.98" width="24.72" height="0.76" fill="#ffa6a6"/><rect x="100.65" y="338.98" width="24.72" height="0.76" fill="#ffe8e8"/><rect x="125.32" y="338.98" width="24.72" height="0.76" fill="#fff9f9"/><rect x="150.00" y="338.98" width="24.72" height="0.76" fill="#b9b9ff"/><rect x="174.67" y="338.98" width="24.72" height="0.76" fill="#dedeff"/><rect x="199.35" y="338.98" width="24.72" height="0.76" fill="#b7b7ff"/><rect x="224.02" y="338.98" width="24.72" height="0.76" fill="#c8c8ff"/><rect x="51.30" y="339.70" width="24.72" height="0.76" fill="#ffc3c3"/><rect x="75.97" y="339.70" width="24.72" height="0.76" fill="#ffdcdc"/><rect x="100.65" y="339.70" width="24.72" height="0.76" fill="#fff7f7"/><rect x="125.32" y="339.70" width="24.72" height="0.76" fill="#fff6f6"/><rect x="150.00" y="339.70" width="24.72" height="0.76" fill="#ddddff"/><rect x="174.67" y="339.70" width="24.72" height="0.76" fill="#d1d1ff"/><rect x="199.35" y="339.70" width="24.72" height="0.76" fill="#bdbdff"/><rect x="224.02" y="339.70" width="24.72" height="0.76" fill="#c6c6ff"/><rect x="51.30" y="340.41" width="24.72" height="0.76" fill="#ffe7e7"/><rect x="75.97" y="340.41" width="24.72" height="0.76" fill="#ffc7c7"/><rect x="100.65" y="340.41" width="24.72" height="0.76" fill="#fff3f3"/><rect x="125.32" y="340.41" width="24.72" height="0.76" fill="#fff1f1"/><rect x="150.00" y="340.41" width="24.72" height="0.76" fill="#efefff"/><rect x="174.67" y="340.41" width="24.72" height="0.76" fill="#f0f0ff"/><rect x="199.35" y="340.41" width="24.72" height="0.76" fill="#dedeff"/><rect x="224.02" y="340.41" width="24.72" height="0.76" fill="#e1e1ff"/><rect x="51.30" y="341.13" width="24.72" height="0.76" fill="#ffe1e1"/><rect x="75.97" y="341.13" width="24.72" height="0.76" fill="#ffd2d2"/><rect x="100.65" y="341.13" width="24.72" height="0.76" fill="#fcfcff"/><rect x="125.32" y="341.13" width="24.72" height="0.76" fill="#fff4f4"/><rect x="150.00" y="341.13" width="24.72" height="0.76" fill="#e5e5ff"/><rect x="174.67" y="341.13" width="24.72" height="0.76" fill="#e3e3ff"/><rect x="199.35" y="341.13" width="24.72" height="0.76" fill="#c9c9ff"/><rect x="224.02" y="341.13" width="24.72" height="0.76" fill="#f5f5ff"/><rect x="51.30" y="341.84" width="24.72" height="0.76" fill="#ffcfcf"/><rect x="75.97" y="341.84" width="24.72" height="0.76" fill="#ffb9b9"/><rect x="100.65" y="341.84" width="24.72" height="0.76" fill="#ffeaea"/><rect x="125.32" y="341.84" width="24.72" height="0.76" fill="#ffdddd"/><rect x="150.00" y="341.84" width="24.72" height="0.76" fill="#d5d5ff"/><rect x="174.67" y="341.84" width="24.72" height="0.76" fill="#d1d1ff"/><rect x="199.35" y="341.84" width="24.72" height="0.76" fill="#f1f1ff"/><rect x="224.02" y="341.84" width="24.72" height="0.76" fill="#dadaff"/><rect x="51.30" y="342.55" width="24.72" height="0.76" fill="#ffc2c2"/><rect x="75.97" y="342.55" width="24.72" height="0.76" fill="#ffb1b1"/><rect x="100.65" y="342.55" width="24.72" height="0.76" fill="#ffeaea"/><rect x="125.32" y="342.55" width="24.72" height="0.76" fill="#ffb8b8"/><rect x="150.00" y="342.55" width="24.72" height="0.76" fill="#e6e6ff"/><rect x="174.67" y="342.55" width="24.72" height="0.76" fill="#ddddff"/><rect x="199.35" y="342.55" width="24.72" height="0.76" fill="#cacaff"/><rect x="224.02" y="342.55" width="24.72" height="0.76" fill="#e8e8ff"/><rect x="51.30" y="343.27" width="24.72" height="0.76" fill="#ffb7b7"/><rect x="75.97" y="343.27" width="24.72" height="0.76" fill="#ffdcdc"/><rect x="100.65" y="343.27" width="24.72" height="0.76" fill="#ffc9c9"/><rect x="125.32" y="343.27" width="24.72" height="0.76" fill="#ffafaf"/><rect x="150.00" y="343.27" width="24.72" height="0.76" fill="#e2e2ff"/><rect x="174.67" y="343.27" width="24.72" height="0.76" fill="#f2f2ff"/><rect x="199.35" y="343.27" width="24.72" height="0.76" fill="#e0e0ff"/><rect x="224.02" y="343.27" width="24.72" height="0.76" fill="#d3d3ff"/><rect x="51.30" y="343.98" width="24.72" height="0.76" fill="#ffc2c2"/><rect x="75.97" y="343.98" width="24.72" height="0.76" fill="#ffb8b8"/><rect x="100.65" y="343.98" width="24.72" height="0.76" fill="#ffe5e5"/><rect x="125.32" y="343.98" width="24.72" height="0.76" fill="#ffdbdb"/><rect x="150.00" y="343.98" width="24.72" height="0.76" fill="#bcbcff"/><rect x="174.67" y="343.98" width="24.72" height="0.76" fill="#e4e4ff"/><rect x="199.35" y="343.98" width="24.72" height="0.76" fill="#bfbfff"/><rect x="224.02" y="343.98" width="24.72" height="0.76" fill="#cfcfff"/><rect x="51.30" y="344.70" width="24.72" height="0.76" fill="#ffc4c4"/><rect x="75.97" y="344.70" width="24.72" height="0.76" fill="#ffdddd"/><rect x="100.65" y="344.70" width="24.72" height="0.76" fill="#ffe3e3"/><rect x="125.32" y="344.70" width="24.72" height="0.76" fill="#ffd8d8"/><rect x="150.00" y="344.70" width="24.72" height="0.76" fill="#c2c2ff"/><rect x="174.67" y="344.70" width="24.72" height="0.76" fill="#ccccff"/><rect x="199.35" y="344.70" width="24.72" height="0.76" fill="#ceceff"/><rect x="224.02" y="344.70" width="24.72" height="0.76" fill="#e0e0ff"/><rect x="51.30" y="345.41" width="24.72" height="0.76" fill="#ffd4d4"/><rect x="75.97" y="345.41" width="24.72" height="0.76" fill="#ffbaba"/><rect x="100.65" y="345.41" width="24.72" height="0.76" fill="#ffe7e7"/><rect x="125.32" y="345.41" width="24.72" height="0.76" fill="#ffd5d5"/><rect x="150.00" y="345.41" width="24.72" height="0.76" fill="#d8d8ff"/><rect x="174.67" y="345.41" width="24.72" height="0.76" fill="#d1d1ff"/><rect x="199.35" y="345.41" width="24.72" height="0.76" fill="#c5c5ff"/><rect x="224.02" y="345.41" width="24.72" height="0.76" fill="#b4b4ff"/><rect x="51.30" y="346.13" width="24.72" height="0.76" fill="#ffd9d9"/><rect x="75.97" y="346.13" width="24.72" height="0.76" fill="#ffecec"/><rect x="100.65" y="346.13" width="24.72" height="0.76" fill="#ffe4e4"/><rect x="125.32" y="346.13" width="24.72" height="0.76" fill="#ffe6e6"/><rect x="150.00" y="346.13" width="24.72" height="0.76" fill="#dfdfff"/><rect x="174.67" y="346.13" width="24.72" height="0.76" fill="#e9e9ff"/><rect x="199.35" y="346.13" width="24.72" height="0.76" fill="#d7d7ff"/><rect x="224.02" y="346.13" width="24.72" height="0.76" fill="#c5c5ff"/><rect x="51.30" y="346.84" width="24.72" height="0.76" fill="#ffd9d9"/><rect x="75.97" y="346.84" width="24.72" height="0.76" fill="#ffd5d5"/><rect x="100.65" y="346.84" width="24.72" height="0.76" fill="#ffd7d7"/><rect x="125.32" y="346.84" width="24.72" height="0.76" fill="#fff1f1"/><rect x="150.00" y="346.84" width="24.72" height="0.76" fill="#c5c5ff"/><rect x="174.67" y="346.84" width="24.72" height="0.76" fill="#cfcfff"/><rect x="199.35" y="346.84" width="24.72" height="0.76" fill="#c9c9ff"/><rect x="224.02" y="346.84" width="24.72" height="0.76" fill="#bbbbff"/><rect x="51.30" y="347.56" width="24.72" height="0.76" fill="#ffb1b1"/><rect x="75.97" y="347.56" width="24.72" height="0.76" fill="#ffb6b6"/><rect x="100.65" y="347.56" width="24.72" height="0.76" fill="#ffdada"/><rect x="125.32" y="347.56" width="24.72" height="0.76" fill="#fff1f1"/><rect x="150.00" y="347.56" width="24.72" height="0.76" fill="#aaaaff"/><rect x="174.67" y="347.56" width="24.72" height="0.76" fill="#b4b4ff"/><rect x="199.35" y="347.56" width="24.72" height="0.76" fill="#bfbfff"/><rect x="224.02" y="347.56" width="24.72" height="0.76" fill="#dedeff"/><rect x="51.30" y="348.27" width="24.72" height="0.76" fill="#ff8c8c"/><rect x="75.97" y="348.27" width="24.72" height="0.76" fill="#ff7676"/><rect x="100.65" y="348.27" width="24.72" height="0.76" fill="#ffe4e4"/><rect x="125.32" y="348.27" width="24.72" height="0.76" fill="#ffc8c8"/><rect x="150.00" y="348.27" width="24.72" height="0.76" fill="#9f9fff"/><rect x="174.67" y="348.27" width="24.72" height="0.76" fill="#9b9bff"/><rect x="199.35" y="348.27" width="24.72" height="0.76" fill="#b8b8ff"/><rect x="224.02" y="348.27" width="24.72" height="0.76" fill="#c4c4ff"/><rect x="51.30" y="348.99" width="24.72" height="0.76" fill="#ffa5a5"/><rect x="75.97" y="348.99" width="24.72" height="0.76" fill="#ff8383"/><rect x="100.65" y="348.99" width="24.72" height="0.76" fill="#ffdddd"/><rect x="125.32" y="348.99" width="24.72" height="0.76" fill="#ffc4c4"/><rect x="150.00" y="348.99" width="24.72" height="0.76" fill="#aeaeff"/><rect x="174.67" y="348.99" width="24.72" height="0.76" fill="#aaaaff"/><rect x="199.35" y="348.99" width="24.72" height="0.76" fill="#d5d5ff"/><rect x="224.02" y="348.99" width="24.72" height="0.76" fill="#e0e0ff"/><rect x="51.30" y="349.70" width="24.72" height="0.76" fill="#ffa4a4"/><rect x="75.97" y="349.70" width="24.72" height="0.76" fill="#ffbebe"/><rect x="100.65" y="349.70" width="24.72" height="0.76" fill="#fff4f4"/><rect x="125.32" y="349.70" width="24.72" height="0.76" fill="#fffcfc"/><rect x="150.00" y="349.70" width="24.72" height="0.76" fill="#ffffff"/><rect x="174.67" y="349.70" width="24.72" height="0.76" fill="#cbcbff"/><rect x="199.35" y="349.70" width="24.72" height="0.76" fill="#dadaff"/><rect x="224.02" y="349.70" width="24.72" height="0.76" fill="#c6c6ff"/><rect x="51.30" y="350.42" width="24.72" height="0.76" fill="#ffd3d3"/><rect x="75.97" y="350.42" width="24.72" height="0.76" fill="#ffc4c4"/><rect x="100.65" y="350.42" width="24.72" height="0.76" fill="#ffe1e1"/><rect x="125.32" y="350.42" width="24.72" height="0.76" fill="#e9e9ff"/><rect x="150.00" y="350.42" width="24.72" height="0.76" fill="#c6c6ff"/><rect x="174.67" y="350.42" width="24.72" height="0.76" fill="#ccccff"/><rect x="199.35" y="350.42" width="24.72" height="0.76" fill="#ababff"/><rect x="224.02" y="350.42" width="24.72" height="0.76" fill="#c1c1ff"/><rect x="51.30" y="351.13" width="24.72" height="0.76" fill="#ffabab"/><rect x="75.97" y="351.13" width="24.72" height="0.76" fill="#ff8a8a"/><rect x="100.65" y="351.13" width="24.72" height="0.76" fill="#ffd2d2"/><rect x="125.32" y="351.13" width="24.72" height="0.76" fill="#ffe0e0"/><rect x="150.00" y="351.13" width="24.72" height="0.76" fill="#e6e6ff"/><rect x="174.67" y="351.13" width="24.72" height="0.76" fill="#b3b3ff"/><rect x="199.35" y="351.13" width="24.72" height="0.76" fill="#a7a7ff"/><rect x="224.02" y="351.13" width="24.72" height="0.76" fill="#b9b9ff"/><rect x="51.30" y="351.85" width="24.72" height="0.76" fill="#ffa3a3"/><rect x="75.97" y="351.85" width="24.72" height="0.76" fill="#ff8686"/><rect x="100.65" y="351.85" width="24.72" height="0.76" fill="#ffd7d7"/><rect x="125.32" y="351.85" width="24.72" height="0.76" fill="#ffe6e6"/><rect x="150.00" y="351.85" width="24.72" height="0.76" fill="#c2c2ff"/><rect x="174.67" y="351.85" width="24.72" height="0.76" fill="#a1a1ff"/><rect x="199.35" y="351.85" width="24.72" height="0.76" fill="#a6a6ff"/><rect x="224.02" y="351.85" width="24.72" height="0.76" fill="#cacaff"/><rect x="51.30" y="352.56" width="24.72" height="0.76" fill="#ff9292"/><rect x="75.97" y="352.56" width="24.72" height="0.76" fill="#ff9898"/><rect x="100.65" y="352.56" width="24.72" height="0.76" fill="#ffefef"/><rect x="125.32" y="352.56" width="24.72" height="0.76" fill="#ffdada"/><rect x="150.00" y="352.56" width="24.72" height="0.76" fill="#bbbbff"/><rect x="174.67" y="352.56" width="24.72" height="0.76" fill="#c1c1ff"/><rect x="199.35" y="352.56" width="24.72" height="0.76" fill="#d2d2ff"/><rect x="224.02" y="352.56" width="24.72" height="0.76" fill="#a6a6ff"/><rect x="51.30" y="353.27" width="24.72" height="0.76" fill="#ffadad"/><rect x="75.97" y="353.27" width="24.72" height="0.76" fill="#ffa0a0"/><rect x="100.65" y="353.27" width="24.72" height="0.76" fill="#ffe0e0"/><rect x="125.32" y="353.27" width="24.72" height="0.76" fill="#ffd5d5"/><rect x="150.00" y="353.27" width="24.72" height="0.76" fill="#bcbcff"/><rect x="174.67" y="353.27" width="24.72" height="0.76" fill="#a4a4ff"/><rect x="199.35" y="353.27" width="24.72" height="0.76" fill="#ccccff"/><rect x="224.02" y="353.27" width="24.72" height="0.76" fill="#bfbfff"/><rect x="51.30" y="353.99" width="24.72" height="0.76" fill="#ffbaba"/><rect x="75.97" y="353.99" width="24.72" height="0.76" fill="#ffbbbb"/><rect x="100.65" y="353.99" width="24.72" height="0.76" fill="#ffe5e5"/><rect x="125.32" y="353.99" width="24.72" height="0.76" fill="#ffeeee"/><rect x="150.00" y="353.99" width="24.72" height="0.76" fill="#b9b9ff"/><rect x="174.67" y="353.99" width="24.72" height="0.76" fill="#a7a7ff"/><rect x="199.35" y="353.99" width="24.72" height="0.76" fill="#d9d9ff"/><rect x="224.02" y="353.99" width="24.72" height="0.76" fill="#dcdcff"/><rect x="51.30" y="354.70" width="24.72" height="0.76" fill="#ffacac"/><rect x="75.97" y="354.70" width="24.72" height="0.76" fill="#ff9a9a"/><rect x="100.65" y="354.70" width="24.72" height="0.76" fill="#ffffff"/><rect x="125.32" y="354.70" width="24.72" height="0.76" fill="#ffe5e5"/><rect x="150.00" y="354.70" width="24.72" height="0.76" fill="#d7d7ff"/><rect x="174.67" y="354.70" width="24.72" height="0.76" fill="#babaff"/><rect x="199.35" y="354.70" width="24.72" height="0.76" fill="#bdbdff"/><rect x="224.02" y="354.70" width="24.72" height="0.76" fill="#c0c0ff"/><rect x="51.30" y="355.42" width="24.72" height="0.76" fill="#ffd5d5"/><rect x="75.97" y="355.42" width="24.72" height="0.76" fill="#ffc2c2"/><rect x="100.65" y="355.42" width="24.72" height="0.76" fill="#fff3f3"/><rect x="125.32" y="355.42" width="24.72" height="0.76" fill="#ffe5e5"/><rect x="150.00" y="355.42" width="24.72" height="0.76" fill="#d3d3ff"/><rect x="174.67" y="355.42" width="24.72" height="0.76" fill="#ddddff"/><rect x="199.35" y="355.42" width="24.72" height="0.76" fill="#b9b9ff"/><rect x="224.02" y="355.42" width="24.72" height="0.76" fill="#d3d3ff"/><rect x="51.30" y="356.13" width="24.72" height="0.76" fill="#ffd3d3"/><rect x="75.97" y="356.13" width="24.72" height="0.76" fill="#ffafaf"/><rect x="100.65" y="356.13" width="24.72" height="0.76" fill="#ffecec"/><rect x="125.32" y="356.13" width="24.72" height="0.76" fill="#ffe9e9"/><rect x="150.00" y="356.13" width="24.72" height="0.76" fill="#cbcbff"/><rect x="174.67" y="356.13" width="24.72" height="0.76" fill="#dadaff"/><rect x="199.35" y="356.13" width="24.72" height="0.76" fill="#ceceff"/><rect x="224.02" y="356.13" width="24.72" height="0.76" fill="#d1d1ff"/><rect x="51.30" y="356.85" width="24.72" height="0.76" fill="#ffb9b9"/><rect x="75.97" y="356.85" width="24.72" height="0.76" fill="#ff9595"/><rect x="100.65" y="356.85" width="24.72" height="0.76" fill="#ffeded"/><rect x="125.32" y="356.85" width="24.72" height="0.76" fill="#fff9f9"/><rect x="150.00" y="356.85" width="24.72" height="0.76" fill="#c2c2ff"/><rect x="174.67" y="356.85" width="24.72" height="0.76" fill="#b9b9ff"/><rect x="199.35" y="356.85" width="24.72" height="0.76" fill="#ccccff"/><rect x="224.02" y="356.85" width="24.72" height="0.76" fill="#e0e0ff"/><rect x="51.30" y="357.56" width="24.72" height="0.76" fill="#ff9292"/><rect x="75.97" y="357.56" width="24.72" height="0.76" fill="#ffadad"/><rect x="100.65" y="357.56" width="24.72" height="0.76" fill="#fff1f1"/><rect x="125.32" y="357.56" width="24.72" height="0.76" fill="#ffdcdc"/><rect x="150.00" y="357.56" width="24.72" height="0.76" fill="#c5c5ff"/><rect x="174.67" y="357.56" width="24.72" height="0.76" fill="#aeaeff"/><rect x="199.35" y="357.56" width="24.72" height="0.76" fill="#a8a8ff"/><rect x="224.02" y="357.56" width="24.72" height="0.76" fill="#aeaeff"/><rect x="51.30" y="358.28" width="24.72" height="0.76" fill="#ff8787"/><rect x="75.97" y="358.28" width="24.72" height="0.76" fill="#ff9898"/><rect x="100.65" y="358.28" width="24.72" height="0.76" fill="#f7f7ff"/><rect x="125.32" y="358.28" width="24.72" height="0.76" fill="#fff3f3"/><rect x="150.00" y="358.28" width="24.72" height="0.76" fill="#a7a7ff"/><rect x="174.67" y="358.28" width="24.72" height="0.76" fill="#acacff"/><rect x="199.35" y="358.28" width="24.72" height="0.76" fill="#e2e2ff"/><rect x="224.02" y="358.28" width="24.72" height="0.76" fill="#d7d7ff"/><rect x="51.30" y="358.99" width="24.72" height="0.76" fill="#ffafaf"/><rect x="75.97" y="358.99" width="24.72" height="0.76" fill="#ffafaf"/><rect x="100.65" y="358.99" width="24.72" height="0.76" fill="#fffcfc"/><rect x="125.32" y="358.99" width="24.72" height="0.76" fill="#ffdede"/><rect x="150.00" y="358.99" width="24.72" height="0.76" fill="#c1c1ff"/><rect x="174.67" y="358.99" width="24.72" height="0.76" fill="#b4b4ff"/><rect x="199.35" y="358.99" width="24.72" height="0.76" fill="#a5a5ff"/><rect x="224.02" y="358.99" width="24.72" height="0.76" fill="#b8b8ff"/><rect x="51.30" y="359.71" width="24.72" height="0.76" fill="#ffb0b0"/><rect x="75.97" y="359.71" width="24.72" height="0.76" fill="#ffc9c9"/><rect x="100.65" y="359.71" width="24.72" height="0.76" fill="#fffefe"/><rect x="125.32" y="359.71" width="24.72" height="0.76" fill="#fcfcff"/><rect x="150.00" y="359.71" width="24.72" height="0.76" fill="#c0c0ff"/><rect x="174.67" y="359.71" width="24.72" height="0.76" fill="#bdbdff"/><rect x="199.35" y="359.71" width="24.72" height="0.76" fill="#e1e1ff"/><rect x="224.02" y="359.71" width="24.72" height="0.76" fill="#cfcfff"/><rect x="51.30" y="360.42" width="24.72" height="0.76" fill="#ffc7c7"/><rect x="75.97" y="360.42" width="24.72" height="0.76" fill="#ffb7b7"/><rect x="100.65" y="360.42" width="24.72" height="0.76" fill="#ffe0e0"/><rect x="125.32" y="360.42" width="24.72" height="0.76" fill="#ffe2e2"/><rect x="150.00" y="360.42" width="24.72" height="0.76" fill="#dadaff"/><rect x="174.67" y="360.42" width="24.72" height="0.76" fill="#d4d4ff"/><rect x="199.35" y="360.42" width="24.72" height="0.76" fill="#c9c9ff"/><rect x="224.02" y="360.42" width="24.72" height="0.76" fill="#e5e5ff"/><rect x="51.30" y="361.14" width="24.72" height="0.76" fill="#ffd9d9"/><rect x="75.97" y="361.14" width="24.72" height="0.76" fill="#ffd0d0"/><rect x="100.65" y="361.14" width="24.72" height="0.76" fill="#ffdede"/><rect x="125.32" y="361.14" width="24.72" height="0.76" fill="#ffe3e3"/><rect x="150.00" y="361.14" width="24.72" height="0.76" fill="#dedeff"/><rect x="174.67" y="361.14" width="24.72" height="0.76" fill="#c1c1ff"/><rect x="199.35" y="361.14" width="24.72" height="0.76" fill="#c1c1ff"/><rect x="224.02" y="361.14" width="24.72" height="0.76" fill="#fdfdff"/><rect x="51.30" y="361.85" width="24.72" height="0.76" fill="#ffd9d9"/><rect x="75.97" y="361.85" width="24.72" height="0.76" fill="#ffbfbf"/><rect x="100.65" y="361.85" width="24.72" height="0.76" fill="#ffe2e2"/><rect x="125.32" y="361.85" width="24.72" height="0.76" fill="#ffd4d4"/><rect x="150.00" y="361.85" width="24.72" height="0.76" fill="#b1b1ff"/><rect x="174.67" y="361.85" width="24.72" height="0.76" fill="#bdbdff"/><rect x="199.35" y="361.85" width="24.72" height="0.76" fill="#d0d0ff"/><rect x="224.02" y="361.85" width="24.72" height="0.76" fill="#ededff"/><rect x="51.30" y="362.57" width="24.72" height="0.76" fill="#ffe4e4"/><rect x="75.97" y="362.57" width="24.72" height="0.76" fill="#fff4f4"/><rect x="100.65" y="362.57" width="24.72" height="0.76" fill="#fff0f0"/><rect x="125.32" y="362.57" width="24.72" height="0.76" fill="#ffeded"/><rect x="150.00" y="362.57" width="24.72" height="0.76" fill="#dadaff"/><rect x="174.67" y="362.57" width="24.72" height="0.76" fill="#d5d5ff"/><rect x="199.35" y="362.57" width="24.72" height="0.76" fill="#b9b9ff"/><rect x="224.02" y="362.57" width="24.72" height="0.76" fill="#d5d5ff"/><rect x="51.30" y="363.28" width="24.72" height="0.76" fill="#ffc6c6"/><rect x="75.97" y="363.28" width="24.72" height="0.76" fill="#ffcfcf"/><rect x="100.65" y="363.28" width="24.72" height="0.76" fill="#ffefef"/><rect x="125.32" y="363.28" width="24.72" height="0.76" fill="#ffeaea"/><rect x="150.00" y="363.28" width="24.72" height="0.76" fill="#e9e9ff"/><rect x="174.67" y="363.28" width="24.72" height="0.76" fill="#d6d6ff"/><rect x="199.35" y="363.28" width="24.72" height="0.76" fill="#c7c7ff"/><rect x="224.02" y="363.28" width="24.72" height="0.76" fill="#c1c1ff"/><rect x="51.30" y="363.99" width="24.72" height="0.76" fill="#ff9898"/><rect x="75.97" y="363.99" width="24.72" height="0.76" fill="#ff8888"/><rect x="100.65" y="363.99" width="24.72" height="0.76" fill="#ffecec"/><rect x="125.32" y="363.99" width="24.72" height="0.76" fill="#fff9f9"/><rect x="150.00" y="363.99" width="24.72" height="0.76" fill="#cacaff"/><rect x="174.67" y="363.99" width="24.72" height="0.76" fill="#cdcdff"/><rect x="199.35" y="363.99" width="24.72" height="0.76" fill="#bbbbff"/><rect x="224.02" y="363.99" width="24.72" height="0.76" fill="#c1c1ff"/><rect x="51.30" y="364.71" width="24.72" height="0.76" fill="#ffb6b6"/><rect x="75.97" y="364.71" width="24.72" height="0.76" fill="#ff9696"/><rect x="100.65" y="364.71" width="24.72" height="0.76" fill="#ffe0e0"/><rect x="125.32" y="364.71" width="24.72" height="0.76" fill="#ffdede"/><rect x="150.00" y="364.71" width="24.72" height="0.76" fill="#b6b6ff"/><rect x="174.67" y="364.71" width="24.72" height="0.76" fill="#b8b8ff"/><rect x="199.35" y="364.71" width="24.72" height="0.76" fill="#a2a2ff"/><rect x="224.02" y="364.71" width="24.72" height="0.76" fill="#d6d6ff"/><rect x="51.30" y="365.42" width="24.72" height="0.76" fill="#ffc3c3"/><rect x="75.97" y="365.42" width="24.72" height="0.76" fill="#ff9797"/><rect x="100.65" y="365.42" width="24.72" height="0.76" fill="#ffe2e2"/><rect x="125.32" y="365.42" width="24.72" height="0.76" fill="#ffdbdb"/><rect x="150.00" y="365.42" width="24.72" height="0.76" fill="#e3e3ff"/><rect x="174.67" y="365.42" width="24.72" height="0.76" fill="#bebeff"/><rect x="199.35" y="365.42" width="24.72" height="0.76" fill="#d8d8ff"/><rect x="224.02" y="365.42" width="24.72" height="0.76" fill="#bcbcff"/><rect x="51.30" y="366.14" width="24.72" height="0.76" fill="#ffc2c2"/><rect x="75.97" y="366.14" width="24.72" height="0.76" fill="#ffabab"/><rect x="100.65" y="366.14" width="24.72" height="0.76" fill="#fdfdff"/><rect x="125.32" y="366.14" width="24.72" height="0.76" fill="#ffd1d1"/><rect x="150.00" y="366.14" width="24.72" height="0.76" fill="#e0e0ff"/><rect x="174.67" y="366.14" width="24.72" height="0.76" fill="#d2d2ff"/><rect x="199.35" y="366.14" width="24.72" height="0.76" fill="#aeaeff"/><rect x="224.02" y="366.14" width="24.72" height="0.76" fill="#a9a9ff"/><rect x="51.30" y="366.85" width="24.72" height="0.76" fill="#ffb4b4"/><rect x="75.97" y="366.85" width="24.72" height="0.76" fill="#ffaeae"/><rect x="100.65" y="366.85" width="24.72" height="0.76" fill="#ffcccc"/><rect x="125.32" y="366.85" width="24.72" height="0.76" fill="#ffd8d8"/><rect x="150.00" y="366.85" width="24.72" height="0.76" fill="#e1e1ff"/><rect x="174.67" y="366.85" width="24.72" height="0.76" fill="#ebebff"/><rect x="199.35" y="366.85" width="24.72" height="0.76" fill="#ddddff"/><rect x="224.02" y="366.85" width="24.72" height="0.76" fill="#eeeeff"/><rect x="51.30" y="367.57" width="24.72" height="0.76" fill="#ffd2d2"/><rect x="75.97" y="367.57" width="24.72" height="0.76" fill="#ffadad"/><rect x="100.65" y="367.57" width="24.72" height="0.76" fill="#ffe4e4"/><rect x="125.32" y="367.57" width="24.72" height="0.76" fill="#fff4f4"/><rect x="150.00" y="367.57" width="24.72" height="0.76" fill="#babaff"/><rect x="174.67" y="367.57" width="24.72" height="0.76" fill="#c5c5ff"/><rect x="199.35" y="367.57" width="24.72" height="0.76" fill="#d2d2ff"/><rect x="224.02" y="367.57" width="24.72" height="0.76" fill="#e4e4ff"/><rect x="51.30" y="368.28" width="24.72" height="0.76" fill="#ffc6c6"/><rect x="75.97" y="368.28" width="24.72" height="0.76" fill="#ffb3b3"/><rect x="100.65" y="368.28" width="24.72" height="0.76" fill="#fff5f5"/><rect x="125.32" y="368.28" width="24.72" height="0.76" fill="#ffe7e7"/><rect x="150.00" y="368.28" width="24.72" height="0.76" fill="#c4c4ff"/><rect x="174.67" y="368.28" width="24.72" height="0.76" fill="#8e8eff"/><rect x="199.35" y="368.28" width="24.72" height="0.76" fill="#d8d8ff"/><rect x="224.02" y="368.28" width="24.72" height="0.76" fill="#eaeaff"/><rect x="51.30" y="369.00" width="24.72" height="0.76" fill="#ffc4c4"/><rect x="75.97" y="369.00" width="24.72" height="0.76" fill="#ffb8b8"/><rect x="100.65" y="369.00" width="24.72" height="0.76" fill="#fff7f7"/><rect x="125.32" y="369.00" width="24.72" height="0.76" fill="#fff9f9"/><rect x="150.00" y="369.00" width="24.72" height="0.76" fill="#bebeff"/><rect x="174.67" y="369.00" width="24.72" height="0.76" fill="#ccccff"/><rect x="199.35" y="369.00" width="24.72" height="0.76" fill="#cdcdff"/><rect x="224.02" y="369.00" width="24.72" height="0.76" fill="#efefff"/><rect x="51.30" y="369.71" width="24.72" height="0.76" fill="#ffebeb"/><rect x="75.97" y="369.71" width="24.72" height="0.76" fill="#ffe3e3"/><rect x="100.65" y="369.71" width="24.72" height="0.76" fill="#ffe0e0"/><rect x="125.32" y="369.71" width="24.72" height="0.76" fill="#ffe8e8"/><rect x="150.00" y="369.71" width="24.72" height="0.76" fill="#dadaff"/><rect x="174.67" y="369.71" width="24.72" height="0.76" fill="#d1d1ff"/><rect x="199.35" y="369.71" width="24.72" height="0.76" fill="#d8d8ff"/><rect x="224.02" y="369.71" width="24.72" height="0.76" fill="#d0d0ff"/><rect x="51.30" y="370.43" width="24.72" height="0.76" fill="#ffd7d7"/><rect x="75.97" y="370.43" width="24.72" height="0.76" fill="#ffcbcb"/><rect x="100.65" y="370.43" width="24.72" height="0.76" fill="#ffd9d9"/><rect x="125.32" y="370.43" width="24.72" height="0.76" fill="#ffc6c6"/><rect x="150.00" y="370.43" width="24.72" height="0.76" fill="#cfcfff"/><rect x="174.67" y="370.43" width="24.72" height="0.76" fill="#b7b7ff"/><rect x="199.35" y="370.43" width="24.72" height="0.76" fill="#b4b4ff"/><rect x="224.02" y="370.43" width="24.72" height="0.76" fill="#e4e4ff"/><rect x="51.30" y="371.14" width="24.72" height="0.76" fill="#ffc9c9"/><rect x="75.97" y="371.14" width="24.72" height="0.76" fill="#ff9797"/><rect x="100.65" y="371.14" width="24.72" height="0.76" fill="#fff5f5"/><rect x="125.32" y="371.14" width="24.72" height="0.76" fill="#ffc4c4"/><rect x="150.00" y="371.14" width="24.72" height="0.76" fill="#bebeff"/><rect x="174.67" y="371.14" width="24.72" height="0.76" fill="#acacff"/><rect x="199.35" y="371.14" width="24.72" height="0.76" fill="#e4e4ff"/><rect x="224.02" y="371.14" width="24.72" height="0.76" fill="#dbdbff"/><rect x="51.30" y="371.86" width="24.72" height="0.76" fill="#ff8484"/><rect x="75.97" y="371.86" width="24.72" height="0.76" fill="#ff9b9b"/><rect x="100.65" y="371.86" width="24.72" height="0.76" fill="#ffe2e2"/><rect x="125.32" y="371.86" width="24.72" height="0.76" fill="#ffd5d5"/><rect x="150.00" y="371.86" width="24.72" height="0.76" fill="#a8a8ff"/><rect x="174.67" y="371.86" width="24.72" height="0.76" fill="#7a7aff"/><rect x="199.35" y="371.86" width="24.72" height="0.76" fill="#d8d8ff"/><rect x="224.02" y="371.86" width="24.72" height="0.76" fill="#d7d7ff"/><rect x="51.30" y="372.57" width="24.72" height="0.76" fill="#ff7070"/><rect x="75.97" y="372.57" width="24.72" height="0.76" fill="#ff8e8e"/><rect x="100.65" y="372.57" width="24.72" height="0.76" fill="#ffefef"/><rect x="125.32" y="372.57" width="24.72" height="0.76" fill="#ffdede"/><rect x="150.00" y="372.57" width="24.72" height="0.76" fill="#b7b7ff"/><rect x="174.67" y="372.57" width="24.72" height="0.76" fill="#a1a1ff"/><rect x="199.35" y="372.57" width="24.72" height="0.76" fill="#c6c6ff"/><rect x="224.02" y="372.57" width="24.72" height="0.76" fill="#f8f8ff"/><rect x="51.30" y="373.29" width="24.72" height="0.76" fill="#ffb1b1"/><rect x="75.97" y="373.29" width="24.72" height="0.76" fill="#ff9d9d"/><rect x="100.65" y="373.29" width="24.72" height="0.76" fill="#fff0f0"/><rect x="125.32" y="373.29" width="24.72" height="0.76" fill="#ffe1e1"/><rect x="150.00" y="373.29" width="24.72" height="0.76" fill="#cfcfff"/><rect x="174.67" y="373.29" width="24.72" height="0.76" fill="#dcdcff"/><rect x="199.35" y="373.29" width="24.72" height="0.76" fill="#e4e4ff"/><rect x="224.02" y="373.29" width="24.72" height="0.76" fill="#d6d6ff"/></g>
<path d="M27.0 267.10H51.3M24.4 267.56H51.3M24.2 268.03H51.3M27.7 268.49H51.3M24.5 268.95H51.3M25.1 269.42H51.3M24.7 269.88H51.3M25.7 270.34H51.3M27.4 270.81H51.3M24.2 271.27H51.3M24.2 271.73H51.3M27.4 272.20H51.3M24.2 272.66H51.3M24.2 273.13H51.3M25.6 273.59H51.3M24.2 274.05H51.3M24.2 274.52H51.3M28.4 274.98H51.3M26.3 275.44H51.3M24.2 275.91H51.3M24.2 276.37H51.3M24.2 276.83H51.3M24.2 277.30H51.3M24.7 277.76H51.3M27.1 278.22H51.3M27.2 278.69H51.3M25.8 279.15H51.3M25.3 279.61H51.3M31.4 280.08H51.3M26.4 280.54H51.3M31.4 281.00H51.3M28.6 281.47H51.3M24.2 281.93H51.3M28.6 282.39H51.3M24.2 282.86H51.3M24.7 283.32H51.3M26.3 283.79H51.3M24.2 284.25H51.3M33.5 284.71H51.3M29.9 285.18H51.3M30.7 285.64H51.3M24.2 286.10H51.3M25.4 286.57H51.3M27.4 287.03H51.3M30.6 287.49H51.3M35.3 287.96H51.3M32.0 288.42H51.3M30.4 288.88H51.3M27.8 289.35H51.3M31.0 289.81H51.3M27.4 290.27H51.3M36.4 290.74H51.3M29.6 291.20H51.3M35.5 291.66H51.3M24.2 292.13H51.3M30.4 292.59H51.3M31.9 293.05H51.3M30.6 293.52H51.3M30.6 293.98H51.3M28.8 294.45H51.3M30.5 294.91H51.3M28.7 295.37H51.3M33.1 295.84H51.3M36.6 296.30H51.3M28.5 296.76H51.3M28.6 297.23H51.3M24.2 297.69H51.3M31.0 298.15H51.3M24.2 298.62H51.3M24.9 299.08H51.3M29.6 299.54H51.3M26.2 300.01H51.3M35.3 300.47H51.3M30.6 300.93H51.3M24.2 301.40H51.3M24.2 301.86H51.3M32.6 302.32H51.3M33.5 302.79H51.3M32.4 303.25H51.3M34.6 303.71H51.3M33.4 304.18H51.3M32.8 304.64H51.3M29.0 305.11H51.3M36.7 305.57H51.3M37.2 306.03H51.3M32.9 306.50H51.3M32.4 306.96H51.3M31.3 307.42H51.3M32.4 307.89H51.3M30.8 308.35H51.3M33.2 308.81H51.3M29.6 309.28H51.3M36.5 309.74H51.3M31.9 310.20H51.3M27.7 310.67H51.3M38.7 311.13H51.3M38.5 311.59H51.3M38.6 312.06H51.3M30.6 312.52H51.3M28.2 312.98H51.3M29.3 313.45H51.3M34.5 313.91H51.3M24.2 314.37H51.3M33.6 314.84H51.3M39.0 315.30H51.3M34.1 315.77H51.3M37.8 316.23H51.3M30.0 316.69H51.3M26.2 317.16H51.3M34.1 317.62H51.3M24.2 318.08H51.3M36.6 318.55H51.3M32.5 319.01H51.3M27.3 319.47H51.3M30.3 319.94H51.3M32.7 320.40H51.3M31.8 320.86H51.3M24.2 321.33H51.3M34.1 321.79H51.3M31.7 322.25H51.3M32.9 322.72H51.3M29.7 323.18H51.3M31.4 323.64H51.3M24.6 324.11H51.3M33.8 324.57H51.3M33.2 325.03H51.3M29.6 325.50H51.3M31.4 325.96H51.3M31.7 326.43H51.3M35.4 326.89H51.3M24.9 327.35H51.3M34.9 327.82H51.3M40.2 328.28H51.3M35.9 328.74H51.3M39.5 329.21H51.3M31.8 329.67H51.3M35.5 330.13H51.3M32.5 330.60H51.3M31.5 331.06H51.3M34.6 331.52H51.3M36.5 331.99H51.3M37.3 332.45H51.3M30.5 332.91H51.3M40.6 333.38H51.3M28.9 333.84H51.3M33.2 334.30H51.3M37.8 334.77H51.3M33.7 335.23H51.3M40.1 335.69H51.3M39.0 336.16H51.3M36.9 336.62H51.3M28.9 337.09H51.3M36.8 337.55H51.3M37.3 338.01H51.3M36.9 338.48H51.3M35.3 338.94H51.3M35.1 339.40H51.3M39.8 339.87H51.3M38.0 340.33H51.3M37.5 340.79H51.3M33.5 341.26H51.3M39.9 341.72H51.3M36.7 342.18H51.3M37.0 342.65H51.3M41.9 343.11H51.3M35.3 343.57H51.3M40.0 344.04H51.3M30.4 344.50H51.3M38.4 344.96H51.3M39.9 345.43H51.3M37.9 345.89H51.3M34.4 346.35H51.3M38.4 346.82H51.3M33.7 347.28H51.3M35.4 347.75H51.3M38.1 348.21H51.3M37.6 348.67H51.3M37.9 349.14H51.3M37.4 349.60H51.3M36.0 350.06H51.3M37.6 350.53H51.3M41.3 350.99H51.3M36.7 351.45H51.3M37.9 351.92H51.3M40.1 352.38H51.3M42.6 352.84H51.3M39.9 353.31H51.3M34.1 353.77H51.3M38.8 354.23H51.3M40.4 354.70H51.3M39.0 355.16H51.3M40.7 355.62H51.3M36.1 356.09H51.3M37.2 356.55H51.3M35.5 357.01H51.3M38.3 357.48H51.3M37.8 357.94H51.3M37.3 358.41H51.3M38.1 358.87H51.3M37.9 359.33H51.3M37.0 359.80H51.3M41.1 360.26H51.3M39.7 360.72H51.3M40.9 361.19H51.3M43.2 361.65H51.3M37.5 362.11H51.3M38.3 362.58H51.3M37.9 363.04H51.3M38.0 363.50H51.3M38.2 363.97H51.3M38.7 364.43H51.3M39.3 364.89H51.3M43.2 365.36H51.3M43.7 365.82H51.3M39.0 366.28H51.3M43.2 366.75H51.3M40.7 367.21H51.3M41.2 367.67H51.3M39.7 368.14H51.3M39.9 368.60H51.3M40.0 369.07H51.3M40.2 369.53H51.3M42.6 369.99H51.3M40.5 370.46H51.3M40.7 370.92H51.3M41.2 371.38H51.3M41.0 371.85H51.3M43.9 372.31H51.3M41.4 372.77H51.3M40.2 373.24H51.3" stroke="#000" stroke-width="0.7" fill="none"/>
<path d="M40.5 266.8H51.3V374H40.5Z" fill="#000"/>
<path d="M23.8 267V369" stroke="#999" stroke-width="0.5"/>
<line x1="21.5" y1="267" x2="51.3" y2="267" stroke="#000" stroke-width="0.9"/>
<path d="M13 371.3L51.3 367.5V373.5L13 372.4Z" fill="#000"/>
<rect x="259.1" y="287.6" width="2.7" height="56.4" fill="url(#zc)"/>
<line x1="261.8" y1="295.4" x2="263.2" y2="295.4" stroke="#444" stroke-width="0.6"/>
<text x="264.30" y="298.00" font-size="7.3" font-weight="bold" text-anchor="start" fill="#000" >3.0</text>
<line x1="261.8" y1="307.2" x2="263.2" y2="307.2" stroke="#444" stroke-width="0.6"/>
<text x="264.30" y="309.80" font-size="7.3" font-weight="bold" text-anchor="start" fill="#000" >1.5</text>
<line x1="261.8" y1="319.0" x2="263.2" y2="319.0" stroke="#444" stroke-width="0.6"/>
<text x="264.30" y="321.60" font-size="7.3" font-weight="bold" text-anchor="start" fill="#000" >0</text>
<line x1="261.8" y1="330.8" x2="263.2" y2="330.8" stroke="#444" stroke-width="0.6"/>
<text x="264.30" y="333.40" font-size="7.3" font-weight="bold" text-anchor="start" fill="#000" >−1.5</text>
<line x1="261.8" y1="342.6" x2="263.2" y2="342.6" stroke="#444" stroke-width="0.6"/>
<text x="264.30" y="345.20" font-size="7.3" font-weight="bold" text-anchor="start" fill="#000" >−3.0</text>
<text x="0.00" y="0.00" font-size="8.4" font-weight="bold" text-anchor="middle" fill="#000" transform="translate(257,312.8) rotate(-90)">Z_ScoreExpression</text>
<rect x="142.9" y="388.60" width="29.00" height="4.6" fill="#6aa843"/>
<line x1="141.3" y1="390.90" x2="142.9" y2="390.90" stroke="#333" stroke-width="0.5"/>
<text x="141.20" y="392.86" font-size="5.44" font-weight="bold" text-anchor="end" fill="#000" >signal transduction</text>
<rect x="142.9" y="396.78" width="29.00" height="4.6" fill="#6aa843"/>
<line x1="141.3" y1="399.08" x2="142.9" y2="399.08" stroke="#333" stroke-width="0.5"/>
<text x="141.20" y="401.08" font-size="5.54" font-weight="bold" text-anchor="end" fill="#000" >mitotic sister chromatid segregation</text>
<rect x="142.9" y="404.96" width="31.60" height="4.6" fill="#6aa843"/>
<line x1="141.3" y1="407.26" x2="142.9" y2="407.26" stroke="#333" stroke-width="0.5"/>
<text x="141.20" y="409.26" font-size="5.56" font-weight="bold" text-anchor="end" fill="#000" >flavonoid biosynthetic process</text>
<rect x="142.9" y="413.14" width="32.60" height="4.6" fill="#6aa843"/>
<line x1="141.3" y1="415.44" x2="142.9" y2="415.44" stroke="#333" stroke-width="0.5"/>
<text x="141.20" y="417.42" font-size="5.5" font-weight="bold" text-anchor="end" fill="#000" >stamen development</text>
<rect x="142.9" y="421.32" width="33.30" height="4.6" fill="#6aa843"/>
<line x1="141.3" y1="423.62" x2="142.9" y2="423.62" stroke="#333" stroke-width="0.5"/>
<text x="141.20" y="425.61" font-size="5.53" font-weight="bold" text-anchor="end" fill="#000" >defense response</text>
<rect x="142.9" y="429.50" width="39.40" height="4.6" fill="#6aa843"/>
<line x1="141.3" y1="431.80" x2="142.9" y2="431.80" stroke="#333" stroke-width="0.5"/>
<text x="141.20" y="433.80" font-size="5.56" font-weight="bold" text-anchor="end" fill="#000" >meiotic chromosome segregation</text>
<rect x="142.9" y="437.68" width="41.00" height="4.6" fill="#6aa843"/>
<line x1="141.3" y1="439.98" x2="142.9" y2="439.98" stroke="#333" stroke-width="0.5"/>
<text x="141.20" y="441.98" font-size="5.57" font-weight="bold" text-anchor="end" fill="#000" >meiotic sister chromatid cohesion</text>
<rect x="142.9" y="445.86" width="46.60" height="4.6" fill="#6aa843"/>
<line x1="141.3" y1="448.16" x2="142.9" y2="448.16" stroke="#333" stroke-width="0.5"/>
<text x="141.20" y="450.34" font-size="6.04" font-weight="bold" text-anchor="end" fill="#000" >negative regulation of protein sumoylation</text>
<rect x="142.9" y="454.04" width="50.90" height="4.6" fill="#6aa843"/>
<line x1="141.3" y1="456.34" x2="142.9" y2="456.34" stroke="#333" stroke-width="0.5"/>
<text x="141.20" y="458.33" font-size="5.53" font-weight="bold" text-anchor="end" fill="#000" >regulation of cohesin loading</text>
<rect x="142.9" y="462.22" width="51.10" height="4.6" fill="#6aa843"/>
<line x1="141.3" y1="464.52" x2="142.9" y2="464.52" stroke="#333" stroke-width="0.5"/>
<text x="141.20" y="466.68" font-size="6.01" font-weight="bold" text-anchor="end" fill="#000" >meiotic sister chromatid cohesion in meiosis</text>
<rect x="142.9" y="470.40" width="13.50" height="4.6" fill="#ed7d31"/>
<line x1="141.3" y1="472.70" x2="142.9" y2="472.70" stroke="#333" stroke-width="0.5"/>
<text x="141.20" y="474.86" font-size="6.01" font-weight="bold" text-anchor="end" fill="#000" >membrane</text>
<rect x="142.9" y="478.58" width="14.80" height="4.6" fill="#ed7d31"/>
<line x1="141.3" y1="480.88" x2="142.9" y2="480.88" stroke="#333" stroke-width="0.5"/>
<text x="141.20" y="482.91" font-size="5.63" font-weight="bold" text-anchor="end" fill="#000" >uniplex complex</text>
<rect x="142.9" y="486.76" width="16.50" height="4.6" fill="#ed7d31"/>
<line x1="141.3" y1="489.06" x2="142.9" y2="489.06" stroke="#333" stroke-width="0.5"/>
<text x="141.20" y="491.09" font-size="5.65" font-weight="bold" text-anchor="end" fill="#000" >nuclear membrane</text>
<rect x="142.9" y="494.94" width="16.50" height="4.6" fill="#ed7d31"/>
<line x1="141.3" y1="497.24" x2="142.9" y2="497.24" stroke="#333" stroke-width="0.5"/>
<text x="141.20" y="499.23" font-size="5.53" font-weight="bold" text-anchor="end" fill="#000" >extracellular region</text>
<rect x="142.9" y="503.12" width="16.80" height="4.6" fill="#ed7d31"/>
<line x1="141.3" y1="505.42" x2="142.9" y2="505.42" stroke="#333" stroke-width="0.5"/>
<text x="141.20" y="507.45" font-size="5.63" font-weight="bold" text-anchor="end" fill="#000" >nuclear pore</text>
<rect x="142.9" y="511.30" width="17.00" height="4.6" fill="#ed7d31"/>
<line x1="141.3" y1="513.60" x2="142.9" y2="513.60" stroke="#333" stroke-width="0.5"/>
<text x="141.20" y="515.61" font-size="5.59" font-weight="bold" text-anchor="end" fill="#000" >1,3−beta−D−glucan synthase complex</text>
<rect x="142.9" y="519.48" width="18.80" height="4.6" fill="#ed7d31"/>
<line x1="141.3" y1="521.78" x2="142.9" y2="521.78" stroke="#333" stroke-width="0.5"/>
<text x="141.20" y="523.76" font-size="5.51" font-weight="bold" text-anchor="end" fill="#000" >pollen coat</text>
<rect x="142.9" y="527.66" width="19.30" height="4.6" fill="#ed7d31"/>
<line x1="141.3" y1="529.96" x2="142.9" y2="529.96" stroke="#333" stroke-width="0.5"/>
<text x="141.20" y="531.95" font-size="5.54" font-weight="bold" text-anchor="end" fill="#000" >nuclear envelope lumen</text>
<rect x="142.9" y="535.84" width="20.10" height="4.6" fill="#ed7d31"/>
<line x1="141.3" y1="538.14" x2="142.9" y2="538.14" stroke="#333" stroke-width="0.5"/>
<text x="141.20" y="540.18" font-size="5.67" font-weight="bold" text-anchor="end" fill="#000" >apoplast</text>
<rect x="142.9" y="544.02" width="32.30" height="4.6" fill="#ed7d31"/>
<line x1="141.3" y1="546.32" x2="142.9" y2="546.32" stroke="#333" stroke-width="0.5"/>
<text x="141.20" y="548.35" font-size="5.63" font-weight="bold" text-anchor="end" fill="#000" >plasma membrane</text>
<rect x="142.9" y="552.20" width="23.20" height="4.6" fill="#5b9bd5"/>
<line x1="141.3" y1="554.50" x2="142.9" y2="554.50" stroke="#333" stroke-width="0.5"/>
<text x="141.20" y="556.50" font-size="5.54" font-weight="bold" text-anchor="end" fill="#000" >enzyme inhibitor activity</text>
<rect x="142.9" y="560.38" width="24.90" height="4.6" fill="#5b9bd5"/>
<line x1="141.3" y1="562.68" x2="142.9" y2="562.68" stroke="#333" stroke-width="0.5"/>
<text x="141.20" y="564.66" font-size="5.49" font-weight="bold" text-anchor="end" fill="#000" >alcohol O−acyltransferase activity</text>
<rect x="142.9" y="568.56" width="25.20" height="4.6" fill="#5b9bd5"/>
<line x1="141.3" y1="570.86" x2="142.9" y2="570.86" stroke="#333" stroke-width="0.5"/>
<text x="141.20" y="572.84" font-size="5.5" font-weight="bold" text-anchor="end" fill="#000" >adenylate cyclase activity</text>
<rect x="142.9" y="576.74" width="25.70" height="4.6" fill="#5b9bd5"/>
<line x1="141.3" y1="579.04" x2="142.9" y2="579.04" stroke="#333" stroke-width="0.5"/>
<text x="141.20" y="581.03" font-size="5.54" font-weight="bold" text-anchor="end" fill="#000" >UDP−glycosyltransferase activity</text>
<rect x="142.9" y="584.92" width="26.00" height="4.6" fill="#5b9bd5"/>
<line x1="141.3" y1="587.22" x2="142.9" y2="587.22" stroke="#333" stroke-width="0.5"/>
<text x="141.20" y="589.21" font-size="5.54" font-weight="bold" text-anchor="end" fill="#000" >structural constituent of nuclear pore</text>
<rect x="142.9" y="593.10" width="35.10" height="4.6" fill="#5b9bd5"/>
<line x1="141.3" y1="595.40" x2="142.9" y2="595.40" stroke="#333" stroke-width="0.5"/>
<text x="141.20" y="597.58" font-size="6.05" font-weight="bold" text-anchor="end" fill="#000" >oxidoreductase activity, acting on paired donors</text>
<rect x="142.9" y="601.28" width="36.10" height="4.6" fill="#5b9bd5"/>
<line x1="141.3" y1="603.58" x2="142.9" y2="603.58" stroke="#333" stroke-width="0.5"/>
<text x="141.20" y="605.59" font-size="5.57" font-weight="bold" text-anchor="end" fill="#000" >heme binding</text>
<rect x="142.9" y="609.46" width="50.90" height="4.6" fill="#5b9bd5"/>
<line x1="141.3" y1="611.76" x2="142.9" y2="611.76" stroke="#333" stroke-width="0.5"/>
<text x="141.20" y="613.93" font-size="6.02" font-weight="bold" text-anchor="end" fill="#000" >NAD+ nucleotidase, cyclic ADP−ribose</text>
<rect x="142.9" y="617.64" width="50.90" height="4.6" fill="#5b9bd5"/>
<line x1="141.3" y1="619.94" x2="142.9" y2="619.94" stroke="#333" stroke-width="0.5"/>
<text x="141.20" y="621.94" font-size="5.55" font-weight="bold" text-anchor="end" fill="#000" >NAD(P)+ nucleosidase activity</text>
<rect x="142.9" y="625.82" width="93.10" height="4.6" fill="#5b9bd5"/>
<line x1="141.3" y1="628.12" x2="142.9" y2="628.12" stroke="#333" stroke-width="0.5"/>
<text x="141.20" y="630.14" font-size="5.6" font-weight="bold" text-anchor="end" fill="#000" >ADP binding</text>
<rect x="142.9" y="388.4" width="102.3" height="79.2" fill="none" stroke="#444" stroke-width="0.6"/>
<rect x="245.7" y="388.4" width="7.8" height="79.2" fill="#6aa843"/>
<text x="0.00" y="0.00" font-size="5.6" font-weight="normal" text-anchor="middle" fill="#1a1a1a" transform="translate(247.8,428.0) rotate(90)">Biological Process</text>
<rect x="142.9" y="469.4" width="102.3" height="79.3" fill="none" stroke="#444" stroke-width="0.6"/>
<rect x="245.7" y="469.4" width="7.8" height="79.3" fill="#ed7d31"/>
<text x="0.00" y="0.00" font-size="5.5" font-weight="normal" text-anchor="middle" fill="#1a1a1a" transform="translate(247.8,509.1) rotate(90)">Cellular Component</text>
<rect x="142.9" y="551.1" width="102.3" height="80.4" fill="none" stroke="#444" stroke-width="0.6"/>
<rect x="245.7" y="551.1" width="7.8" height="80.4" fill="#5b9bd5"/>
<text x="0.00" y="0.00" font-size="5.25" font-weight="normal" text-anchor="middle" fill="#1a1a1a" transform="translate(247.8,591.3) rotate(90)">Molecular Function</text>
<line x1="142.90" y1="631.5" x2="142.90" y2="633" stroke="#333" stroke-width="0.5"/>
<text x="142.90" y="637.20" font-size="6.0" font-weight="bold" text-anchor="middle" fill="#222" >0</text>
<line x1="166.35" y1="631.5" x2="166.35" y2="633" stroke="#333" stroke-width="0.5"/>
<text x="166.35" y="637.20" font-size="6.0" font-weight="bold" text-anchor="middle" fill="#222" >5</text>
<line x1="189.80" y1="631.5" x2="189.80" y2="633" stroke="#333" stroke-width="0.5"/>
<text x="189.80" y="637.20" font-size="6.0" font-weight="bold" text-anchor="middle" fill="#222" >10</text>
<line x1="213.25" y1="631.5" x2="213.25" y2="633" stroke="#333" stroke-width="0.5"/>
<text x="213.25" y="637.20" font-size="6.0" font-weight="bold" text-anchor="middle" fill="#222" >15</text>
<line x1="236.70" y1="631.5" x2="236.70" y2="633" stroke="#333" stroke-width="0.5"/>
<text x="236.70" y="637.20" font-size="6.0" font-weight="bold" text-anchor="middle" fill="#222" >20</text>
<text x="199.5" y="643.8" font-size="6.3" font-weight="bold" text-anchor="middle" fill="#222">−log<tspan font-size="4.2" dy="1.5">10</tspan><tspan dy="-1.5"> p−value</tspan></text>
<rect x="55.4" y="403.6" width="87.1" height="8.4" fill="none" stroke="#e03030" stroke-width="0.8"/>
<rect x="50.9" y="573.6" width="91.6" height="8.7" fill="none" stroke="#e03030" stroke-width="0.8"/>
<g stroke="#858585" stroke-width="0.7"><line x1="401.5" y1="423.2" x2="346.3" y2="435.5"/><line x1="401.5" y1="423.2" x2="455.2" y2="443.2"/><line x1="401.5" y1="423.2" x2="297.9" y2="520.3"/><line x1="401.5" y1="423.2" x2="496.1" y2="540.9"/><line x1="401.5" y1="423.2" x2="483.5" y2="573.2"/><line x1="401.5" y1="423.2" x2="447.7" y2="605.7"/><line x1="346.3" y1="435.5" x2="471.8" y2="470"/><line x1="346.3" y1="435.5" x2="487.2" y2="497.1"/><line x1="346.3" y1="435.5" x2="318.7" y2="468.5"/><line x1="346.3" y1="435.5" x2="303.7" y2="495.2"/><line x1="346.3" y1="435.5" x2="427.3" y2="500"/><line x1="346.3" y1="435.5" x2="368.8" y2="523.1"/><line x1="346.3" y1="435.5" x2="314.2" y2="554.7"/><line x1="346.3" y1="435.5" x2="496.1" y2="540.9"/><line x1="346.3" y1="435.5" x2="337.3" y2="590.4"/><line x1="346.3" y1="435.5" x2="447.7" y2="605.7"/><line x1="455.2" y1="443.2" x2="318.7" y2="468.5"/><line x1="455.2" y1="443.2" x2="297.9" y2="520.3"/><line x1="455.2" y1="443.2" x2="368.8" y2="523.1"/><line x1="455.2" y1="443.2" x2="314.2" y2="554.7"/><line x1="455.2" y1="443.2" x2="496.1" y2="540.9"/><line x1="455.2" y1="443.2" x2="337.3" y2="590.4"/><line x1="455.2" y1="443.2" x2="386" y2="611.7"/><line x1="471.8" y1="470" x2="487.2" y2="497.1"/><line x1="471.8" y1="470" x2="427.3" y2="500"/><line x1="471.8" y1="470" x2="314.2" y2="554.7"/><line x1="471.8" y1="470" x2="496.1" y2="540.9"/><line x1="471.8" y1="470" x2="483.5" y2="573.2"/><line x1="471.8" y1="470" x2="337.3" y2="590.4"/><line x1="471.8" y1="470" x2="447.7" y2="605.7"/><line x1="487.2" y1="497.1" x2="318.7" y2="468.5"/><line x1="487.2" y1="497.1" x2="337.3" y2="590.4"/><line x1="487.2" y1="497.1" x2="447.7" y2="605.7"/><line x1="487.2" y1="497.1" x2="386" y2="611.7"/><line x1="318.7" y1="468.5" x2="375.4" y2="490.9"/><line x1="318.7" y1="468.5" x2="483.5" y2="573.2"/><line x1="318.7" y1="468.5" x2="386" y2="611.7"/><line x1="303.7" y1="495.2" x2="427.3" y2="500"/><line x1="303.7" y1="495.2" x2="297.9" y2="520.3"/><line x1="303.7" y1="495.2" x2="368.8" y2="523.1"/><line x1="303.7" y1="495.2" x2="314.2" y2="554.7"/><line x1="303.7" y1="495.2" x2="496.1" y2="540.9"/><line x1="303.7" y1="495.2" x2="337.3" y2="590.4"/><line x1="303.7" y1="495.2" x2="447.7" y2="605.7"/><line x1="375.4" y1="490.9" x2="427.3" y2="500"/><line x1="375.4" y1="490.9" x2="368.8" y2="523.1"/><line x1="375.4" y1="490.9" x2="496.1" y2="540.9"/><line x1="375.4" y1="490.9" x2="483.5" y2="573.2"/><line x1="375.4" y1="490.9" x2="447.7" y2="605.7"/><line x1="375.4" y1="490.9" x2="386" y2="611.7"/><line x1="427.3" y1="500" x2="297.9" y2="520.3"/><line x1="427.3" y1="500" x2="368.8" y2="523.1"/><line x1="427.3" y1="500" x2="314.2" y2="554.7"/><line x1="427.3" y1="500" x2="483.5" y2="573.2"/><line x1="427.3" y1="500" x2="447.7" y2="605.7"/><line x1="427.3" y1="500" x2="386" y2="611.7"/><line x1="297.9" y1="520.3" x2="337.3" y2="590.4"/><line x1="297.9" y1="520.3" x2="447.7" y2="605.7"/><line x1="297.9" y1="520.3" x2="386" y2="611.7"/><line x1="368.8" y1="523.1" x2="496.1" y2="540.9"/><line x1="368.8" y1="523.1" x2="483.5" y2="573.2"/><line x1="368.8" y1="523.1" x2="447.7" y2="605.7"/><line x1="368.8" y1="523.1" x2="386" y2="611.7"/><line x1="314.2" y1="554.7" x2="496.1" y2="540.9"/><line x1="314.2" y1="554.7" x2="447.7" y2="605.7"/><line x1="314.2" y1="554.7" x2="386" y2="611.7"/><line x1="496.1" y1="540.9" x2="483.5" y2="573.2"/><line x1="496.1" y1="540.9" x2="337.3" y2="590.4"/><line x1="496.1" y1="540.9" x2="447.7" y2="605.7"/><line x1="496.1" y1="540.9" x2="386" y2="611.7"/><line x1="483.5" y1="573.2" x2="337.3" y2="590.4"/><line x1="483.5" y1="573.2" x2="447.7" y2="605.7"/><line x1="483.5" y1="573.2" x2="386" y2="611.7"/></g>
<rect x="384.9" y="415.7" width="33.2" height="15" rx="1.6" fill="#2fd90f"/>
<rect x="329.7" y="428.0" width="33.2" height="15" rx="1.6" fill="#1ff0f0"/>
<rect x="438.6" y="435.7" width="33.2" height="15" rx="1.6" fill="#1ff0f0"/>
<rect x="455.2" y="462.5" width="33.2" height="15" rx="1.6" fill="#88c8f0"/>
<rect x="470.6" y="489.6" width="33.2" height="15" rx="1.6" fill="#2fd90f"/>
<rect x="302.1" y="461.0" width="33.2" height="15" rx="1.6" fill="#2fd90f"/>
<rect x="287.1" y="487.7" width="33.2" height="15" rx="1.6" fill="#88c8f0"/>
<rect x="358.8" y="483.4" width="33.2" height="15" rx="1.6" fill="#ffcc00"/>
<rect x="410.7" y="492.5" width="33.2" height="15" rx="1.6" fill="#1ff0f0"/>
<rect x="281.3" y="512.8" width="33.2" height="15" rx="1.6" fill="#1ff0f0"/>
<rect x="352.2" y="515.6" width="33.2" height="15" rx="1.6" fill="#ffcc00"/>
<rect x="297.6" y="547.2" width="33.2" height="15" rx="1.6" fill="#2fd90f"/>
<rect x="479.5" y="533.4" width="33.2" height="15" rx="1.6" fill="#2fd90f"/>
<rect x="466.9" y="565.7" width="33.2" height="15" rx="1.6" fill="#88c8f0"/>
<rect x="320.7" y="582.9" width="33.2" height="15" rx="1.6" fill="#1ff0f0"/>
<rect x="431.1" y="598.2" width="33.2" height="15" rx="1.6" fill="#2fd90f"/>
<rect x="369.4" y="604.2" width="33.2" height="15" rx="1.6" fill="#2fd90f"/>
<text x="363.10" y="425.30" font-size="5.93" font-weight="bold" text-anchor="start" fill="#000" >UGT73C5(LITCHI018709.m1)</text>
<text x="311.30" y="438.10" font-size="5.93" font-weight="bold" text-anchor="start" fill="#000" >CHS(LITCHI015108.m1)</text>
<text x="433.50" y="445.10" font-size="5.93" font-weight="bold" text-anchor="start" fill="#000" >CHS(LITCHI023319.m1)</text>
<text x="445.50" y="472.10" font-size="5.93" font-weight="bold" text-anchor="start" fill="#000" >SUVR5(LITCHI018715.m1)</text>
<text x="463.70" y="499.50" font-size="5.93" font-weight="bold" text-anchor="start" fill="#000" >UGT78D1(LITCHI019675.m1)</text>
<text x="277.70" y="471.10" font-size="5.93" font-weight="bold" text-anchor="start" fill="#000" >UGT73C5(LITCHI018707.m1)</text>
<text x="264.90" y="497.50" font-size="5.93" font-weight="bold" text-anchor="start" fill="#000" >ABCG36(LITCHI030483.m1)</text>
<text x="339.00" y="491.50" font-size="5.93" font-weight="bold" text-anchor="start" fill="#000" >MYB111(LITCHI026531.m1)</text>
<text x="396.40" y="501.10" font-size="5.93" font-weight="bold" text-anchor="start" fill="#000" >FLS(LITCHI007338.m1)</text>
<text x="260.80" y="522.10" font-size="5.93" font-weight="bold" text-anchor="start" fill="#000" >CHI(LITCHI027959.m1)</text>
<text x="335.50" y="525.30" font-size="5.93" font-weight="bold" text-anchor="start" fill="#000" >MYB12(LITCHI014465.m1)</text>
<text x="272.30" y="557.10" font-size="5.93" font-weight="bold" text-anchor="start" fill="#000" >UGT78D1(LITCHI016011.m1)</text>
<text x="464.60" y="543.80" font-size="5.93" font-weight="bold" text-anchor="start" fill="#000" >UGT(LITCHI000325.m1)</text>
<text x="445.50" y="575.10" font-size="5.93" font-weight="bold" text-anchor="start" fill="#000" >GSTU17(LITCHI005082.m1)</text>
<text x="303.00" y="592.60" font-size="5.93" font-weight="bold" text-anchor="start" fill="#000" >ANS(LITCHI010261.m1)</text>
<text x="412.30" y="607.90" font-size="5.93" font-weight="bold" text-anchor="start" fill="#000" >UGT43(LITCHI028085.m1)</text>
<text x="346.70" y="614.10" font-size="5.93" font-weight="bold" text-anchor="start" fill="#000" >UGT73C5(LITCHI018709.m1)</text>
<rect x="318.3" y="624.2" width="20.7" height="8.7" fill="#2fd90f"/>
<text x="341.20" y="632.20" font-size="7.2" font-weight="bold" text-anchor="start" fill="#000" >UDP−glycosyltransferase</text>
<rect x="318.3" y="639" width="20.7" height="8.7" fill="#1ff0f0"/>
<text x="342.50" y="645.30" font-size="7.2" font-weight="bold" text-anchor="start" fill="#000" >structural gene</text>
<rect x="435.5" y="624.2" width="20.7" height="8.7" fill="#ffcc00"/>
<text x="459.50" y="632.20" font-size="7.2" font-weight="bold" text-anchor="start" fill="#000" >R2R3−MYB</text>
<rect x="435.5" y="638.8" width="20.7" height="8.7" fill="#88c8f0"/>
<text x="461.00" y="645.30" font-size="7.2" font-weight="bold" text-anchor="start" fill="#000" >others</text>
</svg></body></html>
